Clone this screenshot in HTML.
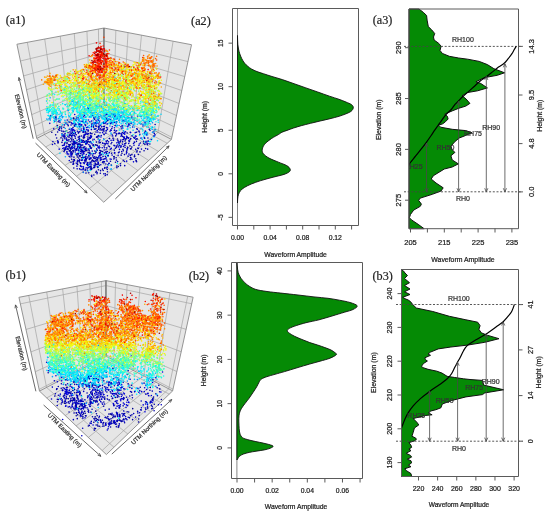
<!DOCTYPE html>
<html><head><meta charset="utf-8"><style>
html,body{margin:0;padding:0;background:#fff;}
svg{display:block;}
</style></head><body>
<svg width="550" height="515" viewBox="0 0 550 515">
<rect width="550" height="515" fill="#fff"/>
<path d="M237.5 8.5V225.5" stroke="#777" stroke-width="0.9"/>
<path d="M237.5 35.5C237.52 36.25 237.55 38.55 237.6 40C237.65 41.45 237.65 42.7 237.8 44.2C237.95 45.7 238.18 47.43 238.5 49C238.82 50.57 239.17 52.02 239.7 53.6C240.23 55.18 240.9 56.92 241.7 58.5C242.5 60.08 243.48 61.8 244.5 63.1C245.52 64.4 246.63 65.32 247.8 66.3C248.97 67.28 249.97 68.12 251.5 69C253.03 69.88 255.02 70.82 257 71.6C258.98 72.38 260.9 72.88 263.4 73.7C265.9 74.52 268.85 75.52 272 76.5C275.15 77.48 278.63 78.4 282.3 79.6C285.97 80.8 290.07 82.32 294 83.7C297.93 85.08 301.95 86.52 305.9 87.9C309.85 89.28 313.77 90.62 317.7 92C321.63 93.38 325.95 94.98 329.5 96.2C333.05 97.42 336.23 98.32 339 99.3C341.77 100.28 344.05 101.23 346.1 102.1C348.15 102.97 350.12 103.72 351.3 104.5C352.48 105.28 352.95 106 353.2 106.8C353.45 107.6 353.2 108.52 352.8 109.3C352.4 110.08 351.93 110.75 350.8 111.5C349.67 112.25 347.97 113 346 113.8C344.03 114.6 341.67 115.48 339 116.3C336.33 117.12 333.15 117.92 330 118.7C326.85 119.48 323.33 120.23 320.1 121C316.87 121.77 313.75 122.52 310.6 123.3C307.45 124.08 304.03 124.92 301.2 125.7C298.37 126.48 295.97 127.22 293.6 128C291.23 128.78 288.93 129.7 287 130.4C285.07 131.1 283.42 131.52 282 132.2C280.58 132.88 280.22 133.47 278.5 134.5C276.78 135.53 273.85 136.95 271.7 138.4C269.55 139.85 267.07 141.73 265.6 143.2C264.13 144.67 263.47 145.97 262.9 147.2C262.33 148.43 262.08 149.47 262.2 150.6C262.32 151.73 262.47 152.75 263.6 154C264.73 155.25 266.52 156.73 269 158.1C271.48 159.47 275.55 160.95 278.5 162.2C281.45 163.45 284.77 164.47 286.7 165.6C288.63 166.73 289.65 167.98 290.1 169C290.55 170.02 290.42 170.8 289.4 171.7C288.38 172.6 286.72 173.48 284 174.4C281.28 175.32 276.97 176.17 273.1 177.2C269.23 178.23 264.43 179.47 260.8 180.6C257.17 181.73 254.02 182.87 251.3 184C248.58 185.13 246.32 186.27 244.5 187.4C242.68 188.53 241.42 189.57 240.4 190.8C239.38 192.03 238.85 193.45 238.4 194.8C237.95 196.15 237.85 197.53 237.7 198.9C237.55 200.27 237.53 202.32 237.5 203Z" fill="#058a05" stroke="#111" stroke-width="0.9"/>
<path d="M232.5 8.5H358.5V225.5H232.5Z" fill="none" stroke="#5a5a5a" stroke-width="1"/>
<path d="M228.5 217.35H232.5M228.5 173.8H232.5M228.5 130.25H232.5M228.5 86.7H232.5M228.5 43.15H232.5" stroke="#5a5a5a" stroke-width="1" fill="none"/>
<path d="M237.5 225.5V229.5M253.8 225.5V229.5M270.1 225.5V229.5M286.4 225.5V229.5M302.7 225.5V229.5M319 225.5V229.5M335.3 225.5V229.5M351.6 225.5V229.5" stroke="#5a5a5a" stroke-width="1" fill="none"/>
<text x="222.6" y="217.35" font-size="6.8" text-anchor="middle" fill="#222" stroke="#222" stroke-width="0.22" style="font-family:'Liberation Sans',Arial,sans-serif" transform="rotate(-90 222.6 217.35)">-5</text>
<text x="222.6" y="173.8" font-size="6.8" text-anchor="middle" fill="#222" stroke="#222" stroke-width="0.22" style="font-family:'Liberation Sans',Arial,sans-serif" transform="rotate(-90 222.6 173.8)">0</text>
<text x="222.6" y="130.25" font-size="6.8" text-anchor="middle" fill="#222" stroke="#222" stroke-width="0.22" style="font-family:'Liberation Sans',Arial,sans-serif" transform="rotate(-90 222.6 130.25)">5</text>
<text x="222.6" y="86.7" font-size="6.8" text-anchor="middle" fill="#222" stroke="#222" stroke-width="0.22" style="font-family:'Liberation Sans',Arial,sans-serif" transform="rotate(-90 222.6 86.7)">10</text>
<text x="222.6" y="43.15" font-size="6.8" text-anchor="middle" fill="#222" stroke="#222" stroke-width="0.22" style="font-family:'Liberation Sans',Arial,sans-serif" transform="rotate(-90 222.6 43.15)">15</text>
<text x="237.5" y="240.3" font-size="6.8" text-anchor="middle" fill="#222" stroke="#222" stroke-width="0.22" style="font-family:'Liberation Sans',Arial,sans-serif">0.00</text>
<text x="270.1" y="240.3" font-size="6.8" text-anchor="middle" fill="#222" stroke="#222" stroke-width="0.22" style="font-family:'Liberation Sans',Arial,sans-serif">0.04</text>
<text x="302.7" y="240.3" font-size="6.8" text-anchor="middle" fill="#222" stroke="#222" stroke-width="0.22" style="font-family:'Liberation Sans',Arial,sans-serif">0.08</text>
<text x="335.3" y="240.3" font-size="6.8" text-anchor="middle" fill="#222" stroke="#222" stroke-width="0.22" style="font-family:'Liberation Sans',Arial,sans-serif">0.12</text>
<text x="295.6" y="257.2" font-size="6.8" text-anchor="middle" fill="#222" stroke="#222" stroke-width="0.22" style="font-family:'Liberation Sans',Arial,sans-serif">Waveform Amplitude</text>
<text x="206.8" y="116.8" font-size="6.8" text-anchor="middle" fill="#222" stroke="#222" stroke-width="0.22" style="font-family:'Liberation Sans',Arial,sans-serif" transform="rotate(-90 206.8 116.8)">Height (m)</text>
<text x="200.9" y="24.5" font-size="12.2" text-anchor="middle" fill="#222" stroke="#222" stroke-width="0.2" style="font-family:'Liberation Serif','Times New Roman',serif">(a2)</text>
<path d="M236.9 262.5V478.5" stroke="#777" stroke-width="0.9"/>
<path d="M236.9 263C236.97 263.67 237.08 265.42 237.3 267C237.52 268.58 237.72 270.83 238.2 272.5C238.68 274.17 239.45 275.68 240.2 277C240.95 278.32 241.48 279.07 242.7 280.4C243.92 281.73 245.38 283.52 247.5 285C249.62 286.48 252.15 288.22 255.4 289.3C258.65 290.38 262.75 290.87 267 291.5C271.25 292.13 275.73 292.52 280.9 293.1C286.07 293.68 292.48 294.37 298 295C303.52 295.63 309 296.35 314 296.9C319 297.45 323.77 297.75 328 298.3C332.23 298.85 335.73 299.5 339.4 300.2C343.07 300.9 347.03 301.57 350 302.5C352.97 303.43 356.7 304.63 357.2 305.8C357.7 306.97 355.12 308.43 353 309.5C350.88 310.57 348 311.12 344.5 312.2C341 313.28 336.25 314.73 332 316C327.75 317.27 323.33 318.68 319 319.8C314.67 320.92 309.8 321.73 306 322.7C302.2 323.67 298.95 324.67 296.2 325.6C293.45 326.53 290.98 327.45 289.5 328.3C288.02 329.15 287.3 329.87 287.3 330.7C287.3 331.53 288.28 332.37 289.5 333.3C290.72 334.23 292.52 335.27 294.6 336.3C296.68 337.33 299.47 338.45 302 339.5C304.53 340.55 307.22 341.68 309.8 342.6C312.38 343.52 314.98 344.17 317.5 345C320.02 345.83 322.65 346.77 324.9 347.6C327.15 348.43 329.32 349.15 331 350C332.68 350.85 334.12 351.92 335 352.7C335.88 353.48 337.13 353.78 336.3 354.7C335.47 355.62 332.72 357.12 330 358.2C327.28 359.28 323.37 360.23 320 361.2C316.63 362.17 313.63 362.9 309.8 364C305.97 365.1 301.22 366.53 297 367.8C292.78 369.07 288.17 370.52 284.5 371.6C280.83 372.68 277.95 373.45 275 374.3C272.05 375.15 269.05 375.92 266.8 376.7C264.55 377.48 262.75 378.17 261.5 379C260.25 379.83 260.1 380.4 259.3 381.7C258.5 383 257.75 385 256.7 386.8C255.65 388.6 254.25 390.62 253 392.5C251.75 394.38 250.53 396.27 249.2 398.1C247.87 399.93 246.27 401.82 245 403.5C243.73 405.18 242.47 406.78 241.6 408.2C240.73 409.62 240.23 410.73 239.8 412C239.37 413.27 239.17 414.3 239 415.8C238.83 417.3 238.8 419.32 238.8 421C238.8 422.68 238.9 424.23 239 425.9C239.1 427.57 239.18 429.53 239.4 431C239.62 432.47 239.9 433.72 240.3 434.7C240.7 435.68 241.17 436.27 241.8 436.9C242.43 437.53 242.57 437.9 244.1 438.5C245.63 439.1 248.47 439.87 251 440.5C253.53 441.13 256.63 441.72 259.3 442.3C261.97 442.88 264.7 443.37 267 444C269.3 444.63 272.6 445.38 273.1 446.1C273.6 446.82 271.47 447.67 270 448.3C268.53 448.93 266.63 449.42 264.3 449.9C261.97 450.38 258.52 450.78 256 451.2C253.48 451.62 251.28 451.93 249.2 452.4C247.12 452.87 244.98 453.45 243.5 454C242.02 454.55 241.12 455.17 240.3 455.7C239.48 456.23 239.02 456.7 238.6 457.2C238.18 457.7 238.08 458.23 237.8 458.7C237.52 459.17 237.05 459.78 236.9 460Z" fill="#058a05" stroke="#111" stroke-width="0.9"/>
<path d="M231.5 262.5H362.5V478.5H231.5Z" fill="none" stroke="#5a5a5a" stroke-width="1"/>
<path d="M227.5 447.9H231.5M227.5 403.65H231.5M227.5 359.4H231.5M227.5 315.15H231.5M227.5 270.9H231.5" stroke="#5a5a5a" stroke-width="1" fill="none"/>
<path d="M237 478.5V482.5M254.58 478.5V482.5M272.16 478.5V482.5M289.74 478.5V482.5M307.32 478.5V482.5M324.9 478.5V482.5M342.48 478.5V482.5M360.06 478.5V482.5" stroke="#5a5a5a" stroke-width="1" fill="none"/>
<text x="221.6" y="447.9" font-size="6.8" text-anchor="middle" fill="#222" stroke="#222" stroke-width="0.22" style="font-family:'Liberation Sans',Arial,sans-serif" transform="rotate(-90 221.6 447.9)">0</text>
<text x="221.6" y="403.65" font-size="6.8" text-anchor="middle" fill="#222" stroke="#222" stroke-width="0.22" style="font-family:'Liberation Sans',Arial,sans-serif" transform="rotate(-90 221.6 403.65)">10</text>
<text x="221.6" y="359.4" font-size="6.8" text-anchor="middle" fill="#222" stroke="#222" stroke-width="0.22" style="font-family:'Liberation Sans',Arial,sans-serif" transform="rotate(-90 221.6 359.4)">20</text>
<text x="221.6" y="315.15" font-size="6.8" text-anchor="middle" fill="#222" stroke="#222" stroke-width="0.22" style="font-family:'Liberation Sans',Arial,sans-serif" transform="rotate(-90 221.6 315.15)">30</text>
<text x="221.6" y="270.9" font-size="6.8" text-anchor="middle" fill="#222" stroke="#222" stroke-width="0.22" style="font-family:'Liberation Sans',Arial,sans-serif" transform="rotate(-90 221.6 270.9)">40</text>
<text x="237" y="493" font-size="6.8" text-anchor="middle" fill="#222" stroke="#222" stroke-width="0.22" style="font-family:'Liberation Sans',Arial,sans-serif">0.00</text>
<text x="272.16" y="493" font-size="6.8" text-anchor="middle" fill="#222" stroke="#222" stroke-width="0.22" style="font-family:'Liberation Sans',Arial,sans-serif">0.02</text>
<text x="307.32" y="493" font-size="6.8" text-anchor="middle" fill="#222" stroke="#222" stroke-width="0.22" style="font-family:'Liberation Sans',Arial,sans-serif">0.04</text>
<text x="342.48" y="493" font-size="6.8" text-anchor="middle" fill="#222" stroke="#222" stroke-width="0.22" style="font-family:'Liberation Sans',Arial,sans-serif">0.06</text>
<text x="296" y="509.3" font-size="6.8" text-anchor="middle" fill="#222" stroke="#222" stroke-width="0.22" style="font-family:'Liberation Sans',Arial,sans-serif">Waveform Amplitude</text>
<text x="206" y="370.4" font-size="6.8" text-anchor="middle" fill="#222" stroke="#222" stroke-width="0.22" style="font-family:'Liberation Sans',Arial,sans-serif" transform="rotate(-90 206 370.4)">Height (m)</text>
<text x="199" y="279.7" font-size="12.2" text-anchor="middle" fill="#222" stroke="#222" stroke-width="0.2" style="font-family:'Liberation Serif','Times New Roman',serif">(b2)</text>
<path d="M409 9L419 9L423.6 12.6L426.6 15.5L427.1 20.1L428.3 26.6L431.8 30L434.7 33.5L433.5 37L434.1 40L438.8 43.4L441.1 46.4L440 50.4L442.3 53.4L449.3 56.3L458.6 58L467.7 59.2L479.2 61.4L487.4 64.6L493.9 68.7L504.6 72.8L497.2 75.3L484.1 77.7L475.9 81.8L480.8 83.5L487.4 87.9L477.6 90.8L467.7 92.5L462 95.7L466.1 99L469.9 103.4L465.8 106.1L459 108.2L452.2 110.9L446.8 113.2L444.7 114.3L447.4 116.3L448.1 119L445.4 121.8L442.7 123.8L438.6 125.2L440.6 127.2L452.2 129.3L465.8 130.6L471.9 132.7L465.8 135.4L459 138.1L454.3 142.2L450.9 146.3L452.2 149.7L454.9 152.4L450.9 155.8L452.2 159.9L458.3 163.9L452.2 167L444.3 169L433.4 175.7L431.2 179L436 183L443.2 187.8L441 191L432.3 194.3L420.3 198.1L418.6 200.3L421.4 204.1L420.3 206.3L413.7 210.1L410.5 214.4L409.4 217.7L411.5 219.9L418.1 224.3L424.1 228.7L409 228.7Z" fill="#058a05" stroke="#111" stroke-width="1" stroke-linejoin="round"/>
<path d="M404 46.4H523M404 191.8H523" stroke="#444" stroke-width="0.9" stroke-dasharray="2 1.7" fill="none"/>
<clipPath id="ca3"><rect x="409" y="9" width="109.5" height="219.7"/></clipPath>
<path d="M404 170C404.73 169.2 407.33 166.45 408.4 165.2C409.47 163.95 409.15 164.08 410.4 162.5C411.65 160.92 414.08 157.97 415.9 155.7C417.72 153.43 419.62 151.05 421.3 148.9C422.98 146.75 424.42 144.95 426 142.8C427.58 140.65 429.32 138.15 430.8 136C432.28 133.85 433.65 131.72 434.9 129.9C436.15 128.08 437.4 126.35 438.3 125.1C439.2 123.85 439.07 124.1 440.3 122.4C441.53 120.7 443.88 117.05 445.7 114.9C447.52 112.75 449.65 111.25 451.2 109.5C452.75 107.75 453.73 105.88 455 104.4C456.27 102.92 457.53 101.87 458.8 100.6C460.07 99.33 461.13 98.17 462.6 96.8C464.07 95.43 465.72 94.08 467.6 92.4C469.48 90.72 471.8 88.6 473.9 86.7C476 84.8 478.08 82.68 480.2 81C482.32 79.32 484.48 78.17 486.6 76.6C488.72 75.03 490.92 73.18 492.9 71.6C494.88 70.02 496.62 68.48 498.5 67.1C500.38 65.72 502.62 64.67 504.2 63.3C505.78 61.93 506.73 60.47 508 58.9C509.27 57.33 510.75 55.47 511.8 53.9C512.85 52.33 513.57 50.75 514.3 49.5C515.03 48.25 515.88 46.92 516.2 46.4" stroke="#000" stroke-width="1.2" fill="none" clip-path="url(#ca3)"/>
<path d="M426.5 143.2V191.8M424.9 146.72L426.5 143.2L428.1 146.72M424.9 188.28L426.5 191.8L428.1 188.28M458.6 101.5V191.8M457 105.02L458.6 101.5L460.2 105.02M457 188.28L458.6 191.8L460.2 188.28M486.3 76.4V191.8M484.7 79.92L486.3 76.4L487.9 79.92M484.7 188.28L486.3 191.8L487.9 188.28M504.9 63.8V191.8M503.3 67.32L504.9 63.8L506.5 67.32M503.3 188.28L504.9 191.8L506.5 188.28" stroke="#484848" stroke-width="0.8" fill="none"/>
<path d="M409 9H518.5V228.7H409Z" fill="none" stroke="#5a5a5a" stroke-width="1"/>
<path d="M405 200.2H409M405 149.36H409M405 98.53H409M405 47.69H409" stroke="#5a5a5a" stroke-width="1" fill="none"/>
<path d="M518.5 46.4H522.5M518.5 95H522.5M518.5 143.6H522.5M518.5 191.9H522.5" stroke="#5a5a5a" stroke-width="1" fill="none"/>
<path d="M410.5 228.5V232.5M427.4 228.5V232.5M444.3 228.5V232.5M461.2 228.5V232.5M478.1 228.5V232.5M495 228.5V232.5M511.9 228.5V232.5" stroke="#5a5a5a" stroke-width="1" fill="none"/>
<text x="401.5" y="200.2" font-size="7.5" text-anchor="middle" fill="#222" stroke="#222" stroke-width="0.22" style="font-family:'Liberation Sans',Arial,sans-serif" transform="rotate(-90 401.5 200.2)">275</text>
<text x="401.5" y="149.36" font-size="7.5" text-anchor="middle" fill="#222" stroke="#222" stroke-width="0.22" style="font-family:'Liberation Sans',Arial,sans-serif" transform="rotate(-90 401.5 149.36)">280</text>
<text x="401.5" y="98.53" font-size="7.5" text-anchor="middle" fill="#222" stroke="#222" stroke-width="0.22" style="font-family:'Liberation Sans',Arial,sans-serif" transform="rotate(-90 401.5 98.53)">285</text>
<text x="401.5" y="47.69" font-size="7.5" text-anchor="middle" fill="#222" stroke="#222" stroke-width="0.22" style="font-family:'Liberation Sans',Arial,sans-serif" transform="rotate(-90 401.5 47.69)">290</text>
<text x="533.8" y="46.4" font-size="7.5" text-anchor="middle" fill="#222" stroke="#222" stroke-width="0.22" style="font-family:'Liberation Sans',Arial,sans-serif" transform="rotate(-90 533.8 46.4)">14.3</text>
<text x="533.8" y="95" font-size="7.5" text-anchor="middle" fill="#222" stroke="#222" stroke-width="0.22" style="font-family:'Liberation Sans',Arial,sans-serif" transform="rotate(-90 533.8 95)">9.5</text>
<text x="533.8" y="143.6" font-size="7.5" text-anchor="middle" fill="#222" stroke="#222" stroke-width="0.22" style="font-family:'Liberation Sans',Arial,sans-serif" transform="rotate(-90 533.8 143.6)">4.8</text>
<text x="533.8" y="191.9" font-size="7.5" text-anchor="middle" fill="#222" stroke="#222" stroke-width="0.22" style="font-family:'Liberation Sans',Arial,sans-serif" transform="rotate(-90 533.8 191.9)">0.0</text>
<text x="410.5" y="244.6" font-size="7.5" text-anchor="middle" fill="#222" stroke="#222" stroke-width="0.22" style="font-family:'Liberation Sans',Arial,sans-serif">205</text>
<text x="444.3" y="244.6" font-size="7.5" text-anchor="middle" fill="#222" stroke="#222" stroke-width="0.22" style="font-family:'Liberation Sans',Arial,sans-serif">215</text>
<text x="478.1" y="244.6" font-size="7.5" text-anchor="middle" fill="#222" stroke="#222" stroke-width="0.22" style="font-family:'Liberation Sans',Arial,sans-serif">225</text>
<text x="511.9" y="244.6" font-size="7.5" text-anchor="middle" fill="#222" stroke="#222" stroke-width="0.22" style="font-family:'Liberation Sans',Arial,sans-serif">235</text>
<text x="463" y="261.5" font-size="6.9" text-anchor="middle" fill="#222" stroke="#222" stroke-width="0.22" style="font-family:'Liberation Sans',Arial,sans-serif">Waveform Amplitude</text>
<text x="380.6" y="119.7" font-size="6.9" text-anchor="middle" fill="#222" stroke="#222" stroke-width="0.22" style="font-family:'Liberation Sans',Arial,sans-serif" transform="rotate(-90 380.6 119.7)">Elevation (m)</text>
<text x="542.5" y="115.7" font-size="6.9" text-anchor="middle" fill="#222" stroke="#222" stroke-width="0.22" style="font-family:'Liberation Sans',Arial,sans-serif" transform="rotate(-90 542.5 115.7)">Height (m)</text>
<g clip-path="url(#ca3)">
<text x="462.9" y="42" font-size="7" text-anchor="middle" fill="#333" stroke="#333" stroke-width="0.22" style="font-family:'Liberation Sans',Arial,sans-serif">RH100</text>
<text x="491.2" y="130" font-size="7" text-anchor="middle" fill="#333" stroke="#333" stroke-width="0.22" style="font-family:'Liberation Sans',Arial,sans-serif">RH90</text>
<text x="473" y="136.3" font-size="7" text-anchor="middle" fill="#333" stroke="#333" stroke-width="0.22" style="font-family:'Liberation Sans',Arial,sans-serif">RH75</text>
<text x="445.4" y="149.5" font-size="7" text-anchor="middle" fill="#333" stroke="#333" stroke-width="0.22" style="font-family:'Liberation Sans',Arial,sans-serif">RH50</text>
<text x="413.7" y="169" font-size="7" text-anchor="middle" fill="#333" stroke="#333" stroke-width="0.22" style="font-family:'Liberation Sans',Arial,sans-serif">RH25</text>
<text x="462.9" y="201.2" font-size="7" text-anchor="middle" fill="#333" stroke="#333" stroke-width="0.22" style="font-family:'Liberation Sans',Arial,sans-serif">RH0</text>
</g>
<text x="382.5" y="23.7" font-size="12.2" text-anchor="middle" fill="#222" stroke="#222" stroke-width="0.2" style="font-family:'Liberation Serif','Times New Roman',serif">(a3)</text>
<path d="M401.5 269.5L403.5 271L405 273L407.5 275.5L404.5 278.5L409.5 282.7L404.5 285.5L410 289L404.5 291.8L410 294.5L402.7 297.3L405 298.7L408.2 300L410.5 301.6L412.7 304.5L416.3 308L432.8 311.5L449.4 316.3L465.9 319.8L477.7 322.2L480.1 325.7L478.9 329.3L481.3 332.8L487.2 335.2L499 338.7L484.8 342.3L467.5 345.1L450.9 347L438.2 348.9L430.5 352.1L428 354L430.5 355.3L424.8 357.8L425.5 359.7L427.4 361L423.5 363.5L421.6 366.1L422.3 367.4L428 369.3L436.9 371.2L442 373.1L447.1 376.3L454.7 377.5L463.6 378.8L470 379.5L482.5 380.4L483.7 385.1L503.7 389.8L484.8 392.9L482.5 394.6L465.9 396.9L451.7 400.5L442.3 404L440.9 407.8L435.9 409.7L430.8 411L428.3 412.9L432.1 414.8L425.8 415.4L415.7 417.9L413.2 418.6L416.9 422.3L418.8 424.9L414.4 428L413.2 432.4L411.9 436.2L415.7 438.1L416.4 439.4L414.2 441L408.9 442.6L411 445.3L411.6 447.4L408.9 449L411 450.6L406.2 453.3L410.5 455.4L411.6 457.1L407.3 459.2L411 460.8L411.6 462.9L408.4 465.1L411 466.7L404.6 468.8L406.8 470.9L411 473.6L411.6 476.5L401.5 476.5Z" fill="#058a05" stroke="#111" stroke-width="1" stroke-linejoin="round"/>
<path d="M396 304.5H523M396 441.2H523" stroke="#444" stroke-width="0.9" stroke-dasharray="2 1.7" fill="none"/>
<clipPath id="cb3"><rect x="401.5" y="269.5" width="117" height="207"/></clipPath>
<path d="M398.5 440C398.95 438.22 400.55 431.72 401.2 429.3C401.85 426.88 401.78 427.18 402.4 425.5C403.02 423.82 403.95 421.3 404.9 419.2C405.85 417.1 406.72 415.12 408.1 412.9C409.48 410.68 411.1 408.32 413.2 405.9C415.3 403.48 417.97 400.82 420.7 398.4C423.43 395.98 426.43 393.72 429.6 391.4C432.77 389.08 436.77 386.6 439.7 384.5C442.63 382.4 445.2 380.63 447.2 378.8C449.2 376.97 450.43 375.42 451.7 373.5C452.97 371.58 453.88 369.1 454.8 367.3C455.72 365.5 456.28 364.38 457.2 362.7C458.12 361.02 459.27 359.15 460.3 357.2C461.33 355.25 462.25 352.93 463.4 351C464.55 349.07 465 347.53 467.2 345.6C469.4 343.67 473.52 341.28 476.6 339.4C479.68 337.52 483.38 335.7 485.7 334.3C488.02 332.9 488.57 332.37 490.5 331C492.43 329.63 495.18 327.65 497.3 326.1C499.42 324.55 501.42 323.32 503.2 321.7C504.98 320.08 506.63 318.02 508 316.4C509.37 314.78 510.52 313.47 511.4 312C512.28 310.53 512.82 308.85 513.3 307.6C513.78 306.35 514.13 305.02 514.3 304.5" stroke="#000" stroke-width="1.2" fill="none" clip-path="url(#cb3)"/>
<path d="M429.6 391.4V441.2M428 394.92L429.6 391.4L431.2 394.92M428 437.68L429.6 441.2L431.2 437.68M457.6 362.2V441.2M456 365.72L457.6 362.2L459.2 365.72M456 437.68L457.6 441.2L459.2 437.68M486.2 334.2V441.2M484.6 337.72L486.2 334.2L487.8 337.72M484.6 437.68L486.2 441.2L487.8 437.68M503.2 322V441.2M501.6 325.52L503.2 322L504.8 325.52M501.6 437.68L503.2 441.2L504.8 437.68" stroke="#484848" stroke-width="0.8" fill="none"/>
<path d="M401.5 269.5H518.5V476.5H401.5Z" fill="none" stroke="#5a5a5a" stroke-width="1"/>
<path d="M397.5 462.6H401.5M397.5 428.8H401.5M397.5 395H401.5M397.5 361.2H401.5M397.5 327.4H401.5M397.5 293.6H401.5" stroke="#5a5a5a" stroke-width="1" fill="none"/>
<path d="M518.5 304.6H522.5M518.5 349.9H522.5M518.5 395.6H522.5M518.5 441.2H522.5" stroke="#5a5a5a" stroke-width="1" fill="none"/>
<path d="M418.5 476.5V480.5M437.62 476.5V480.5M456.74 476.5V480.5M475.86 476.5V480.5M494.98 476.5V480.5M514.1 476.5V480.5" stroke="#5a5a5a" stroke-width="1" fill="none"/>
<text x="392.4" y="462.6" font-size="7.2" text-anchor="middle" fill="#222" stroke="#222" stroke-width="0.22" style="font-family:'Liberation Sans',Arial,sans-serif" transform="rotate(-90 392.4 462.6)">190</text>
<text x="392.4" y="428.8" font-size="7.2" text-anchor="middle" fill="#222" stroke="#222" stroke-width="0.22" style="font-family:'Liberation Sans',Arial,sans-serif" transform="rotate(-90 392.4 428.8)">200</text>
<text x="392.4" y="395" font-size="7.2" text-anchor="middle" fill="#222" stroke="#222" stroke-width="0.22" style="font-family:'Liberation Sans',Arial,sans-serif" transform="rotate(-90 392.4 395)">210</text>
<text x="392.4" y="361.2" font-size="7.2" text-anchor="middle" fill="#222" stroke="#222" stroke-width="0.22" style="font-family:'Liberation Sans',Arial,sans-serif" transform="rotate(-90 392.4 361.2)">220</text>
<text x="392.4" y="327.4" font-size="7.2" text-anchor="middle" fill="#222" stroke="#222" stroke-width="0.22" style="font-family:'Liberation Sans',Arial,sans-serif" transform="rotate(-90 392.4 327.4)">230</text>
<text x="392.4" y="293.6" font-size="7.2" text-anchor="middle" fill="#222" stroke="#222" stroke-width="0.22" style="font-family:'Liberation Sans',Arial,sans-serif" transform="rotate(-90 392.4 293.6)">240</text>
<text x="533.4" y="304.6" font-size="7.2" text-anchor="middle" fill="#222" stroke="#222" stroke-width="0.22" style="font-family:'Liberation Sans',Arial,sans-serif" transform="rotate(-90 533.4 304.6)">41</text>
<text x="533.4" y="349.9" font-size="7.2" text-anchor="middle" fill="#222" stroke="#222" stroke-width="0.22" style="font-family:'Liberation Sans',Arial,sans-serif" transform="rotate(-90 533.4 349.9)">27</text>
<text x="533.4" y="395.6" font-size="7.2" text-anchor="middle" fill="#222" stroke="#222" stroke-width="0.22" style="font-family:'Liberation Sans',Arial,sans-serif" transform="rotate(-90 533.4 395.6)">14</text>
<text x="533.4" y="441.2" font-size="7.2" text-anchor="middle" fill="#222" stroke="#222" stroke-width="0.22" style="font-family:'Liberation Sans',Arial,sans-serif" transform="rotate(-90 533.4 441.2)">0</text>
<text x="418.5" y="491" font-size="7" text-anchor="middle" fill="#222" stroke="#222" stroke-width="0.22" style="font-family:'Liberation Sans',Arial,sans-serif">220</text>
<text x="437.62" y="491" font-size="7" text-anchor="middle" fill="#222" stroke="#222" stroke-width="0.22" style="font-family:'Liberation Sans',Arial,sans-serif">240</text>
<text x="456.74" y="491" font-size="7" text-anchor="middle" fill="#222" stroke="#222" stroke-width="0.22" style="font-family:'Liberation Sans',Arial,sans-serif">260</text>
<text x="475.86" y="491" font-size="7" text-anchor="middle" fill="#222" stroke="#222" stroke-width="0.22" style="font-family:'Liberation Sans',Arial,sans-serif">280</text>
<text x="494.98" y="491" font-size="7" text-anchor="middle" fill="#222" stroke="#222" stroke-width="0.22" style="font-family:'Liberation Sans',Arial,sans-serif">300</text>
<text x="514.1" y="491" font-size="7" text-anchor="middle" fill="#222" stroke="#222" stroke-width="0.22" style="font-family:'Liberation Sans',Arial,sans-serif">320</text>
<text x="459" y="507" font-size="6.6" text-anchor="middle" fill="#222" stroke="#222" stroke-width="0.22" style="font-family:'Liberation Sans',Arial,sans-serif">Waveform Amplitude</text>
<text x="375.6" y="372.6" font-size="6.9" text-anchor="middle" fill="#222" stroke="#222" stroke-width="0.22" style="font-family:'Liberation Sans',Arial,sans-serif" transform="rotate(-90 375.6 372.6)">Elevation (m)</text>
<text x="541.5" y="372.3" font-size="6.9" text-anchor="middle" fill="#222" stroke="#222" stroke-width="0.22" style="font-family:'Liberation Sans',Arial,sans-serif" transform="rotate(-90 541.5 372.3)">Height (m)</text>
<g clip-path="url(#cb3)">
<text x="458.8" y="301" font-size="7" text-anchor="middle" fill="#333" stroke="#333" stroke-width="0.22" style="font-family:'Liberation Sans',Arial,sans-serif">RH100</text>
<text x="490.7" y="384" font-size="7" text-anchor="middle" fill="#333" stroke="#333" stroke-width="0.22" style="font-family:'Liberation Sans',Arial,sans-serif">RH90</text>
<text x="474.2" y="390.4" font-size="7" text-anchor="middle" fill="#333" stroke="#333" stroke-width="0.22" style="font-family:'Liberation Sans',Arial,sans-serif">RH75</text>
<text x="444.6" y="403.4" font-size="7" text-anchor="middle" fill="#333" stroke="#333" stroke-width="0.22" style="font-family:'Liberation Sans',Arial,sans-serif">RH50</text>
<text x="416.3" y="418.3" font-size="7" text-anchor="middle" fill="#333" stroke="#333" stroke-width="0.22" style="font-family:'Liberation Sans',Arial,sans-serif">RH25</text>
<text x="459" y="450.5" font-size="7" text-anchor="middle" fill="#333" stroke="#333" stroke-width="0.22" style="font-family:'Liberation Sans',Arial,sans-serif">RH0</text>
</g>
<text x="382.7" y="279.9" font-size="12.2" text-anchor="middle" fill="#222" stroke="#222" stroke-width="0.2" style="font-family:'Liberation Serif','Times New Roman',serif">(b3)</text>
<path d="M16.92 44.24L103.96 28.03L103.95 104.12L36.74 138.45Z" fill="#e6e6e6" stroke="none"/>
<path d="M103.96 28.03L191.52 44.71L171.42 139.4L103.95 104.12Z" fill="#e6e6e6" stroke="none"/>
<path d="M36.74 138.45L103.95 104.12L171.42 139.4L103.74 202.26Z" fill="#e6e6e6" stroke="none"/>
<path d="M27.32 42.3L44.33 134.58L112 194.59M44.73 39.06L57.29 127.96L125.72 181.84M60.29 36.16L69.16 121.89L137.88 170.56M74.29 33.56L80.06 116.32L148.72 160.49M86.94 31.2L90.12 111.19L158.44 151.45M98.44 29.06L99.42 106.43L167.22 143.3M115.85 30.3L113.64 109.19L45.67 146.95M128 32.61L123.36 114.28L54.84 155.69M141.44 35.17L133.91 119.79L65.05 165.41M156.39 38.02L145.4 125.8L76.49 176.31M173.11 41.21L157.95 132.36L89.4 188.6M20.45 60.99L103.96 40.87L187.94 61.58M23.59 75.92L103.96 52.55L184.75 76.6M26.5 89.77L103.95 63.59L181.79 90.52M29.21 102.65L103.95 74.05L179.05 103.46M31.74 114.65L103.95 83.97L176.49 115.51M34.1 125.87L103.95 93.39L174.1 126.78M36.31 136.38L103.95 102.34L171.86 137.32" fill="none" stroke="#a4a4a4" stroke-width="0.7"/>
<path d="M36.74 138.45L16.92 44.24L103.96 28.03L191.52 44.71L171.42 139.4L103.74 202.26L36.74 138.45L103.95 104.12L171.42 139.4M103.96 28.03L103.95 104.12" fill="none" stroke="#8a8a8a" stroke-width="0.9" stroke-linejoin="round"/>
<path d="M103.96 28.03L103.95 104.12" fill="none" stroke="#7a7a7a" stroke-width="1.4"/>
<path d="M123.62 139.49h0M103.89 163.07h0M71.08 151.68h0M80.17 144.98h0M78.7 158.02h0M125.13 140.99h0M89.11 150.67h0M79.68 147.41h0M70.99 162.25h0M83.11 156.94h0M78.48 132.64h0M100.85 159.8h0M86.89 133.06h0M83.3 157.2h0M83.19 151.37h0M96.95 161.05h0M110.93 113.79h0M95.84 172.25h0M129.96 145.88h0M87.39 142.82h0M66.97 143.62h0M126.73 137.04h0M70.36 150.3h0M114.29 158.06h0" stroke="#00008c" stroke-width="1.6" stroke-linecap="round" fill="none"/>
<path d="M73.01 127.55h0M130.18 132.28h0M71.82 153.67h0M93.69 153.75h0M77.41 144.62h0M90.13 138.17h0M139.94 151.91h0M73.28 151.85h0M99.84 147.43h0M79.43 139.4h0M80.6 163.8h0M149.28 129.38h0M66.68 130.69h0M96.4 171.19h0M112.21 134.97h0M78.88 146.05h0M145.67 148.54h0M125.07 147.45h0M63.94 134.77h0M72.51 144.43h0M100.83 154.16h0M96.77 159.28h0M105.2 144.68h0M155.18 129.43h0M78.17 153.19h0M85.65 141.94h0M107.25 169.4h0M85.03 160.1h0M85.88 142.43h0M127.25 122.26h0M113.7 118.54h0M77.5 147.61h0M88.2 152.67h0M109.54 146.67h0M106.48 127.58h0M123.35 150.71h0M67.63 140.26h0M85.33 169.26h0M153.67 136.21h0M81.76 141.93h0M96.04 123.73h0M85.52 131.53h0M113.05 138.4h0M89.33 159.47h0M98.65 129.14h0M64.59 150.59h0M57.28 125.47h0M131.96 159.24h0M93.12 144.73h0M72.55 129.94h0M62.47 145.57h0M90.85 148.13h0M64.92 136.92h0M138.28 154.55h0M71.43 139.83h0M78.88 144.13h0M91.68 176.53h0M87.61 168.11h0M69.41 145.03h0M66.58 146.37h0M87.84 134.32h0M88.37 130.22h0M134.54 142.48h0M69.97 156.87h0M73.52 118.12h0M84.71 141.65h0M104.19 128.61h0M138.4 148.55h0M98.96 136.67h0M105.64 152.1h0M154.26 133.4h0M115.1 115.39h0M99.72 139.87h0M90.25 137.22h0M77.05 140.21h0M140.83 116.46h0M122.36 132.59h0M77.99 147.95h0M64.49 143.87h0M120.52 165.59h0M131.9 154.63h0M89.13 137.88h0M125.4 139.73h0M68.8 144.43h0M116.77 165.94h0M119.38 145.25h0M100.79 125.12h0M70.15 134.73h0M92.46 160.11h0M99.94 157.93h0M80.87 147.2h0M143.55 141.26h0M134.51 138.24h0M96.38 142.08h0M96.03 164.32h0M80.38 144.34h0M119.07 120.39h0M82.68 158.01h0M96.03 132.1h0M71.84 154.92h0M100.9 157.44h0M122.17 125.62h0M91.82 160.92h0M86.92 143.81h0M82.37 157.31h0M130.6 148.89h0M117.93 140.38h0M116.22 133.5h0M80.82 163.16h0M100.6 150.87h0M90.32 166.95h0M70.52 148.61h0M74.48 135.38h0M135.84 158.73h0M144.07 150.76h0M94.77 156.71h0M58.18 121.75h0M64.88 138.66h0M95.43 160.89h0M83.71 129.37h0M88.99 156.78h0M82.74 145.07h0M56.63 138.06h0M94.57 119.16h0M57.63 132.06h0M69.44 147.77h0M100.17 152.52h0M89.63 142.08h0M89.86 146.52h0M111.83 128.56h0M72.04 137.98h0M69.87 122.31h0M73.91 147.45h0M86.13 160.97h0M80.57 165.69h0M90.99 158.59h0" stroke="#0000a6" stroke-width="1.6" stroke-linecap="round" fill="none"/>
<path d="M95.23 158.86h0M124.35 161.45h0M90.99 142.82h0M153.5 111.31h0M82.13 160.24h0M131.03 158.11h0M85.92 143.96h0M85.87 159.74h0M88.71 155.4h0M73.46 161.98h0M144.42 133.15h0M103.49 159.19h0M80.18 155.82h0M104.13 149.97h0M108.57 141.83h0M77.97 144.78h0M86.11 133.83h0M64.59 136.9h0M76.28 134.74h0M85.65 159.23h0M139.38 132.02h0M75.15 133.67h0M120.89 126.82h0M65.43 149.49h0M61.51 128.71h0M91.01 153.71h0M122.29 127.04h0M62.73 139.01h0M103.77 123.46h0M49.16 111.22h0M89.82 152.42h0M147.66 149.15h0M84.14 157.27h0M98.04 162.31h0M143.61 143.27h0M88.33 133.48h0M96.88 145.22h0M102.69 162.31h0M106.69 160h0M127.09 148.86h0M86.3 159.29h0M90.3 147.03h0M85.41 117.34h0M77.35 161.47h0M105.23 118.4h0M74.47 141.74h0M81.05 142.09h0M75.11 132.92h0M76.44 148.92h0M128.98 154.11h0M112.1 155.1h0M97.07 122.37h0M99.5 155.43h0M65.84 131.35h0M142.92 125.99h0M52.45 144.46h0M70.41 144.62h0M93.92 158.31h0M76.89 142.6h0M134.34 141.98h0M120.94 136.3h0M101.49 126.79h0M123.47 146.39h0M81.77 124.96h0M90.34 133.3h0M79.96 106.83h0M83.97 142.24h0M71.37 154.57h0M131.49 123.15h0M90.34 141.46h0M86.12 140.89h0M71.8 156.74h0M84.72 149.07h0M106.82 147.89h0M95.34 104.42h0M83.94 153.78h0M52.92 141.45h0M67.8 124.3h0M104.14 134.59h0M85.7 141.73h0M134.59 155.13h0M95.93 151.68h0M63.79 135.69h0M75.42 132.8h0M90.66 170.04h0M97.83 113.98h0M124.73 133.02h0M98.44 147.41h0M59.57 130.3h0M84.58 135.6h0M83.56 157.58h0M83.19 137.34h0M59.96 122.14h0M92.21 151.11h0M73.01 135.13h0M138.89 131.16h0M109.56 138.51h0M124.73 165.65h0M141.47 149.12h0M72.4 148.31h0M146.95 141.27h0M120.09 117.23h0M81.89 140.39h0M101.22 135.43h0M80.32 153.52h0M98.96 123.94h0" stroke="#0000bf" stroke-width="1.6" stroke-linecap="round" fill="none"/>
<path d="M124.04 137.61h0M126.37 153.8h0M108.91 119.62h0M96.34 123.62h0M84.42 137.34h0M74.21 130.36h0M82.33 159.31h0M54.8 121.17h0M150.01 130.35h0M121.96 128.59h0M73.27 123.35h0M73.57 161.36h0M114.49 127.8h0M68.76 154.11h0M101.83 159.41h0M94.96 122.69h0M78.73 139.31h0M79.47 136.24h0M91.02 166.1h0M83.5 131.77h0M135.26 132.46h0M74.66 146.97h0M88.49 119.96h0M62.76 148.5h0M124.88 145.58h0M111.28 148.24h0M116.54 134.71h0M112.31 126.7h0M100.2 155.71h0M128.19 125.72h0M73.84 150.6h0M99.52 139.96h0M91.59 120.99h0M75.93 142.31h0M150.31 118.76h0M100.94 136.95h0M74.57 160.27h0M99.04 141.3h0M80.91 149.75h0M148.68 123.5h0M99.09 148.15h0M127.76 126.68h0M124.97 138.5h0M87.79 130.07h0M86.36 154.43h0M94 167.13h0M85.43 149.08h0M66.99 152.83h0M137.36 129.36h0M99.48 153.42h0M134.45 118.46h0M106.07 140.95h0M54.04 111.31h0M106.41 130.57h0M119.51 149.39h0M113.7 140.11h0M126.09 123.57h0M83.51 116.79h0M100.39 160.22h0M80.63 166.18h0M81.79 166.53h0M116.88 142.85h0M97.53 136.93h0M114.58 145.77h0M107.52 127.93h0M98.54 163.77h0M138.9 145.5h0M70.85 129.98h0M88.69 167.51h0M83.51 122.46h0M83.49 127.02h0M121.02 116.12h0M136.9 151.89h0M79.53 160.4h0M81.15 145.51h0M83.42 168.16h0M84.02 128.85h0M75.27 152.02h0M104.39 147.76h0M100.61 157.9h0M71.62 128.81h0M86.55 127.58h0M79.77 148.6h0M83.38 166.77h0M74.54 120.54h0M113.99 121.18h0M104.27 152.9h0M103.45 116.23h0M73.77 141.26h0M116.12 122.26h0M67.24 120.03h0M72.14 148.56h0M107.21 123.92h0" stroke="#0000d9" stroke-width="1.6" stroke-linecap="round" fill="none"/>
<path d="M106.62 104.89h0M98.26 118.26h0M116.24 123.38h0M78.38 122.19h0M124.17 116.29h0M91.03 142.37h0M91.16 142.19h0M118.03 114.88h0M98.64 157.51h0" stroke="#008cff" stroke-width="1.6" stroke-linecap="round" fill="none"/>
<path d="M103.07 110.78h0M104.21 110.3h0M94.25 109.12h0M65.38 156.76h0M89.27 127.73h0M56.85 119.05h0M128.06 118.04h0M147.17 121.93h0M143.81 121h0M111.05 169.11h0M94.44 123.11h0M76.72 124.31h0M64.96 120.39h0M115.74 121.99h0M88.39 109.16h0M106.33 153.88h0M99.33 135.69h0M78.85 123.64h0M82.18 155.14h0M95.56 123.77h0M134.72 120.17h0M48.4 112.8h0M139.29 123.56h0M94.34 165.48h0M77.3 95.8h0M89.32 105.22h0M100.72 115.45h0M143.96 125.17h0M113.18 109.72h0M154.16 131.35h0M91.63 124.67h0M87.93 170.92h0M62.25 117.73h0M125.42 118.89h0M60.67 127.2h0M147.53 118.13h0" stroke="#00a6ff" stroke-width="1.6" stroke-linecap="round" fill="none"/>
<path d="M81.05 115.14h0M91.54 105.91h0M114.06 117.64h0M92.14 106.87h0M82.77 121.71h0M158.12 120.31h0M141.99 115.46h0M88.61 165.46h0M84.91 122.69h0M119.7 119.88h0M74.14 120.85h0M108.15 115.26h0M134.71 123.1h0M56.4 112.7h0M61.18 119.73h0M48.31 115.43h0M147.15 119.87h0M85.57 120.27h0M133.37 122.48h0M128.99 120.76h0M150.28 119.29h0M60.45 111.23h0M131.46 115.51h0M118.26 110.42h0M126.41 109.44h0M117.71 111.7h0M50.2 97.74h0M80.88 104.4h0M111.07 118.95h0M84.71 111.76h0M59.64 116.64h0M102.23 122.81h0M146.02 123.81h0M123.99 112.14h0M130.2 127.73h0M154.39 111.7h0M126.18 113.31h0M124.65 117.45h0M128.82 121.62h0M93.19 120.1h0M119.7 120.78h0M132.87 108.41h0M150.69 113.44h0M103.37 114.83h0M87.14 113.1h0M61.23 112.97h0M89.93 111.54h0M53.47 111.54h0M80.61 118.17h0M53.96 110.52h0M89.29 125.62h0M100.06 114.26h0M109.37 111.94h0M146.28 114.07h0M132.91 111.48h0M85.63 116.22h0M83.9 100.97h0M151.07 110.44h0M154.98 119.31h0M116.02 119.59h0M102.07 118.09h0M109.09 113.04h0M89.82 166.62h0M97.72 108.38h0M142.07 93.75h0M73.83 145.9h0M111.32 120.84h0M83.16 119.87h0M102.96 118.45h0M114 113.48h0M82.16 118.63h0M133.1 130.31h0M85.84 116.59h0" stroke="#00bfff" stroke-width="1.6" stroke-linecap="round" fill="none"/>
<path d="M114.47 112.03h0M82.03 115.69h0M115.86 114.69h0M57.34 126.97h0M48.22 115.62h0M127.55 114.52h0M112.89 116.87h0M59.04 114.35h0M103.68 108.04h0M142.18 120.17h0M112.76 122.6h0M47.95 120.02h0M126.6 119.29h0M111.14 120.44h0M84.29 123.36h0M110.82 123.73h0M76.76 97.95h0M56.59 114.73h0M146.21 116.66h0M121.07 112.1h0M73.24 107.26h0M62.4 124.82h0M116.52 121.88h0M71.91 133.75h0M104.83 115.52h0M94.25 112.31h0M89.42 110.63h0M91.09 116.68h0M129.63 118.27h0M125.96 121.59h0M142.64 129.37h0M67.46 106.23h0M142.74 106.4h0M91.88 116.24h0M116.76 116.62h0M91.82 107.59h0M73.73 100.77h0M155.31 101.56h0M111.13 114.29h0M93.84 117.38h0M81.99 113.68h0M101.71 107.17h0M147.36 114.74h0M92.94 96.69h0M108.28 116.24h0M100.05 112.37h0M130.3 113.74h0M145.45 132.08h0M98.05 118.89h0M94.25 128.87h0M80 115.03h0M55.21 111.77h0M119.16 120.14h0M59.35 109.04h0M114.81 107.99h0M105.96 154.75h0M153.96 118.74h0M149.13 117.86h0M96.76 103.71h0M134.5 112.29h0M59.92 153.2h0M46.93 106.79h0M77.39 112.7h0M78.35 117.26h0M91.23 117.12h0M75.11 119.47h0M110.2 105.84h0M78.77 150.33h0M109.48 118.84h0M99.38 126.56h0M54.4 116.7h0M139.57 135.38h0M76.21 125.89h0M131.31 117.66h0M126.77 123.85h0M82.95 112.54h0" stroke="#00d9ff" stroke-width="1.6" stroke-linecap="round" fill="none"/>
<path d="M91.23 99.89h0M63.55 108.92h0M128.41 106.01h0M80.53 123.16h0M112.28 115.1h0M76.41 111.11h0M103.26 118.48h0M100.37 112.4h0M157.89 116.03h0M81.86 116.17h0M105.16 117.16h0M132.49 79.89h0M151.97 139.09h0M69.38 146.96h0M94.6 114.29h0M112.95 124.14h0M66.13 92.39h0M78.1 106.32h0M98.87 106.78h0M99.07 112.23h0M89.91 163.46h0M153.22 120.01h0M111.57 165.39h0M53.15 102.83h0M78.85 107.73h0M143.94 118.71h0M66.12 116.92h0M119.67 107.45h0M73.5 100.82h0M97.2 107.27h0M155.03 114.79h0M130.41 112.55h0M129.21 107.77h0M69.87 102.71h0M118.25 113.61h0M90.26 112.7h0M82.92 99.5h0M127.09 114.01h0M96.41 122.53h0M106.94 110.84h0M56.04 106.11h0M158.61 107.09h0M83.12 100.52h0M70.44 100.71h0M85.08 113.76h0M77.58 95.72h0M116 118.99h0M124.86 110.65h0M82.24 117.46h0M78.57 112.32h0M87.88 126.49h0M156.58 107.8h0M94.61 103.27h0M99.32 112.04h0M137.32 110.42h0M111.11 112.07h0M50.1 110.44h0M86.44 104.41h0M123.86 125.41h0M131.8 122.18h0M85.49 122.09h0M152.13 112.99h0M154.77 126.96h0M57.12 113.71h0M102.39 108.97h0M83.2 108.06h0" stroke="#00f2ff" stroke-width="1.6" stroke-linecap="round" fill="none"/>
<path d="M124.58 112.4h0M131.16 123.55h0M94.27 110.39h0M114.72 113.76h0M143.72 98.05h0M149.91 120.09h0M124.02 111.43h0M58.95 94.37h0M144.82 114.09h0M76.35 104.7h0M109.07 114.72h0M79.2 113.02h0M146.44 132.73h0M80 98.48h0M86.18 82.86h0M104.78 117.62h0M127.97 117.88h0M69.4 112.79h0M76.47 121.09h0M84.11 109.88h0M102.26 119.02h0M90.16 108.26h0M93.76 115.46h0M82.42 99.91h0M109.2 115.49h0M72.8 111.11h0M155.86 130.01h0M142.94 112.25h0M126.72 123.02h0M51.69 108.88h0M54.18 109.02h0M79.96 105.71h0M120.21 118.74h0M53.03 105.17h0M93.16 113.7h0M151.78 116.89h0M145.11 122.07h0M145.17 121.22h0M88.99 110.9h0M52.1 109.78h0M143.87 112.56h0M97.7 106.67h0M144.63 105.92h0M107.46 119.06h0M147.2 125.03h0M87.46 112.7h0M99.11 120.88h0M96.62 106.86h0M97.74 115.85h0M48.79 110.61h0M104.67 110.91h0M50.43 105.02h0M144.95 138.2h0M88.74 103.33h0M85.97 114.54h0M123.2 109.4h0M156.16 112.33h0M54.05 122.54h0M90.5 115.19h0M85.56 113.11h0M151.45 127.31h0M47.06 112.37h0M115.04 105.08h0M83.03 122.68h0M96.08 150.85h0M133.43 117.64h0M106.76 113.68h0M130.35 119.35h0M119.25 83.18h0M46.16 109.28h0M117.99 104.28h0" stroke="#0dfff2" stroke-width="1.6" stroke-linecap="round" fill="none"/>
<path d="M51.94 113.63h0M53.47 110.62h0M126.78 114.89h0M89.72 100.67h0M70.3 115.6h0M79.19 104.7h0M125.57 113.36h0M78.03 101.1h0M93.51 103.87h0M53.98 111.4h0M149.9 118.53h0M144.68 117.07h0M118.26 99.88h0M80.46 112.34h0M103.7 100.61h0M136 113.52h0M137.02 118.21h0M81.51 112.88h0M157.29 99.9h0M86 98.88h0M75.5 105.15h0M148.31 115.38h0M143.41 120.1h0M47.88 108.35h0M121.04 113.16h0M77.89 115.61h0M145.45 109.75h0M114.88 107.55h0M146.17 112.3h0M140.69 101.7h0M121.14 106.97h0M119.84 99.01h0M151.37 118.37h0M54.06 83.74h0M49.77 107.45h0M76.77 109.4h0M92.98 107.35h0M135.68 113.44h0M103.83 110.8h0M100.98 115.56h0M127.21 98.73h0M83.99 103.84h0M119.78 111.61h0M142.38 115.53h0M80.21 92.92h0M144.91 113.94h0M49.7 109.13h0M152.83 114.79h0M129.5 88.15h0M125.62 95.36h0M96.49 93.56h0M109.92 113.75h0" stroke="#26ffd9" stroke-width="1.6" stroke-linecap="round" fill="none"/>
<path d="M93.44 114.96h0M76.69 99.14h0M75.29 101.68h0M66.04 88.84h0M78.32 103.51h0M128.46 110.06h0M126.11 86.48h0M124.79 110.28h0M109.87 106.15h0M87.73 99.85h0M154.68 112.52h0M72.8 93.72h0M111.58 97.45h0M78.83 100.88h0M76.68 99.24h0M77.49 101.44h0M88.26 94.08h0M82.04 105.32h0M109.45 109.15h0M116.8 92.64h0M80.57 100.45h0M74.67 100.25h0M111.47 106.32h0M131.48 107.32h0M53.18 107.45h0M60.46 84.87h0M78.21 110.02h0M55.39 100.04h0M129.73 120.04h0M70.04 90.53h0M103.65 97h0M84.13 87.67h0M95.35 109h0M70.33 93.12h0M139.62 121.72h0M125.38 103.89h0M84.76 110.24h0M55.58 111.78h0M106.33 110.55h0M89.03 111.03h0M79.29 96.16h0M139.82 112.33h0M105.63 101.58h0M84.75 90.24h0M49.61 106.62h0M90.46 103.92h0M156.42 116.67h0M100.1 87.82h0" stroke="#40ffbf" stroke-width="1.6" stroke-linecap="round" fill="none"/>
<path d="M49.62 100.73h0M127.1 111.3h0M91.89 93.8h0M100.27 86.8h0M142.56 109.59h0M79.79 95.88h0M139.81 88.82h0M123.01 92.33h0M82.75 90.59h0M87.82 110.67h0M69.41 104.85h0M108.84 100.3h0M60.72 104.81h0M93.56 109.42h0M124.78 93.09h0M144.57 112.27h0M150.29 109.17h0M102.54 87.5h0M103.46 103.72h0M118.18 106.33h0M80.24 95.96h0M73.17 73.33h0M94.95 109.21h0M157.01 111.54h0M84.41 109.15h0M148.37 110.84h0M125.57 114.64h0M136.27 108.3h0M64.36 92.24h0M124.72 100.28h0M117.21 105.63h0M143.37 112.35h0M80.16 85.27h0M86.13 95.82h0M103.58 95.64h0M106.59 94.16h0M139.15 66.12h0M115.91 88.49h0M76.89 92.83h0M124.85 106.22h0M90 98.56h0M156.69 112.49h0M112.39 115.43h0M156.27 110.31h0M63.04 100.42h0M76.05 95.24h0M95.63 116.75h0M123.8 97.08h0M103.91 109.12h0M123.65 106.59h0M108.99 110.05h0M70.14 94.19h0M113.62 115.14h0M104.25 105.38h0M69.22 99.22h0M111.56 100.49h0M55.86 92.02h0M100.7 99.29h0M153.46 108.18h0M124.44 101.76h0M74.63 84h0M59.11 87.86h0M143.45 104.97h0M79.08 106.09h0" stroke="#59ffa6" stroke-width="1.6" stroke-linecap="round" fill="none"/>
<path d="M117.48 96.56h0M80.31 94.51h0M85.97 104.59h0M148.94 110.64h0M71.89 97.29h0M149.84 111.2h0M67.88 79.82h0M100.16 99.45h0M95.79 93.87h0M149.68 119.82h0M65.41 79.86h0M96.98 111.33h0M143.06 83.09h0M158.83 115.47h0M139.24 115.81h0M146.55 93.1h0M127.49 97.8h0M133.7 111.09h0M91.35 98.2h0M131.3 88.54h0M101.11 107.49h0M55.66 105.41h0M155.44 117.39h0M109.74 104.72h0M131.14 82.25h0M134.83 118.78h0M101.45 107.09h0M81.41 110.26h0M90.75 97.93h0M75.47 83.06h0M101.55 95.44h0M125.24 95.39h0M113.68 101.07h0M57.73 82.71h0M98.76 107.51h0M113.76 110.49h0M80.3 95.55h0M141.67 112.08h0M154.85 105.99h0M67.29 96.11h0M98.7 107.16h0M117.25 103.09h0M138.02 108.07h0M150.76 110.36h0M84.86 107.09h0M123.5 99.2h0M125.25 109.27h0M152.91 101.75h0" stroke="#73ff8c" stroke-width="1.6" stroke-linecap="round" fill="none"/>
<path d="M150.1 79.4h0M91.23 85.92h0M115.94 85.07h0M90.49 108.78h0M105.94 107.44h0M108.64 81.44h0M114.58 99.9h0M96.28 102.71h0M116.99 105.78h0M81.19 96.57h0M150.58 94.37h0M128.32 107.74h0M118.32 112.54h0M88.24 105.5h0M82.17 78.68h0M104.91 109.39h0M141.59 109.07h0M95.25 105.61h0M121.03 94.51h0M97.65 107.77h0M118.16 109.18h0M112.11 91.02h0M82.94 91.26h0M119.47 93.37h0M115.17 86.21h0M73.61 90.83h0M141.56 106.01h0M143.06 96.36h0M88.75 91.74h0M92.63 93.23h0M127.95 97.12h0M103.47 106.38h0M91.2 94.33h0M106.89 107.43h0M96.78 103.38h0M63.28 88.71h0M108.4 98.65h0M108.48 89.09h0M82.11 80.69h0M65.03 84.08h0M146.92 107.18h0M89.98 85.55h0M140.58 94.93h0M122.39 94.67h0M95.55 96.18h0M66.54 93.57h0M88.08 91.06h0M74.08 104.29h0M62.85 89.35h0M144.69 111.52h0M145.27 98.32h0M97.55 101.65h0M79.75 106.09h0M83.7 97.66h0M79.22 89.65h0M64.95 93.56h0M80.8 96.13h0M49.5 88.53h0M60 83.58h0M91.76 105.03h0" stroke="#8cff73" stroke-width="1.6" stroke-linecap="round" fill="none"/>
<path d="M150.04 96.5h0M126.1 92.79h0M156.48 96.55h0M121.5 91.77h0M117.76 98.68h0M127.08 106.22h0M47.33 107.69h0M127.54 78.7h0M77.44 93.85h0M94.42 100.98h0M146.96 111.85h0M152.52 111.73h0M55.05 99.94h0M88.92 87.61h0M130.99 67.38h0M129.79 89.8h0M148.97 86.02h0M54.62 76.91h0M143.72 93.53h0M109.3 112.45h0M120.72 97.04h0M148.4 107.73h0M74.13 97.19h0M151.91 106.55h0M78.91 95.84h0M83.58 84.63h0M127.02 87.13h0M78.23 97.93h0M119.08 88.44h0M51.36 95.15h0M140.56 105.25h0M157.5 75.33h0M149.28 96.48h0M56.95 109.29h0M97.92 99.24h0M63.61 77.79h0M82.08 92.51h0M89.04 98.57h0M103.97 88.19h0M66.67 73.98h0M77.6 86.3h0M78.38 97.94h0M130.08 106.89h0M149.76 110.08h0M84.93 88.25h0M48.62 88.95h0M120.34 102.7h0M141.73 82.71h0M149.68 100.27h0M93.74 91.83h0M143.67 111.65h0M84.96 83.62h0M107.93 86.67h0M117.15 79.75h0M153.23 115.59h0M109.29 94.77h0M79.59 97.48h0M88.66 86.83h0M139.96 95.01h0M126.72 75.66h0M58.85 106.28h0M140.33 98.43h0M146.37 106.07h0M115.47 107.46h0M122.02 94.8h0M131.49 82.46h0M83.61 107.94h0M56.58 99.35h0M127.45 80.55h0M79.86 104.81h0M119.82 81.48h0M122.66 72.89h0M151.36 90.76h0M102.78 95.93h0M144.46 84.47h0M96.01 95.17h0M147.59 115.54h0M85.3 94.07h0M112.45 86.12h0M108.42 94.32h0M154.18 112.52h0M160.7 107.48h0M123.56 96.84h0M139.13 83.12h0" stroke="#a6ff59" stroke-width="1.6" stroke-linecap="round" fill="none"/>
<path d="M127.79 100.94h0M94.46 92.45h0M125.13 95.19h0M101.21 84.11h0M148.64 86.55h0M73.06 91.49h0M90.76 68.46h0M156.77 104.1h0M90.26 89.47h0M128.4 84.48h0M114.47 95.21h0M58.23 92.33h0M126.5 94.32h0M85.91 91.58h0M151.5 101.12h0M150.65 104.97h0M81.11 99.52h0M99.24 92.19h0M102.77 88.77h0M95.4 97.61h0M112.53 81.41h0M112.84 86.02h0M145.74 101.94h0M72.63 88.48h0M84.03 88.96h0M151.79 80.93h0M139.47 98.43h0M137.09 81.7h0M131.43 83.35h0M121.25 83.5h0M140.75 77.62h0M108.99 91.53h0M80.93 93.19h0M88.2 106.74h0M73.99 86.77h0M79.28 94.17h0M129.67 81.84h0M101.73 92.34h0M109.79 67.45h0M145.37 94.02h0M51.08 82.46h0M151.59 90.69h0M117.71 81.38h0M142.35 73.59h0M141.38 94.54h0M124.25 66.4h0M143.88 111.55h0M122.11 102.93h0M106.76 75.42h0M65.96 81h0M67.79 72.89h0M85.16 87h0M140.42 81.15h0M137.94 82.95h0M90.69 98.22h0M148.02 95.95h0M133.59 99.98h0M111.93 85.43h0M76.41 71.73h0M74.44 80h0M98.88 97.24h0M111.91 82.12h0M67.9 89.3h0M145.21 73.94h0M87.33 113.36h0M65.42 93.34h0M126.5 73.96h0M122.59 73.89h0M133.19 94.13h0M114.38 110.09h0M145.11 114.04h0M113.25 93.02h0M89.61 97.62h0M76.83 92.3h0M68.68 103.19h0M78.44 83.38h0M74.89 76.01h0M51.96 82.84h0M85.83 77.9h0M153.27 92.14h0M146.18 87.94h0M84.87 100.66h0M71.56 90.24h0M76.52 75.21h0M85.02 82.9h0M154.42 87.9h0M124.72 106.88h0M118.73 91.26h0M142.49 78.16h0M101.73 86.92h0M53.1 80.55h0M122.57 69.06h0M77.39 104.46h0M120.61 78.88h0M98.99 95.06h0M69.76 101.45h0M58.11 94.53h0M157.08 87.21h0" stroke="#bfff40" stroke-width="1.6" stroke-linecap="round" fill="none"/>
<path d="M137.94 94.58h0M149.46 104.05h0M84.9 66.45h0M151.14 96.62h0M72.31 79.57h0M124.16 71.15h0M100.49 83.35h0M146.12 75.56h0M126.29 84.46h0M66.73 85.68h0M97.04 91.93h0M50.93 90.48h0M96.83 100.91h0M142.51 78.66h0M91.3 92.32h0M90.56 87.52h0M143.52 99.56h0M68.03 87.88h0M144.62 98.2h0M67.99 98.4h0M126.84 75.55h0M150.81 107.02h0M82.67 113.82h0M85.8 81.3h0M158.07 76.86h0M129.62 82.32h0M148.1 74.73h0M155.52 102.9h0M97.59 95.05h0M158.49 96.54h0M110.79 88.01h0M120.48 84.05h0M123.56 95.09h0M81.8 80.56h0M129.87 101.44h0M73.25 98.65h0M92.61 98.51h0M152.05 85.63h0M83.71 89.07h0M149.86 96h0M132.07 74.7h0M145.71 75.55h0M146.91 77.66h0M72.8 86.12h0M122.72 102.46h0M116.94 81.1h0M138.21 86.31h0M123.54 106.63h0M56.96 80.16h0M93.43 97.01h0M89.25 85.89h0M112.58 78.67h0M96.81 105.29h0M110.01 95.21h0M153.11 96.28h0M102.17 74.9h0M151.75 89.62h0M137.91 77.18h0M82 98.2h0M115.98 80.27h0M129.61 86.63h0M154.02 94.56h0M81.55 97.79h0M152.37 83.3h0M141.34 76.44h0M96.63 92.81h0M88.07 86.86h0M133.64 87.23h0M69.98 91.9h0M79.59 76.35h0M145.43 104.42h0M104.01 83.98h0M142.76 85.08h0M115.22 65.63h0M81.74 75.83h0M118 106.26h0M149.2 89.28h0M148.4 94.34h0M64.55 95.53h0M87.74 80.68h0M138.31 101.83h0M69.6 78.08h0M125.31 75.78h0M115.28 99.17h0M152.85 89.09h0M151.74 92.09h0M89.09 100.42h0M135.4 108.48h0M115.52 71.26h0M134.83 87.73h0M139.08 103.64h0M70.93 85.71h0M125.05 105.08h0M122.2 98.83h0M69.29 80.59h0M146.27 91.88h0M132.18 79.24h0M134.38 104.12h0M97.79 92.18h0M125.23 83.81h0M95.14 99.05h0M126.73 78.95h0M77.5 97.03h0M88.44 86.63h0M118.33 74.76h0M150.26 88.12h0" stroke="#d9ff26" stroke-width="1.6" stroke-linecap="round" fill="none"/>
<path d="M146.26 98.78h0M150.85 90.32h0M112.89 78.47h0M114.26 86.19h0M123.78 88.02h0M65.46 84.24h0M147.4 84.17h0M67.16 86.87h0M155.52 84.75h0M132.98 65.04h0M129.34 91.2h0M85.56 80.11h0M113 78.38h0M127.61 84.85h0M92.62 87.73h0M79.54 91.47h0M148.71 104.93h0M139.89 79.32h0M72.84 75.53h0M88.84 68.46h0M85.54 88.58h0M126.53 78.02h0M68.48 82.38h0M130.93 83.64h0M112.67 83.82h0M64.78 77.02h0M141.75 75.66h0M75.63 92.21h0M126.17 77.39h0M127.49 99.42h0M127.73 75.61h0M123.17 89.01h0M154.46 106.1h0M135.5 77.02h0M146.57 102.4h0M133.69 84.98h0M147.12 95.15h0M128.85 103.17h0M124.13 89.04h0M80.57 76.91h0M154.23 102.04h0M81.64 77.54h0M62.93 95.3h0M160.87 98.17h0M144.35 88.14h0M161.35 80.3h0M92.47 89.5h0M125.67 63.32h0M94.12 79.65h0M72.83 91.76h0M97.37 85.44h0M117.46 83.37h0M154 100.95h0M144.62 71.25h0M93.91 80.9h0M145.63 108.49h0M94.84 87.64h0M143.56 84.49h0M117.75 81.99h0M71.09 90.23h0M134.87 86.58h0M121.58 88.78h0M103.56 76.83h0M70.45 82.1h0M132.12 93.02h0M115.69 81.5h0M87.27 85.41h0M134.11 70.1h0M117.53 69.75h0M95.07 92.93h0M110.53 78.71h0M151.9 73.6h0M82.76 92.26h0M89.75 91.63h0M130.9 69.11h0M124.52 79.11h0M101.65 86.95h0M149.54 104.23h0M130.89 93.16h0M91.79 76.79h0M89.71 90.4h0M119.84 97.81h0M131.48 99.91h0M114.46 88.54h0M130.03 79.95h0M72.46 93.93h0M89.84 85.05h0M146.81 100.95h0M88.04 82.84h0M119.23 82.02h0M149.7 94.86h0M144.85 93.46h0M100.36 87.09h0M112.7 71.24h0M103.51 95.99h0M112 78.6h0M154.72 99h0M151.83 94.49h0M61.54 96.16h0M66.69 98.87h0M89.45 64.99h0M127.33 92.92h0M99.37 87.53h0M127.08 67.29h0" stroke="#f2ff0d" stroke-width="1.6" stroke-linecap="round" fill="none"/>
<path d="M58.03 91.2h0M118.4 89.1h0M79.62 82.41h0M46.54 82.94h0M95.53 82.29h0M107.98 79.22h0M96.8 84.25h0M56.39 87.7h0M151.59 89.47h0M144.26 77.43h0M153.82 108.87h0M116.52 74.07h0M131.47 71.14h0M150.17 95.49h0M75.53 74.43h0M116.93 69.61h0M99.21 84.38h0M84.64 91.08h0M139.86 98.53h0M146.93 81.59h0M115.65 67.98h0M137.82 103.11h0M109.19 81.53h0M138.62 88.88h0M121.3 85.37h0M128.93 66.78h0M72.66 75.57h0M135.06 68.78h0M110.76 70.6h0M127.27 89.51h0M104.42 107.46h0M76.65 79.99h0M138.59 88.13h0M95.54 88.99h0M120.4 87.49h0M125.65 95.71h0M81.36 86.43h0M118.55 94.26h0M155.63 95.25h0M143.21 92.88h0M97.04 87.74h0M151.92 70.06h0M110.37 72.37h0M147.09 82.29h0M141.51 79.05h0M127.56 94.69h0M114.96 91.49h0M122.08 64.55h0M152.37 98.37h0M150.01 107.01h0M142.2 96.92h0M48.26 78.9h0M156.72 88.78h0M118.74 90.24h0M116.41 98.31h0M139.41 70.16h0M75.68 76.2h0M129.95 67.57h0M139.21 74.39h0M110.64 66.34h0M105.06 71.12h0M123.65 81.68h0M144.62 82.23h0M133.96 84.38h0M99 107.63h0M154.41 86.75h0M65.01 75.93h0M113.72 91.01h0M131.74 83.16h0M159.55 91.23h0M61.47 86.34h0M117.75 95.58h0M46.67 79.7h0M120.66 96.29h0M70.29 97.34h0M135.92 72.96h0M110.46 64.21h0M128.42 80.71h0M124.37 82.74h0M145.18 64.64h0M88.78 87.21h0M98.53 84.67h0M75.77 78.69h0M142.38 70.56h0" stroke="#fff200" stroke-width="1.6" stroke-linecap="round" fill="none"/>
<path d="M147.34 97.62h0M138.89 66.68h0M93.41 95.72h0M155.67 92.75h0M131.3 73.83h0M153.25 90.71h0M107.66 81.67h0M65.3 88.12h0M161.4 103.64h0M107.1 85.07h0M114.73 81.74h0M142.03 68.58h0M141.22 77.75h0M49.26 88.73h0M107.22 79.98h0M101.42 91.6h0M117.27 77.19h0M158.35 98.02h0M103.45 87.69h0M124.92 72.12h0M111.99 87.29h0M83.72 73.53h0M75.69 78.32h0M144.64 104.19h0M127.03 72.05h0M134.6 73.45h0M149.04 89.24h0M120.36 67.27h0M154.81 96.06h0M110.9 67.86h0M61.6 82.3h0M142.72 73.37h0M158.85 93.42h0M144.74 72.29h0M106.77 94.35h0M53.28 78h0M90.72 90.3h0M157.59 97.38h0M116.06 91.28h0M141.28 72.13h0M149.25 71.64h0M99.99 81.53h0M137.74 81.66h0M127.83 83.73h0M121.53 68.14h0M125.06 96.23h0M139.95 76.21h0M145.28 102.55h0M86.49 66.64h0M72.54 77.05h0M145.54 96.6h0M159.96 78.32h0M145.76 90.28h0M139.71 81.24h0M95.45 82.94h0M144.11 58.04h0M73.5 84.1h0M120.15 70.87h0M152.02 107.8h0M84.96 74.22h0M77.06 71.95h0M88.53 74.8h0M112.9 78.98h0M123.72 85.11h0M141.08 82.95h0M110.29 99.21h0M147.39 92.41h0M55.16 77.06h0M88.85 104.3h0M95.49 90.41h0M122.44 85.01h0M104.03 71.72h0M115.97 70.09h0M153.26 86.27h0M125.81 76.1h0M127.8 64.35h0M140.2 83.72h0M52.12 82.53h0" stroke="#ffd900" stroke-width="1.6" stroke-linecap="round" fill="none"/>
<path d="M150.77 81.34h0M82.85 76.35h0M147.06 62.41h0M152.74 76.41h0M149.84 65.97h0M111.1 64.15h0M156.94 100.16h0M139.43 85.04h0M77.28 104.21h0M110.5 70.22h0M142.5 80.29h0M62.04 78h0M95.62 88.2h0M91.23 85.72h0M148.78 98.82h0M73.68 82.46h0M125.81 81.87h0M150.85 96.91h0M146.09 100.37h0M110.36 87.52h0M107.15 75.57h0M145.12 75.52h0M130.02 100.98h0M106.5 90.13h0M118.55 93.14h0M123.07 80.84h0M141.47 71.47h0M136.68 70.49h0M120.22 66.73h0M112.39 65.35h0M149.15 104.78h0M147.3 82.53h0M91.37 95.44h0M103.05 69.11h0M85.45 76.82h0M152.95 104.39h0M88.16 71.01h0M65.72 77.3h0M50.89 81.78h0M139.44 80.79h0M134.42 100.42h0M86.08 79.21h0M154.5 77.2h0M90.75 62.65h0M124.53 95.86h0M112.72 92.48h0M53.16 84.81h0M84.53 71.37h0M114.84 87.4h0M73.65 78.23h0M144.64 80.67h0M94.78 85.79h0M52.3 78.97h0M145.38 105.64h0M149.95 65.88h0M109.17 75.9h0M131.04 71.3h0M50.36 76.4h0M124.03 89.18h0M103.32 83.83h0M120.41 95.2h0M130.25 95.28h0M91.7 78.3h0M128.14 64.55h0M136.07 62.64h0M146.71 86.75h0M106.42 79.87h0M94.01 72.26h0M151.02 90.18h0M151.36 74.08h0M92.33 80.72h0M114.03 90.77h0M128.91 77h0M95.69 72.76h0M92.75 87.82h0M95.21 76.61h0M107.04 95.53h0M144.94 97.08h0M107.57 61.42h0M105.59 84.82h0M150.28 76.41h0M114.4 85.63h0M113.56 82.21h0M129.82 75.5h0M90.3 88.16h0M135.9 90.98h0M87.52 77.07h0" stroke="#ffbf00" stroke-width="1.6" stroke-linecap="round" fill="none"/>
<path d="M81.06 72.05h0M101.2 53.55h0M118.82 78.05h0M151.54 87.17h0M104 69.49h0M155.42 78.01h0M106.46 67.76h0M147.46 74.45h0M107.91 59.4h0M159.8 77.83h0M144.76 78.71h0M88.26 90.86h0M146.81 84.46h0M112.01 69.09h0M67.75 74.13h0M95.33 70.85h0M90.37 62.59h0M99.39 78.39h0M54.95 85.46h0M115.76 69.26h0M124.22 65.4h0M154.42 86.23h0M146.69 75.14h0M138.66 76.5h0M124.19 86.9h0M115.64 90.17h0M151.76 80.01h0M103.05 89.04h0M110.15 57.84h0M113.16 64.12h0M110.72 86.69h0M111.33 86.62h0M109.95 78.84h0M151.11 97.78h0M94.43 65.82h0M88.05 74.53h0M156.68 69.01h0M83.64 77.25h0M103.22 56.2h0M148.58 79.2h0M112.61 77.39h0M69.73 78.35h0M140.59 64.91h0M80.88 74.99h0M47.32 81.12h0M96.98 81.62h0M104.72 81.98h0M120.09 86.52h0M150.88 76.07h0M155.36 105.38h0M97.36 83.42h0M82.63 69.53h0M99.66 74.24h0M151.43 73.46h0M119.65 81.9h0M138.5 65.76h0M148.46 81.62h0M102.38 88.09h0M95.2 91.5h0M144.19 87.78h0M111.35 72.71h0M115.47 79.94h0M67.55 82.34h0M116.45 64.26h0M90.5 71.76h0M132.82 78.47h0M150.04 89.23h0" stroke="#ffa600" stroke-width="1.6" stroke-linecap="round" fill="none"/>
<path d="M83.52 82.83h0M158.08 75.31h0M139.67 70.75h0M129.6 69.66h0M100.26 58.31h0M121.29 85.82h0M143.55 67.57h0M94.01 85.27h0M95.19 65.84h0M118.17 98.28h0M99.17 79.8h0M97.42 54.97h0M102.75 71.52h0M52.04 79.94h0M120.03 66.62h0M141.62 86.06h0M90.38 69.7h0M142.58 59.78h0M95.83 78.22h0M102.96 83.18h0M127.13 66.17h0M87.87 80.3h0M142.6 85.93h0M130.84 71.9h0M134.43 72.5h0M132.84 82.82h0M128.54 93.88h0M149.57 86.65h0M110.42 67.56h0M100.58 65.75h0M131.39 85.12h0M135.28 78.65h0M103.64 81.72h0M74.89 76.6h0M130.05 81.04h0M133.44 70.27h0M88.62 75.39h0M89.16 67.34h0M102.77 83.09h0M106.47 66.69h0M57.8 81.12h0M119.79 66.69h0M64.03 88.85h0M134.71 105.78h0M134.05 77.19h0M132.94 79.29h0M109.21 77.17h0M153.1 67.89h0M118.55 65.66h0M95.05 81.2h0M139.08 65.21h0M65.68 80.71h0M91.38 84.05h0M77.65 102.34h0" stroke="#ff8c00" stroke-width="1.6" stroke-linecap="round" fill="none"/>
<path d="M106.04 62.1h0M94.02 81.43h0M92.78 70.83h0M154.6 73.1h0M86.39 79.33h0M94.01 84.39h0M118.44 81.32h0M111.81 83.96h0M137.31 65.97h0M116.59 69.7h0M55.6 77.1h0M156.17 72.84h0M112.82 62.68h0M130 91.73h0M148.93 75.89h0M107.07 70.26h0M92.68 72.77h0M89.93 81.46h0M107.27 82.7h0M104.1 82.67h0M143.39 86.8h0M102.06 83.8h0M147.51 56.84h0M98 71.56h0M109.97 64.3h0M159.23 94.74h0M95.24 68.62h0M83.51 75.76h0M60.46 86.62h0M137.21 75.29h0M142.56 96.94h0M90.56 76.56h0M123.26 71.17h0M152.86 79.63h0M111.56 84.36h0M98.58 68.28h0M105.18 71.44h0M117.24 67.18h0M98.42 74.24h0M126.27 65.68h0M152.67 66.42h0M118.32 65.4h0M108.22 73.3h0M95.97 93h0M83.4 79.59h0M105.64 68.77h0M94.52 67.51h0" stroke="#ff7300" stroke-width="1.6" stroke-linecap="round" fill="none"/>
<path d="M100.82 67.9h0M92.65 83.73h0M111.24 90.68h0M95.01 71.37h0M90.32 71.17h0M138 73.89h0M97.05 70.28h0M111.58 68.31h0M117.25 87.28h0M150.43 66.73h0M141.85 68.14h0M109.66 58.48h0M160.08 98.76h0M151.13 86.7h0M92.04 67.67h0M52.99 76.29h0M132.14 93.05h0M94.37 64.94h0M88.89 67.36h0M145.49 79.39h0M94.34 67.68h0M86.19 65.78h0M137.2 62.78h0M151.51 91.55h0M87.26 72.08h0M114.56 59.8h0M143.59 55.51h0M143.04 60.09h0" stroke="#ff5900" stroke-width="1.6" stroke-linecap="round" fill="none"/>
<path d="M86.22 72.61h0M135.18 69.81h0M123.32 74.47h0M147.05 78.91h0M108.8 53.6h0M154.55 101.76h0M95.64 68.84h0M132.97 78.43h0M112.98 79.49h0M109.61 73.31h0M106.52 69.47h0M93.53 68.12h0M105.9 82.02h0M97.6 60.29h0M95.1 64.82h0M131.59 75.45h0M147.03 101.5h0M54.54 76.72h0M137.31 67.24h0M111.32 65.22h0M155.73 77.43h0M127.97 65.2h0M98.89 75.12h0M93.56 68.34h0" stroke="#ff4000" stroke-width="1.6" stroke-linecap="round" fill="none"/>
<path d="M74.76 71.68h0M91.64 79.09h0M144.05 75.35h0M119.56 62.82h0M107.63 57.83h0M131.79 76.13h0M90.8 75.27h0M95.51 58.81h0M114.08 59.16h0M109.22 86.83h0M112.37 79.45h0M148.47 83.83h0M136.47 87.24h0M134.87 83.64h0M92.31 62.47h0M91.18 67.49h0M159.25 82.92h0M98.09 51.3h0M111.5 64.23h0M98.71 57.86h0M96.9 60.88h0M106.72 58.93h0" stroke="#ff2600" stroke-width="1.6" stroke-linecap="round" fill="none"/>
<path d="M119.52 67.13h0M97.89 55.58h0M91.4 62.99h0M103.04 75.49h0M94.9 61.1h0M101.37 63.34h0M95.91 58.67h0M104.58 51.43h0M91.23 75.93h0M122.92 68.48h0M102.61 50.7h0M104.82 66.94h0M109.58 64.72h0M109.61 64.76h0M96.48 78.18h0M104.39 69.44h0M97.8 71.7h0M100.7 67.1h0M105.49 63.87h0M148.16 69.58h0" stroke="#ff0d00" stroke-width="1.6" stroke-linecap="round" fill="none"/>
<path d="M97.97 51.4h0M112.66 70.72h0M101.11 46.85h0M101.12 55.05h0M98.13 64h0M98.91 59.77h0M100.53 66.85h0M98.06 56.61h0M50.16 79.04h0M98.04 61.23h0M89.12 55.85h0M91.14 56.51h0M100 57.12h0M101.83 53.34h0M105.82 55.71h0M93.93 70.91h0M105.58 62.44h0M95.14 55.84h0" stroke="#f20000" stroke-width="1.6" stroke-linecap="round" fill="none"/>
<path d="M96.9 65.58h0M95.41 68.57h0M100.23 75.64h0M86.41 67.09h0M121.94 70.28h0M104.33 76.01h0M127.99 65.23h0M54.03 79.93h0M93.63 61.67h0M111 58.17h0M102.94 77.07h0" stroke="#d90000" stroke-width="1.6" stroke-linecap="round" fill="none"/>
<path d="M118.73 63.8h0M98.81 67.93h0M105.59 61.05h0M100.63 62.31h0M99.81 51.86h0M106.2 61.59h0M94.75 62.25h0M94.53 53.49h0M93.33 64.62h0M94.43 58.93h0M97.14 68.52h0" stroke="#bf0000" stroke-width="1.6" stroke-linecap="round" fill="none"/>
<path d="M91.95 60.67h0M107.96 58.74h0M106.64 69.04h0M106.58 50.64h0M102.32 54.68h0M92.35 66.61h0" stroke="#a60000" stroke-width="1.6" stroke-linecap="round" fill="none"/>
<path d="M101.92 51.97h0M100.46 56.39h0M90.98 66.18h0M101.21 55.07h0M100.41 48.79h0M100.33 54.78h0M105.46 59.08h0M104.27 56.36h0M97.59 54.52h0M97.18 57.85h0M101.98 54.95h0M107.6 86.06h0M98.57 50.68h0" stroke="#8c0000" stroke-width="1.6" stroke-linecap="round" fill="none"/>
<path d="M103.74 129.45h0M76.27 148.9h0M102.61 151.59h0M129.01 124.14h0M92.88 160.49h0M137.08 150.85h0M85.15 157.04h0M70.86 138.27h0M98.18 138.96h0M90.79 166.49h0M79.43 138.18h0M115.7 135.91h0M66.55 146.56h0M83.34 152.01h0M72.89 150.6h0M131.81 147.08h0M97.19 136.82h0M95.64 144.88h0M69.19 146.14h0M83.95 151.43h0M113.72 156.68h0M121.99 153.19h0M91.13 147.98h0M125.36 143.54h0M93.12 145.6h0M102.83 143.31h0" stroke="#00008c" stroke-width="1.6" stroke-linecap="round" fill="none"/>
<path d="M96.97 164.55h0M107.26 174.7h0M103.91 133.94h0M98.27 135.5h0M107.37 140.62h0M76.19 154.43h0M127.08 137.73h0M149.87 144.01h0M103.99 130.97h0M107.43 151.56h0M83.28 172.37h0M106 149.82h0M61.95 142.42h0M100.34 142.56h0M73.06 161.87h0M71.56 147.58h0M112.78 114.67h0M130.53 157.46h0M84.86 162.36h0M81.49 149.66h0M86.78 150.45h0M69.44 135.67h0M104.48 161.79h0M116.41 160.1h0M118.26 166.5h0M62.33 135h0M75.98 120.16h0M65.42 148.04h0M94.69 150.97h0M69.21 129.22h0M76.29 95.98h0M79.07 131.78h0M73.87 159.51h0M84.93 160.97h0M85.22 132.2h0M63.95 131.61h0M89.98 155.02h0M144.88 144.41h0M55.93 119.01h0M116.74 121.76h0M122.98 149.42h0M95.45 163.36h0M81.6 149.8h0M91.74 161.97h0M78.19 144.84h0M74.8 130.97h0M127.69 147.4h0M80.45 146.18h0M95.78 125.92h0M136.79 128.76h0M79.16 124.63h0M106.81 119.8h0M97.02 173.78h0M103.56 161.45h0M99.65 152.66h0M103.24 129h0M75.59 149.98h0M66.96 151.64h0M63.62 136.74h0M68.61 146.55h0M81.81 144.99h0M69 137.26h0M90.46 168.3h0M81.35 130.44h0M122.53 136.54h0M68.93 139.5h0M136.46 141.37h0M85.4 150.38h0M105.28 173.82h0M95.99 152.24h0M90.15 158.44h0M119.12 143.58h0M137.11 138.93h0M83.3 147.37h0M81.64 140.29h0M99.4 165.23h0M50.84 115.58h0M119.29 152.04h0M49.79 116.87h0M145.4 141.44h0M114.79 153.11h0M58.14 142h0M100.36 173.32h0M69.3 151.12h0M120.5 163.69h0M98.81 116.69h0M58.46 129.77h0M88.72 164.45h0M71.12 152.31h0M81.99 150.19h0M68.85 141.07h0M120.44 141.74h0M74.76 146.04h0M93.87 174.94h0M73.81 168.03h0M110.12 159.07h0M99.73 150.18h0M93.61 161.16h0M130.26 159.5h0M107.92 164.78h0M146.97 133.22h0M147.94 143.58h0M72.47 153.82h0M98.9 118.57h0M153.04 132.06h0M67.42 148.72h0M79.88 156.24h0M69.37 150.5h0M124.49 154.6h0M106.82 114.25h0M116.13 157.78h0M120.84 147.31h0M67.02 142.33h0M85.51 142.68h0M119.03 133.37h0M103.34 126.52h0M94.68 167.54h0M78.24 137.15h0M85.9 149.21h0M68.03 132.67h0M109.34 138.52h0M75.13 123.96h0M126.44 152.04h0M81 125.7h0M155.13 124.46h0M130.37 155.39h0M74.49 143.62h0M83.44 135.94h0M91.4 167.7h0M93.4 127.04h0M126.73 150.99h0M93.34 157.45h0M115.5 148.32h0M82.9 150.97h0M132.12 135.92h0M74.18 142.35h0M77.51 160.19h0M88.81 172.79h0M144.59 138.25h0M109.13 163.27h0M65.01 142.67h0" stroke="#0000a6" stroke-width="1.6" stroke-linecap="round" fill="none"/>
<path d="M136.64 161.74h0M90.91 136.92h0M87.94 139.53h0M89.95 145.49h0M81.71 150.2h0M116.81 146.73h0M130.08 139.6h0M83.12 151.99h0M53.72 128.86h0M59.48 128.51h0M73.02 143.94h0M134.38 156.67h0M69.42 134.93h0M65.05 133.51h0M85.55 134.44h0M121.03 146.41h0M114.25 132.78h0M93.93 161.53h0M61.59 131.02h0M75.87 149.96h0M107.39 129.5h0M91.22 148.41h0M118.49 152.66h0M111.2 130.18h0M86.06 147.98h0M71.54 135.75h0M111.06 140.33h0M95.35 116.8h0M67.03 149.32h0M124.14 132.26h0M79.88 131.63h0M104.34 126.52h0M88.53 108.9h0M127.51 148.68h0M102.22 147.7h0M110.04 116.68h0M106.42 141.84h0M83.24 132.3h0M114.29 122.38h0M104.23 143.64h0M78.85 150.85h0M71.95 140.95h0M82 151.59h0M83.92 128.69h0M113.38 114.6h0M99.93 125.29h0M118.74 142.06h0M134.98 137.32h0M103.77 139.17h0M85.12 131.51h0M93.69 117.99h0M86.19 143.21h0M77.4 131.27h0M75.75 124.3h0M97.47 157.68h0M92.79 140.05h0M94.09 165.26h0M139.9 134.28h0M82.46 155.03h0M74.26 144.16h0M87.93 141.15h0M123.72 137.1h0M71.62 159.28h0M128.73 143.44h0M89.29 166.72h0M81.74 151.15h0M63.97 147.88h0M74.38 124.95h0M126.76 152.47h0M95.14 153.46h0M86.49 129.73h0M113.37 120.32h0M104.55 158.87h0M83.54 153.68h0M98.06 163.91h0M98.88 126.87h0M81.1 169.64h0M134 145.24h0M87.65 164.34h0M97.03 160.14h0M105.93 115.03h0M130.32 114.39h0M97.38 166.63h0M82.01 150.8h0M90.86 112.16h0M117.63 161.58h0M78.17 149.92h0M107.94 143.84h0M87.88 137.01h0M97.97 157.99h0M79.51 136.83h0M105.34 117.46h0M73.81 142.78h0M137.55 116.07h0M107.71 155.58h0M97.17 172.49h0M102.99 156.44h0M79.6 168.89h0M145.6 131.2h0M70.5 151.95h0M104.31 126.67h0M136.89 138.79h0M147.93 138.03h0M78.03 143.89h0M63.69 145.18h0M100.79 164.81h0M94.26 161.66h0M70 131.85h0M147.33 144.64h0M84.19 112.44h0M85.7 156.3h0M131.91 117.06h0M95.18 164.05h0M128.31 137.79h0M61.98 133.71h0M135.67 149.33h0M76.53 150.17h0M121.72 151.44h0M62.12 136.11h0M72.91 144.96h0M76.65 117.94h0M102.17 129.19h0M92.17 115.44h0M78.22 148.58h0M140.93 124.05h0M122.55 141.67h0M123.85 120.61h0M78.19 153.63h0M145.63 142.42h0M94.02 124.12h0" stroke="#0000bf" stroke-width="1.6" stroke-linecap="round" fill="none"/>
<path d="M71.04 124.94h0M64.7 135.29h0M154.11 136.37h0M118.76 146.91h0M106.91 143.38h0M90.3 169.82h0M79.12 148.45h0M82.88 169.71h0M73.3 141.72h0M102.55 142.99h0M117.73 106.73h0M126.56 136.21h0M89.84 121.71h0M91.98 143.69h0M155.01 134.9h0M84.25 163.59h0M83.25 121.55h0M86.04 109.65h0M97.88 132.08h0M102.6 132.58h0M111.62 122.73h0M87.9 107.59h0M53.21 114.11h0M104.29 115.75h0M88.83 144.6h0M74.71 114.43h0M91.48 126.56h0M124.74 134.24h0M91.93 168.48h0M139.3 143.93h0M98.86 127.66h0M99.19 146.14h0M105.64 122.58h0M149.61 121.57h0M95.36 122.85h0M89.82 158.26h0M90.17 162.13h0M88.68 149.3h0M84.48 160.34h0M70.95 155.33h0M81.35 141h0M73.42 163.91h0M106.59 114.43h0M59.19 149.17h0M123.66 133.47h0M55.52 117.42h0M125.55 131.68h0M109.39 152.66h0M71.75 136.42h0M84.19 134.54h0M80.15 162.71h0M64.41 144.88h0M91.1 137.19h0M110.01 131.23h0M66.51 139.41h0M76.9 166.15h0M126.46 109.82h0M136.14 136.29h0M78.91 120.08h0M148.39 141.14h0M126.67 161.17h0M70.7 153.77h0M85.23 157.74h0M87.86 127.34h0" stroke="#0000d9" stroke-width="1.6" stroke-linecap="round" fill="none"/>
<path d="M145.39 124.12h0M86.47 119.65h0M78.84 124.91h0M76.82 119.43h0M83.41 172.27h0M68.45 121.81h0M108.52 116.21h0M68.23 110.57h0M91.27 114.54h0M152.49 122.72h0M104.93 113.66h0M80.23 126.25h0M70.81 119.46h0M117.54 125.42h0M109.97 125.94h0M110.61 122.19h0M123.87 107.49h0" stroke="#008cff" stroke-width="1.6" stroke-linecap="round" fill="none"/>
<path d="M90.05 117.15h0M47.54 108.85h0M75.62 153.93h0M116.24 117.56h0M92.54 125.41h0M99.78 120.55h0M83.86 102.67h0M101.76 117.33h0M111.18 169.07h0M134.09 113h0M112.92 122.97h0M46.83 119.02h0M119.16 118.47h0M65.23 128.49h0M60.15 120.78h0M96.78 122.1h0M93.64 116.05h0M104.68 122.75h0M83.1 119.73h0M104.92 117.73h0M134.03 124.29h0M126.27 111.98h0M112.07 114.22h0M152.48 132.53h0M98.73 116.28h0M95.92 117.81h0" stroke="#00a6ff" stroke-width="1.6" stroke-linecap="round" fill="none"/>
<path d="M116.89 116.94h0M112.73 113.83h0M55.48 113.42h0M88.72 110.96h0M96.08 105.66h0M88.42 165.15h0M84.41 113.3h0M124.21 116.73h0M84.99 113.31h0M117.64 118.88h0M117.21 101.21h0M73.34 111.22h0M146.68 133.2h0M83.21 106.94h0M52.09 111.57h0M81.23 125.97h0M123.36 116.61h0M145.14 118.01h0M79.51 120.96h0M61.9 134.63h0M79.12 119.41h0M147.85 117.53h0M116.49 126.61h0M105.13 105.62h0M153.98 136.83h0M108.63 165.04h0M98.45 166.5h0M56.2 117.01h0M139.17 116.27h0M121.61 116.75h0M116.27 110.4h0M158 116.08h0M148.62 123.8h0M74.36 123.87h0M69.97 128.23h0M150.85 118.38h0M84.84 108.92h0M123.09 123.05h0M107.01 120.82h0M100.15 105.8h0M118.65 112.55h0M56.2 111.27h0M72.01 118.45h0M153.41 119.05h0M126.08 126.3h0M105.77 109.83h0M117.56 118.29h0M70.89 119.03h0M144.17 118.1h0M142.24 139.53h0M115.03 113.39h0M119.47 114.52h0M154.96 115.98h0M127.15 121.2h0M72.91 110.58h0M79.03 141.82h0M153.43 112.68h0M84.47 113.71h0M144.5 133.8h0M79.24 129.21h0M113.79 111.05h0M95.46 112.24h0M152.27 118.21h0M77.83 127.11h0M81.78 117.91h0" stroke="#00bfff" stroke-width="1.6" stroke-linecap="round" fill="none"/>
<path d="M116.1 109.05h0M100.29 124.45h0M65.48 114.38h0M118.08 107.86h0M70.14 104.9h0M111.92 117.48h0M86.93 91.74h0M85.89 113.3h0M88.94 117h0M151.03 118.68h0M108.21 120.11h0M103.34 108.78h0M82.46 115.05h0M127.97 129.04h0M92.8 113.27h0M70.85 117.79h0M143.73 114.04h0M112.4 113.53h0M52 115.4h0M73.47 101.31h0M60.1 120.39h0M103.48 113.22h0M73.93 102.5h0M144.94 134.38h0M146.57 132.24h0M139.73 116.02h0M88.9 111.19h0M103.38 111.34h0M79.23 152.1h0M141.51 118.26h0M61.29 86.8h0M121.39 109.76h0M150.5 124h0M155.43 105.47h0M78.09 126.26h0M143.27 120.3h0M110.26 114.79h0M110.5 120.35h0M121.16 123.66h0M54.73 112.5h0M56.18 120.65h0M46.61 110.53h0M146.69 121.54h0M110.85 115.77h0M132.95 115.08h0M140.53 123.62h0M54.34 118.84h0M140.33 123.22h0M124.4 119.99h0M94.34 146.53h0M145.36 134.73h0M161.02 114.28h0M81.12 104.68h0M114.69 114.31h0M73.71 122.07h0M98.86 118.71h0M152.28 118.49h0M70.73 104.09h0M81.11 105.23h0M81.41 126.27h0M143.98 114.8h0M150.49 106.17h0" stroke="#00d9ff" stroke-width="1.6" stroke-linecap="round" fill="none"/>
<path d="M122.97 115.49h0M143.69 106.05h0M104.53 119.53h0M112.67 116.65h0M133.75 109.29h0M118.35 111.19h0M88.21 107.27h0M77.69 93.13h0M78.37 101.76h0M72.33 107.76h0M130.51 114h0M74.66 108.81h0M158.26 122.22h0M115.55 87.67h0M82.91 114.92h0M97.23 107.45h0M89.81 109.47h0M89.21 112.99h0M153.46 110.63h0M107.17 118.01h0M103.22 116.55h0M97.97 106.43h0M148.85 110.21h0M107.47 117.02h0M55.43 113.14h0M95.71 109.1h0M137.75 120.53h0M73.37 108.37h0M128.6 115.19h0M110.17 112.1h0M117.5 114.27h0M105.34 118.51h0M101.9 123.41h0M114.92 118.92h0M137.02 120.26h0M131.66 122.5h0M86.94 114.53h0M75.27 141.42h0M116.17 116.44h0M56.51 110.34h0M125.46 119.94h0M118.33 115.98h0M143.22 112.21h0M88.87 109.79h0M117.59 91.49h0M140.29 114.93h0M148.03 117.98h0M122.5 119.08h0M82.71 158.55h0M84.25 101.82h0M85.55 105.09h0M151.6 107.13h0M144.16 113.92h0M156.08 110.47h0M122.76 120.94h0M145.09 116.67h0M83.62 106.79h0M103.83 139.83h0M97.71 117.6h0M55.29 112.33h0M110.03 122.12h0M70.54 95.35h0M138.08 109.9h0M147.04 112.59h0M130.25 113.43h0M62.64 103.67h0M47.77 109.33h0M72.35 110.13h0M108.77 107.52h0M61.04 114.94h0M94.96 113.94h0M119.6 117.6h0M145.97 113.63h0M59.38 117.38h0M128.5 114.71h0M69.49 91.19h0" stroke="#00f2ff" stroke-width="1.6" stroke-linecap="round" fill="none"/>
<path d="M92.68 109.02h0M87.44 102.95h0M66.27 131.8h0M144.87 125h0M58.02 108.38h0M90.28 170.34h0M49.98 105.47h0M119.69 80.73h0M144.84 113.51h0M71.96 108.61h0M142.72 130.96h0M53.25 113.89h0M81.77 104.25h0M57.74 107.97h0M94.33 108.86h0M141.17 115.4h0M89.95 107.6h0M70.73 114.15h0M73.9 132.5h0M48.55 111.86h0M133.06 134.83h0M115.9 110.4h0M70.21 98.8h0M97.88 104.65h0M71.65 108.34h0M107.98 156.27h0M147.02 124.66h0M129.05 118.98h0M65 87.39h0M77.52 110.95h0M82.17 121.6h0M86.67 116.89h0M76.67 86.24h0M54.66 94.6h0M85.7 108.72h0M90.01 122.57h0M95.24 110.19h0M150.98 107.96h0M91.97 114.43h0M154.61 118.23h0M152.24 119.08h0M72.85 112.48h0M115.57 112.16h0M58.97 110.42h0M77.62 111.97h0M117.34 97.38h0M84.58 119.34h0M100.41 101.08h0M80.96 141.33h0M139.32 113.87h0M78.41 122.24h0M73.37 93.95h0M108.19 112.55h0M135.03 124.02h0M108.58 106.77h0M129.15 114.28h0M112.55 111.88h0M85.28 102.3h0M73.69 122.39h0M74.65 120.99h0M106.34 120.35h0M65.37 141.55h0M93.11 110.72h0M86.05 100.77h0M116.4 110.08h0M117.43 163.34h0M95.97 97.75h0M80.35 101.31h0M70.56 114.73h0M130.73 121.44h0M88.25 112.47h0M51.73 116.4h0M122.23 119.54h0M83.18 96.53h0M104.28 101.15h0M89.11 154.4h0M83.7 121.45h0M67.29 134.92h0M126.34 113.93h0M49.51 110.87h0M119.59 130.13h0M85.24 106.15h0M124.02 121.84h0M55.05 111.71h0M82.1 111.45h0M119.27 116.47h0M112.7 104.27h0M53.49 107.63h0M79.02 102.93h0M107.54 86.37h0M84 112.82h0M79.07 91.31h0M147.11 124.73h0M105.07 113.25h0" stroke="#0dfff2" stroke-width="1.6" stroke-linecap="round" fill="none"/>
<path d="M150.79 121.16h0M66.94 106.73h0M76.57 95.56h0M140.85 111.37h0M129.73 84.26h0M116.66 104.73h0M137.48 114.83h0M97.63 110.24h0M113.81 121.07h0M53.01 104.9h0M98.76 107.56h0M65.1 112.93h0M73.96 105.88h0M105.05 112.8h0M72.86 104.59h0M87.7 112.08h0M144.2 116.98h0M104.41 114.27h0M149.95 115.2h0M123.62 96.21h0M92.36 104.23h0M58.74 106.59h0M126.75 117.86h0M98.18 108.01h0M115.19 77.38h0M75.19 99.01h0M71.56 101.07h0M62.87 107.96h0M147.93 108.03h0M86.19 104.92h0M51.76 91.5h0M123.65 109.37h0M116.62 112.9h0M151.11 121.16h0M93.7 83.55h0M117.04 116.13h0M67.06 78.57h0M130.27 113.83h0M94.01 106.06h0M90.19 95.09h0M66.51 104h0M110.38 108.42h0M151.74 111.76h0M52.77 94.06h0M101.16 105.15h0M123.4 109.74h0M99.61 109.29h0M91.86 113.71h0M80.58 97.68h0M135.19 104.64h0M66.55 91.22h0M111.2 108.14h0M131.12 89.58h0M64.78 104.49h0M52.28 111.1h0M77.41 107.29h0M81.61 109.74h0M153.36 101h0" stroke="#26ffd9" stroke-width="1.6" stroke-linecap="round" fill="none"/>
<path d="M83.18 98.81h0M89.88 111.58h0M113.15 112.75h0M148.55 122.5h0M123.72 100.79h0M113.05 100.88h0M75.85 108.27h0M103.95 112.14h0M66.52 88.45h0M79.57 126.76h0M75.92 107h0M88.2 106.41h0M144.32 115.7h0M154.41 112.2h0M101.19 116.68h0M73.71 103.71h0M119.79 105.88h0M90.19 101.45h0M139.83 115.84h0M95.74 107.44h0M54.17 110.41h0M68.68 97.28h0M49.17 93.65h0M94.5 106.08h0M74.83 106.13h0M109.97 108.95h0M111.56 109.6h0M65.27 111.85h0M118.4 99.07h0M82.59 108.81h0M98.52 95.11h0M144.71 121.42h0M104.01 109.54h0M125.16 113.5h0M134.58 108.82h0M74.92 104.56h0M62.77 108.84h0M127.77 122.07h0M122.39 104.97h0M71.81 104.63h0M79.52 96.45h0M76.01 95.85h0M107.18 115.69h0M113.94 105.7h0M102.96 98.67h0M85.17 100.96h0M71.24 94.1h0M106.6 112.4h0M106.53 115.96h0M147.94 108.83h0M140.66 112.79h0M154.96 112.65h0M82.22 103.59h0M115.8 96.04h0M76.51 102.3h0M87.97 84.18h0M96.63 109.03h0M113.73 117.41h0" stroke="#40ffbf" stroke-width="1.6" stroke-linecap="round" fill="none"/>
<path d="M136.82 103.53h0M153.6 112.71h0M118.92 117.84h0M70.23 95.74h0M97.93 107.8h0M152.41 111.55h0M78.72 90.96h0M118.88 101.31h0M106.12 104.69h0M72.43 100.12h0M75.17 93.32h0M119.19 94.49h0M74.21 99.16h0M117.69 97.08h0M147.18 119.94h0M91.45 87.68h0M113.39 102.84h0M147.62 123.71h0M47.46 103.13h0M151.46 108.47h0M50.61 107.3h0M149.12 115.91h0M86.89 90.17h0M151.42 110.96h0M110.56 113.98h0M156.51 99.96h0M79.28 108.04h0M82.47 103.73h0M146.31 112.48h0M77.65 106.11h0M57.57 104.13h0M81.18 85.82h0M79.28 104.21h0M117.07 92.48h0M86.28 89.3h0M136.34 110.57h0M121.12 107.63h0M95.27 101.85h0M145.63 108.31h0M87.49 96.67h0M155.81 109.82h0M86.31 86.77h0M90.51 105.07h0M121.42 96.73h0M75.83 98.48h0M158.22 96.47h0M127.85 76.97h0M132.7 110.97h0M95.62 109.31h0M116.67 100.4h0M80.48 103.41h0M133.11 106.28h0M103.04 112.79h0M85.63 99.19h0M90.75 103.78h0" stroke="#59ffa6" stroke-width="1.6" stroke-linecap="round" fill="none"/>
<path d="M149.83 85.48h0M74.92 101.43h0M86.76 103.8h0M119.68 105.59h0M77.4 73.14h0M111.88 92.06h0M122.22 69.71h0M149.95 90.46h0M124.84 107.02h0M117.61 96.02h0M138.65 91.13h0M108.99 104.41h0M111.86 82.11h0M75.92 107.02h0M92.83 101.41h0M121.54 92.75h0M93.32 98.42h0M123.3 103.82h0M89.36 87.13h0M140.15 77.32h0M136.32 97.24h0M78.1 98.08h0M91.81 91.32h0M126 106.47h0M134.24 103.07h0M110.58 86.45h0M153.53 102.78h0M86.91 88.39h0M155.32 91.18h0M66.56 131.16h0M111.84 103.69h0M78.92 107.94h0M64.76 90.35h0M87.83 115.92h0M88.59 100.17h0M143.74 102.71h0M131.1 106.59h0M61.01 85.89h0M74.48 89.19h0M147.98 109.34h0M134.44 79.06h0M88.52 88.08h0M108.56 89.67h0M95.92 100.88h0M146.44 106.24h0M73.73 92.39h0M137.06 107.51h0M134.37 90.63h0M143.41 112.55h0M141.95 110.36h0M75.73 97.37h0M136.7 106.12h0M50.65 90.16h0M147.35 104h0M100.55 101.47h0M80.7 89.44h0M81.63 111.41h0M83.55 95.16h0M122.95 108.9h0M62.52 112.41h0M96.16 100.77h0M121.82 75.88h0M155.92 103.08h0M86.73 85.6h0M93.15 94.77h0M137.33 76.63h0M151.9 106.33h0M156.27 105.96h0M79.84 92.83h0M91.23 94.63h0M73.76 98.83h0M133.28 113.7h0M83.67 93.8h0M80.12 92.48h0M83.27 99.6h0" stroke="#73ff8c" stroke-width="1.6" stroke-linecap="round" fill="none"/>
<path d="M69.04 106.2h0M117.41 83.21h0M74.48 109.81h0M151.15 103.46h0M137.51 98.11h0M86.42 100.75h0M106.43 80.53h0M103.21 79.5h0M83.07 82.2h0M153.93 111.81h0M146.11 91.83h0M114.58 81.13h0M120.02 92.19h0M86.84 89.57h0M99.61 84.43h0M110.13 100.11h0M160.23 75.1h0M123.29 92.85h0M100.99 105.05h0M145.36 116.11h0M75.06 94.96h0M114.73 86.3h0M93.41 96.71h0M138.3 114.75h0M74.23 82.99h0M66.09 94.85h0M131.5 85.64h0M83.85 92.63h0M113.97 101.52h0M159.62 82.72h0M97.85 92.24h0M121.68 109.12h0M141.49 79.57h0M72.43 93.39h0M98.47 102.45h0M75.82 91.83h0M90.69 104.4h0M54.03 97.08h0M124.01 100.19h0M135.68 105.27h0M108.75 97.53h0M89.36 98.3h0M155.81 96.44h0M80.68 99.84h0M121.7 95.98h0M148.27 108.7h0M116.31 91.98h0M83.02 98.98h0M68.76 103.99h0M83.17 95.67h0M134.41 69.76h0M54.97 85.38h0M82.16 89.63h0M102.37 98.95h0M94.65 93.56h0M61.46 92.52h0M91.04 102.66h0M82.55 97.65h0M103.7 114.72h0M96.34 100.02h0M89.57 94.47h0M119.07 86.2h0M59.11 79.33h0M153.45 100.69h0M129.98 86.88h0M122.91 105.69h0M88.8 92.98h0M85.4 99.47h0" stroke="#8cff73" stroke-width="1.6" stroke-linecap="round" fill="none"/>
<path d="M91.02 92.17h0M67.72 100.38h0M55.68 106.59h0M132.96 66.25h0M96.88 90.48h0M123.53 92.5h0M58.31 81.86h0M130.53 100.44h0M123.72 99.89h0M113.54 82.01h0M88.03 84.91h0M101.83 97.19h0M92.32 102.03h0M150.42 103.92h0M114.94 88.35h0M87.49 97.05h0M97.76 92.38h0M148.93 107.59h0M135.36 79.06h0M108.7 84.4h0M113.88 96.81h0M146.67 82.32h0M129.39 98.58h0M58.32 83.83h0M137.5 117.8h0M94.08 95.1h0M146.51 109.04h0M112.74 107.48h0M83.99 90.2h0M142.87 71.07h0M154.54 93.19h0M107.14 73.86h0M115.99 97.65h0M139.8 76.25h0M152.79 99.02h0M70.61 71.34h0M83.6 85.13h0M51.28 93.83h0M123.98 68.95h0M87.65 97.3h0M77.92 98.75h0M57.18 95.07h0M59.81 84.16h0M82.76 88.89h0M93.27 101.36h0M86.72 95.61h0M122.19 97.88h0M116.07 112.16h0M69.18 101.31h0M143.22 114.43h0M146.95 87.97h0M150.26 76.14h0M142.8 101.16h0M63.81 82.47h0M146.23 106.26h0M89.15 103.37h0M49.1 88.57h0M123.94 69.29h0M77.22 86.56h0M108.09 111.59h0M123.79 87.87h0M67.76 94.18h0M129.28 109.77h0M108.79 83.59h0M84.42 95.3h0M113.58 108.42h0M53.85 88.94h0M95.83 89.06h0M155.08 104.79h0M113.98 87.99h0M82.94 88.17h0M54.8 112.89h0M105.56 106.66h0M98.97 95.8h0M76.88 86.54h0M142.45 87.66h0M76.8 87.45h0M150.79 82.26h0" stroke="#a6ff59" stroke-width="1.6" stroke-linecap="round" fill="none"/>
<path d="M123.34 81.11h0M131.33 99.98h0M154.04 106.15h0M116.28 90.92h0M59.2 98.8h0M137.82 77.98h0M148.83 83.04h0M151.58 86.08h0M146.15 108.74h0M148.45 87.91h0M153.68 98.59h0M151.38 117.27h0M74.23 92.35h0M141.5 73.54h0M86.71 89.7h0M127.7 81.34h0M92.74 87.3h0M160.37 93.88h0M151.4 92.25h0M131.14 80.21h0M158.46 90.99h0M155.61 76.74h0M125.78 109.47h0M46.34 96.26h0M134.3 87.17h0M96.81 95.65h0M131.66 101.2h0M144.73 79.6h0M100.7 84.07h0M127.65 83.39h0M82.51 92.48h0M72.63 89.47h0M114.89 87.02h0M154.16 100.93h0M119.59 70.64h0M153.56 90.98h0M125.94 92.72h0M139.46 107.01h0M94.15 108.67h0M130.18 72.88h0M75.38 106.68h0M83.17 88.52h0M125.85 98.36h0M91.94 97.35h0M74.84 79.6h0M138.31 97.88h0M108.96 89.64h0M126.12 92.14h0M59.73 81.71h0M75.57 91.82h0M74.73 94.89h0M72.49 94.54h0M73.85 86.99h0M54.92 76.42h0M138.19 67.21h0M121.16 108.18h0M65.33 98.49h0M138.02 65.88h0M95.56 88.33h0M112.41 89.31h0M70.59 87.47h0M91.3 106.63h0M112.6 99.61h0M144.16 113.83h0M145.24 77.13h0M112.83 107.92h0M84.29 100.44h0M125.57 97.6h0M91.38 89.27h0M128.62 69.61h0M101.54 98.47h0M126.17 89.29h0M97.68 96.57h0M147.66 107.42h0M122.72 78.02h0M126.55 104.22h0M122.18 76.36h0" stroke="#bfff40" stroke-width="1.6" stroke-linecap="round" fill="none"/>
<path d="M73.65 84.59h0M95.14 95.28h0M89.06 64.15h0M95.98 92.21h0M129.78 75.63h0M107.53 90.05h0M151.93 110.31h0M55.56 106.98h0M121.22 72.44h0M148.45 83.63h0M120.06 96.48h0M100.67 98.5h0M99.31 93.81h0M118.89 91.88h0M109.36 71.27h0M126.3 99.36h0M116.16 103.16h0M117.18 69.25h0M114.07 86.45h0M96.9 96.66h0M113.24 81.96h0M78.09 94.51h0M68.31 80.77h0M135.47 85.54h0M66.25 80h0M74.31 91.46h0M80.99 81.62h0M105.37 86.93h0M127.72 80.59h0M86.11 101.39h0M148.04 107.23h0M137.76 96.82h0M66.39 90.13h0M88.89 105.99h0M151.17 97.6h0M119.92 68.3h0M100.81 104.31h0M153.88 96.4h0M126.31 104.82h0M85.45 105.87h0M134.47 101h0M71.14 74.63h0M110.42 92.66h0M98.73 86.34h0M75.5 79.21h0M101.88 81.63h0M101.36 98.31h0M110.2 99.12h0M116.41 96.43h0M86.37 90.05h0M144.85 85.81h0M124.6 93.06h0M140.07 78.62h0M103.83 96.72h0M97.97 87.45h0M80.47 82.38h0M134.55 97.92h0M134.38 69.54h0M153.37 76.01h0M92.53 95.89h0M68 80.69h0M115.09 96.08h0M113.63 93.3h0M75.85 98.42h0M116.75 98.37h0M143.77 76.16h0M147.01 108.71h0M128.2 93.95h0M96.74 98.81h0M111.06 94.49h0M78.34 80.92h0M122.62 84.14h0M63.69 82.41h0M128.43 66.34h0M95.18 94.71h0M68.72 81.53h0M57.87 80.75h0M119.77 91.51h0" stroke="#d9ff26" stroke-width="1.6" stroke-linecap="round" fill="none"/>
<path d="M142.29 96.91h0M87.21 94.23h0M113.5 89.79h0M156.06 77.52h0M128.37 74.76h0M141.86 80.85h0M48.83 81.62h0M135.39 80.29h0M118.04 64.01h0M139.06 83.32h0M84.58 83.39h0M77 105.79h0M144.64 97.27h0M95.54 85.38h0M74.5 85.81h0M151.67 85.32h0M93.92 79.99h0M134.33 83.38h0M123.65 66.44h0M143.81 104.32h0M136.4 80.55h0M118.57 81.03h0M69.99 75.2h0M128.11 92.48h0M156.04 85.56h0M121.57 85.07h0M111.27 87.64h0M127.28 96.21h0M99.82 84.74h0M128.52 79.12h0M139.68 95.26h0M64.11 89.3h0M135.29 84.54h0M117.47 94.26h0M147.74 92.91h0M94.24 81h0M153.99 98.41h0M113.44 60.26h0M122.93 82.78h0M93.57 90.58h0M65.73 77.59h0M148.73 77.87h0M154.94 108.69h0M90.15 75.42h0M98.28 94.93h0M109.77 79.51h0M117.53 90.29h0M127.3 69.44h0M130.86 82.11h0M86.22 64.42h0M143.3 91.33h0M123.31 86.8h0M92.39 96.09h0M95.86 96.69h0M79.08 71.14h0M67.72 76.31h0M59.71 79.52h0M142.91 81.17h0M122.63 68.57h0M87.12 101.27h0M107.5 85.19h0M91.23 69.61h0M94.07 88.99h0M96.7 87.82h0M137.97 85.63h0M137.01 105.95h0M119.01 69.63h0M156.71 97.87h0M51.95 89.3h0M149.13 89.66h0M132.67 92.52h0" stroke="#f2ff0d" stroke-width="1.6" stroke-linecap="round" fill="none"/>
<path d="M111.28 81.94h0M156.02 88.68h0M61.43 89.73h0M96.5 75.57h0M126.23 72.93h0M131.47 105.72h0M146.31 85.27h0M105.15 82.9h0M126.26 73.46h0M142.62 61.09h0M76.34 76.99h0M136.13 77.11h0M154.71 97.95h0M120.38 79.19h0M115.77 81.78h0M84.02 76.63h0M88.83 104.03h0M119.11 86.73h0M138.29 106.38h0M106.31 100.99h0M136.2 69.11h0M138.34 100.81h0M76.35 78.57h0M68.48 78.01h0M130.96 92.75h0M155.74 98.97h0M118.33 77.12h0M59.06 82.2h0M105.13 88.35h0M118.65 83.47h0M133.2 77.55h0M141.01 74.54h0M149.76 88.94h0M110.35 75.37h0M122.48 81.64h0M148.38 89.01h0M113.14 83.04h0M105.19 72.47h0M97.99 89.7h0M98.76 83.18h0M146.3 92.87h0M75.41 80.84h0M122.21 82.22h0M142.31 93.16h0M126.84 69.94h0M113.43 72.08h0M92.72 86.04h0M159.91 102.3h0M112.52 66.5h0M114.31 96.21h0M146.12 101.41h0M75.81 79.95h0M127.11 77.28h0M113.59 95.93h0M153.92 85.65h0M137.82 99.75h0M154.71 103.29h0M123.89 96.24h0M143.45 86.47h0M141.1 91.69h0M146.65 80.17h0M108.22 88.03h0M149.98 83.74h0M119.71 81.86h0M48.53 82.33h0M138.09 80.98h0M92.09 82.86h0M89.15 74.11h0M134.18 62.4h0M147.14 96.53h0M93.42 91.13h0M95.34 81.97h0M52.07 102.46h0M115.53 87.71h0M127.78 66.92h0M136.01 88.17h0M126.2 70.57h0M126.47 67.56h0M127.57 75.44h0M113.61 80.37h0M95.45 96.1h0M134.62 83.31h0M158.49 109.62h0M142.05 91.68h0M127.53 91.84h0M91.48 56.15h0M106.94 78.77h0M77.98 73.49h0M124.71 86.79h0M109.92 71.95h0M130.87 87.43h0M90.76 87.66h0M131.82 97.12h0M115.06 75.53h0M143.88 88.79h0M133.43 81.61h0M103.5 83.04h0" stroke="#fff200" stroke-width="1.6" stroke-linecap="round" fill="none"/>
<path d="M78.86 93.07h0M119.51 70.64h0M107.31 70.73h0M144.26 93.58h0M106.15 50.55h0M89.53 84.74h0M157.13 76.5h0M97.66 78.74h0M80.85 85.51h0M81.61 69.69h0M151.92 115.82h0M124.36 67.43h0M144.99 109.91h0M158.07 100.39h0M96.44 86.72h0M109.05 82.03h0M141.38 83.37h0M121.71 67.01h0M96.7 88.82h0M125.81 71.74h0M117.3 71.93h0M139.62 71.17h0M130.71 91.26h0M110.26 73.97h0M114.63 92.39h0M87.94 88.83h0M142.82 85.67h0M111.97 75h0M120.08 66.66h0M95.42 72.7h0M115.83 84.93h0M118.98 89.02h0M101.2 84.31h0M119.59 83.97h0M119.45 68.62h0M158.36 77.99h0M124.17 95.86h0M132.23 74.47h0M151.64 98.41h0M133.67 66.79h0M151.48 91.46h0M135.14 79.04h0M139.96 70.77h0M131.91 73.44h0M86.08 85.68h0M93.81 96.78h0M135.51 80.78h0M116.07 87.02h0M150.67 104.61h0M128.94 80.57h0M93.68 76.64h0M101.34 85.92h0M81.13 70.64h0M144.56 76.25h0M128.36 74.54h0M57.38 88.48h0M115.49 84.29h0M91.57 86.5h0M119.67 78.15h0M57.77 80.21h0M123.86 93.8h0M95.45 90.77h0M113.12 77.04h0M96.69 79.17h0M126.37 97.74h0M117.34 66.19h0M111.56 62.32h0M147.55 80.4h0M106.31 99.31h0M143 77.92h0M100.11 83.97h0M154.27 104.08h0M154.13 102.61h0M120.85 88.21h0M149.4 88.17h0M137.82 85.28h0M123.56 67.57h0M116.6 84.39h0M100.32 88.94h0M90.07 78.57h0M76.04 77.32h0M98.06 86.71h0M51.26 78.91h0M62.5 81.63h0M57.5 77.18h0" stroke="#ffd900" stroke-width="1.6" stroke-linecap="round" fill="none"/>
<path d="M137.66 84.64h0M148.85 81.04h0M128.9 73.62h0M149.82 82.18h0M128.35 87.98h0M114.07 87.2h0M88.1 73.12h0M160.14 105.53h0M108.24 64.19h0M142.94 77.7h0M127.19 86.97h0M107.87 89.2h0M151.91 117.75h0M131.87 69.5h0M69.87 73.64h0M155.51 102.05h0M52.72 82.75h0M121.01 71.05h0M156.29 103.99h0M96.83 74.93h0M106.64 84.35h0M75.45 74.49h0M89.51 86.28h0M135.97 82.75h0M80.27 82.01h0M91.44 78.7h0M110.53 71.89h0M160.66 83h0M61.98 84.24h0M70.82 87.71h0M104.6 95.5h0M101.4 71.11h0M109.13 87.15h0M118.82 66.64h0M126.31 85.22h0M140.53 91.11h0M109.64 69.04h0M132.6 82.17h0M137.85 68.85h0M133.88 77.66h0M159.52 102.7h0M142.89 82.03h0M102.11 90.86h0M89.97 67.91h0M120.86 63.87h0M116.9 92.8h0M134.41 74h0M111.9 83.91h0M122.87 92.07h0M138.44 76.9h0M101.89 98.81h0M151.77 69.22h0M88.97 91.29h0M93.97 82.22h0M134.14 70.46h0M127.02 67.97h0M125.88 77.76h0M60.01 87.55h0M102.96 89.81h0M145.99 86.61h0M109.67 68.15h0M76.19 78.41h0M87.99 73.28h0M89.78 59.94h0M83.21 83.33h0M120.74 87.53h0M151.95 94.65h0M83.57 95.9h0M77.92 71.8h0M105.75 64.52h0M139.26 108.43h0M113.58 62.2h0M111.33 88.22h0M142.11 82.13h0M92.58 77.28h0" stroke="#ffbf00" stroke-width="1.6" stroke-linecap="round" fill="none"/>
<path d="M80.54 70.45h0M87.5 67.7h0M134.61 77.83h0M130.5 91.05h0M82.28 88.92h0M120.31 74.38h0M106.39 80.34h0M101.38 87.31h0M79.38 87.92h0M109.38 84.65h0M123.24 66.04h0M111.81 68.8h0M156.11 87.82h0M55.82 88.31h0M79.39 83.53h0M125.58 97.74h0M86.82 66.08h0M148.38 92.53h0M132.96 95.37h0M131.47 69.68h0M89.28 82.12h0M88.76 65.71h0M145.11 77.29h0M115.92 65.37h0M145.82 79.01h0M67.14 76.5h0M101.89 84.96h0M90.39 73h0M154.84 82.76h0M82.26 79.95h0M106.94 75.11h0M143.94 61.26h0M94.26 86.92h0M93.37 91.97h0M153.03 78.6h0M109.49 66.1h0M147.83 60.66h0M123.32 86.77h0M142.67 85.86h0M142.99 57.86h0M117.93 83.43h0M84.42 82.46h0M94.54 69.83h0M94.05 59.92h0M116.93 61.7h0M139.13 73.54h0M108.12 84.02h0M125.2 70.2h0M146.73 79.9h0M88.71 67.17h0M60.38 81.25h0M149.16 54.88h0M95.93 85.94h0M119.59 86.2h0M129.87 92.96h0M55.21 79.9h0M145.19 69.62h0M121.21 88.92h0M137.76 70.17h0M54.9 78.96h0M131.3 66.92h0M139.75 87.82h0M79.47 82.83h0M98.57 87.61h0M73.19 69.86h0M121.71 71.92h0M139.67 81.91h0M113.73 75.34h0M128.68 85.43h0M106.53 86.24h0" stroke="#ffa600" stroke-width="1.6" stroke-linecap="round" fill="none"/>
<path d="M109.2 82.78h0M143.74 68.58h0M132.5 75.21h0M135.5 79.54h0M147.93 102.22h0M113.04 75.69h0M153.82 77.47h0M155.95 83.69h0M136.97 78.55h0M151.3 73.8h0M108.52 64.94h0M142.72 76.11h0M95.66 80.33h0M82.91 76.13h0M108.83 61.53h0M97.98 84.67h0M131.21 82.28h0M153.24 100.57h0M100.38 81.87h0M111.19 62.59h0M141.42 62.9h0M91.75 85.51h0M129.33 72.33h0M136.35 73.62h0M99.91 77.98h0M121.73 89.53h0M109.82 62.67h0M110.89 67.97h0M96.2 89.72h0M113.87 66.26h0M111.96 77.3h0M132.85 74.01h0M151.28 76.69h0M100.03 74.48h0M95.06 65.32h0M76.56 80.92h0M106.26 78.15h0M145.1 68.92h0M113.89 85.06h0M119.29 93.4h0M121.46 72.18h0M126.38 92.98h0M93.04 80.42h0M129.44 70.36h0M55.99 84.01h0M128.09 75.27h0M47.69 80.14h0M101.74 61.17h0M131.23 70.34h0M151.22 79.06h0M84.33 64.74h0M121.04 86.92h0M136.38 83.78h0M89.57 81.1h0M76.74 73.09h0M94.63 69.68h0M138.59 79.4h0M82.69 74.34h0M125.75 71.92h0M99.04 82.72h0M56.25 74.89h0M123.97 71.4h0M107.41 54.78h0M94.54 83.7h0" stroke="#ff8c00" stroke-width="1.6" stroke-linecap="round" fill="none"/>
<path d="M119.48 59.31h0M142.61 71.19h0M113.97 65.1h0M98.84 71.81h0M157.77 78.34h0M155.48 96.68h0M115.29 61.54h0M105.5 60.32h0M60.98 77.2h0M91.25 74.14h0M148.11 56.07h0M142.94 74.55h0M125.64 100.03h0M70.87 92.9h0M101.8 82.68h0M124.47 98.07h0M90.85 76.66h0M88.67 74.72h0M95.82 69.37h0M99.49 77.34h0M112.94 72.53h0M50.54 78.66h0M127.27 88.17h0M49.85 81.02h0M142.2 75.54h0M117.8 69.74h0M102.12 71.3h0M91.29 73.98h0M134.24 78.15h0M94.59 70.73h0M78.77 77.46h0M144.24 82.29h0M146.57 75.68h0M135.1 78.4h0M113.15 59h0M105.17 76.08h0M103.09 65.24h0M90.39 77.02h0M103.68 55h0M102.05 69.03h0M138.45 65.57h0M89.77 75.05h0M158.67 84.75h0M103.42 79.2h0M109.41 67h0M113.82 84.92h0M141.59 67.68h0M54.49 78.04h0M55.93 85.4h0M130.57 74.95h0" stroke="#ff7300" stroke-width="1.6" stroke-linecap="round" fill="none"/>
<path d="M118.76 62.41h0M123.9 79.34h0M126.67 77.2h0M94.23 72.15h0M75.38 73.44h0M99.79 78.56h0M90.29 66.29h0M106.29 81.69h0M97.09 79.46h0M81.02 73.84h0M105.66 76.69h0M107.26 61.63h0M154.8 88.65h0M93.15 66.2h0M81.89 81.07h0M113.24 79.53h0M111.05 60.77h0M108.36 78.48h0M61.28 90.63h0M138.56 63.4h0M101.49 70.54h0M96.39 87.69h0M52.72 76.21h0M142.99 70.84h0M126.89 65.97h0M124.32 65h0M91.4 66.91h0M88.47 67.77h0M102.98 79.26h0M148.83 89.7h0M99.26 77.25h0M141.29 74.07h0M118.45 94.38h0M78.77 77.56h0M106.13 75.84h0M112.84 69.27h0M130.46 94.31h0M146.46 60.76h0M107.5 78.03h0M143.61 78.56h0M144.75 70.09h0M131.84 79.61h0M154.48 82.71h0M127.64 91.27h0M125.3 73.84h0M104.06 72.47h0M112.57 68.81h0" stroke="#ff5900" stroke-width="1.6" stroke-linecap="round" fill="none"/>
<path d="M79.05 74.82h0M159.06 72.96h0M156.3 82.07h0M103.68 76.47h0M144 63.17h0M104.66 65.31h0M144.89 64.02h0M98.52 85.5h0M90.45 76.24h0M53.79 77.42h0M118.58 69.94h0M152.63 61h0M153.69 93.11h0M158.84 76.67h0M86.94 70.52h0M152.17 81.7h0M102.28 60.81h0M116.13 80.99h0M126.36 82.78h0M103.53 73.67h0M91.4 77.89h0M103.61 61.99h0" stroke="#ff4000" stroke-width="1.6" stroke-linecap="round" fill="none"/>
<path d="M92.09 55.62h0M109.43 49.97h0M90.12 71.72h0M94.96 80.24h0M100.32 77.21h0M104.7 69.18h0M153.35 64.95h0M106.43 62.49h0M92.63 64.1h0M107.31 65.23h0M83.1 78.19h0M131.73 70.22h0M104.69 80.94h0M145.26 76.56h0M97.22 67.17h0M99.39 52.47h0M96.66 48.55h0M97.3 62.46h0M154.74 65.93h0M105.98 61.45h0M101.75 71.88h0M94.05 67.86h0M98.17 71.29h0M112.67 61.76h0M128.45 66.9h0M105.01 60.66h0M148.18 86.09h0M116.68 94.76h0M106.22 63.78h0M143.3 71.8h0M95.26 80.83h0" stroke="#ff2600" stroke-width="1.6" stroke-linecap="round" fill="none"/>
<path d="M157.74 75.89h0M106.67 64.01h0M149.71 72.92h0M100.51 51.51h0M98.02 65.43h0M99.93 67.49h0M99.88 70.31h0M90.13 68.51h0M116.8 83.72h0M89.52 65.67h0M100.54 67.86h0M105.29 58.77h0M95.58 61.09h0M106.36 61.66h0M94.1 58.42h0M106.94 69.68h0M98.07 71.25h0M56.08 75.87h0M83.98 77.94h0M92.66 54.7h0M150.79 72.09h0M146.85 77.1h0M118.53 69.76h0" stroke="#ff0d00" stroke-width="1.6" stroke-linecap="round" fill="none"/>
<path d="M142.96 57.56h0M98.73 58.61h0M101.31 48.45h0M107.14 53.74h0M96.31 58.63h0M107.22 53.71h0M95.58 67.21h0M105.74 62.63h0M101.15 54.19h0" stroke="#f20000" stroke-width="1.6" stroke-linecap="round" fill="none"/>
<path d="M94.32 60.78h0M102.43 53.43h0M104.75 50.72h0M106.41 66.79h0M95.84 64.87h0M98.16 63.12h0M95.02 64.73h0M150.07 73.71h0M107.36 56.48h0M99.03 72.2h0" stroke="#d90000" stroke-width="1.6" stroke-linecap="round" fill="none"/>
<path d="M102.42 55.37h0M102.13 56.84h0M96.07 54.94h0M96.72 50.42h0M96.53 68.79h0M99.69 71.02h0M106.42 56.41h0" stroke="#bf0000" stroke-width="1.6" stroke-linecap="round" fill="none"/>
<path d="M100.56 52.29h0M100.54 51.73h0M98.54 47.14h0M96.54 69.91h0M148.87 77.63h0M99.57 51.41h0M104.16 54.88h0" stroke="#a60000" stroke-width="1.6" stroke-linecap="round" fill="none"/>
<path d="M99.86 51.64h0M95.98 62.61h0M105.09 54.97h0M98.94 64.38h0M99.96 52.19h0M129.54 66.51h0M124.82 66.63h0M102.13 49.3h0" stroke="#8c0000" stroke-width="1.6" stroke-linecap="round" fill="none"/>
<path d="M81.37 157.68h0M58 142.89h0M85.64 158.48h0M87.12 157.09h0M73.58 163.81h0M51.81 132.2h0M77.5 164.4h0M63.93 127.19h0M134.67 156.43h0M95.26 129.04h0M64.23 149.34h0M83.51 140.67h0M83.81 138.11h0M97.96 164.23h0M91.46 168.97h0M90.51 147.06h0M76.99 155.8h0M78.03 154.37h0M79.22 161.7h0M114.55 130.19h0M136.17 160.99h0" stroke="#00008c" stroke-width="1.6" stroke-linecap="round" fill="none"/>
<path d="M130.79 138.67h0M90.28 162.69h0M120.27 141.41h0M79.44 144.11h0M80.78 151.4h0M117.47 145.07h0M101.72 154.77h0M70.95 149.35h0M92.04 123.27h0M68.18 125.63h0M86.35 159.25h0M114.3 150.15h0M85.74 148.84h0M135.79 139.24h0M88.77 139.2h0M114.15 156.51h0M110.5 161.19h0M117.49 139.02h0M121.6 134.56h0M111.54 153.24h0M61.74 126.93h0M120.87 140.12h0M111.16 165.02h0M88.12 131.31h0M73.25 139.65h0M136.13 160.6h0M99.23 142.77h0M78.78 160.78h0M101.8 129.98h0M97.31 145.45h0M85.99 173.1h0M97.9 167.4h0M68.34 149.17h0M127.18 133h0M129.2 141.68h0M91.87 133.66h0M106.35 121.51h0M123.27 160.31h0M131.11 148.51h0M70.2 105.48h0M59.73 126.93h0M90.38 132.96h0M74.82 142.21h0M96.45 157.31h0M74.4 126.28h0M93.74 167.76h0M84.11 142.28h0M103.16 170.44h0M77.4 162.93h0M106.48 153.19h0M91.49 169.22h0M106.03 131.04h0M83.21 147.92h0M121.73 134.07h0M95.03 157.96h0M72.22 135.11h0M66.65 138h0M58.99 120.84h0M72.13 146.56h0M98.64 126.4h0M104.17 146h0M116.2 146.01h0M118.96 142.76h0M74.37 135.78h0M79.59 126.9h0M87.68 163.22h0M115.5 162.31h0M97.52 159.37h0M73.79 118.61h0M102.57 169.13h0M129.78 125.33h0M105.83 143.43h0M72 152.18h0M81.09 147.96h0M69.67 144.72h0M74.3 159.87h0M72.08 143.28h0M136.52 132.3h0M72.28 132.6h0M61.01 137.82h0M73.97 157.16h0M74.73 125.5h0M81.34 160.3h0M78.39 146.29h0M98.42 169.75h0M96.55 137.13h0M55.69 134.83h0M95.99 164.82h0M79.05 144.3h0M77.16 168.84h0M83.43 128.24h0M113.87 159.05h0M100.08 130.03h0M137.92 148.16h0M86.8 141.08h0M108.4 145.95h0M110.21 149.18h0M100 132.74h0M94.73 134.21h0M119.43 133.41h0M101.19 151.28h0M100.55 170.66h0M88.36 141.61h0M87.66 165.43h0M140.42 142.94h0M125.96 142.95h0M116.9 167.66h0M81.35 135.99h0M85.61 160.75h0M84.37 115.46h0M115.14 125.5h0M121.16 155.13h0M111.09 143.79h0M104.64 168.25h0M74.65 141.25h0M93.61 127.07h0M79.37 155.63h0M127.39 137.29h0" stroke="#0000a6" stroke-width="1.6" stroke-linecap="round" fill="none"/>
<path d="M83.35 168.89h0M87.38 134.09h0M96.79 126.19h0M108.78 163.46h0M89.6 153.39h0M91.59 136.31h0M120.96 145.81h0M85.11 124.49h0M121.68 135.42h0M110.75 130.08h0M96.63 148.88h0M82.5 141.12h0M83.36 162.86h0M87.43 142.17h0M63.11 131.25h0M97.88 157.93h0M115.38 132h0M57.69 140.88h0M105.88 133.16h0M124.03 138.31h0M105.37 175.39h0M128.08 156.13h0M126.25 138.65h0M114.03 145.38h0M145.31 131.37h0M91.75 175.27h0M85.31 134.18h0M107.72 120.49h0M82.99 131.93h0M58.33 142.07h0M91.28 136.35h0M145.04 132.72h0M122.79 139.73h0M87.72 139.13h0M105.7 158.77h0M118.28 133.61h0M91.38 129.59h0M105.5 156.54h0M113.15 140.28h0M129.53 141.15h0M104.78 167.51h0M107.46 171.74h0M79.17 141.75h0M63.98 151.54h0M103.82 173.87h0M79.62 140.1h0M72.99 164.22h0M83.91 136.59h0M93.71 145.03h0M70.5 141.77h0M79.59 159.53h0M110.42 119.72h0M114.87 116.76h0M105.83 164.07h0M92.79 155.88h0M87.08 163.09h0M73.5 133.52h0M66.71 140.32h0M66.44 146.79h0M95.15 165.92h0M133.51 143.44h0M108.27 155.66h0M75.41 138.32h0M106.38 167.98h0M72.09 130.14h0M84.11 147.2h0M94.66 166.1h0M102.76 161.93h0M111.82 142.53h0M106.45 152.08h0M71.36 133.49h0M78.38 132.93h0M69.98 147.6h0M69.27 160.59h0M62.64 140.54h0M75.22 143.38h0M69.53 145.31h0M87.88 162.53h0M65.3 148.64h0M124.75 143.89h0M49.79 123.33h0M104.94 123.57h0M132.64 127.06h0M70.75 135.55h0M88 157.99h0M118.14 155.2h0M87.2 170h0M77.62 156.93h0M114.49 130.34h0M107.41 167.08h0M55.96 117.14h0M89.94 164.05h0M86.5 158.58h0M94.34 129.29h0M85.28 170.26h0M84.77 146.82h0M97.91 123.11h0M110.57 123.61h0M94.56 117.74h0M74.32 148.78h0M89.67 159.26h0M85.57 125.62h0M88.03 149.08h0M151.21 139.6h0M54.8 143.59h0M146.88 143.09h0M99.6 121.98h0M65.88 122.88h0M96.02 120.86h0M69.16 156.24h0M76.01 143.6h0M116.35 147.18h0M86.83 164.52h0M99.79 154.94h0M77.56 146.31h0M97.24 150.32h0" stroke="#0000bf" stroke-width="1.6" stroke-linecap="round" fill="none"/>
<path d="M98.31 162.38h0M128.79 124.27h0M76.33 163.29h0M116.41 130.72h0M81.17 128.93h0M126.98 150.04h0M83.98 130.24h0M97.97 146.97h0M95.98 128.75h0M65.69 147.2h0M90.9 157.53h0M135.48 136.01h0M90.64 135.46h0M111.23 148.64h0M122.5 144.26h0M98.22 120.14h0M82.67 121.31h0M146.75 134.88h0M93.23 125.75h0M116.84 118.39h0M94.18 139.28h0M141.02 138.16h0M111.2 159.27h0M144.37 137.64h0M75.15 136.79h0M118.02 141.99h0M98.84 156.41h0M133.5 161.83h0M72.08 131.19h0M122.69 121.05h0M97.26 130.45h0M72.21 123.8h0M106.5 118.3h0M64.38 124.95h0M103.49 122.16h0M73.27 129.46h0M128.57 138.13h0M67.4 153.92h0M133.7 137.57h0M74.16 130.61h0M81.49 124.92h0M128.9 140.57h0M76.12 149.23h0M77.07 153.79h0M81.07 121.35h0M114.58 152.67h0M71.97 147.14h0M83.25 152.92h0M70.16 132.94h0M103.22 130.75h0M80.02 124.27h0M81.48 149.76h0M115.99 125.34h0M86.15 167.71h0M91.62 124.97h0M66.99 146.63h0M145.02 122.18h0M81.46 152.95h0M82.2 142.3h0M67.91 136.35h0M72.59 128.98h0M85.9 121.81h0M121.03 133.66h0M78.32 117.9h0M106.11 157.85h0M91.11 164.16h0M124.31 137.19h0M85.77 144.07h0M50.04 118.87h0M107.07 161.25h0M90.36 138.31h0M112.74 136.07h0M71.4 122.68h0M131.09 123.31h0M100.43 128.79h0M130.66 132.59h0M79.23 124.04h0M92.52 153.83h0M84.63 151.49h0" stroke="#0000d9" stroke-width="1.6" stroke-linecap="round" fill="none"/>
<path d="M151.33 114.84h0M101.31 111.31h0M124.81 121.28h0M142.83 124.18h0M111.12 133.94h0M50.23 120.08h0M97.29 119.51h0M87.48 123.81h0M133.15 125.3h0M76.47 117.01h0M62.4 116.83h0M90.1 104.94h0M119.22 125.52h0M92.15 113.72h0M119.15 144.2h0M61.64 115.6h0M110.52 116.43h0M58.57 118.82h0" stroke="#008cff" stroke-width="1.6" stroke-linecap="round" fill="none"/>
<path d="M152.56 127.14h0M89.85 98.19h0M111 133h0M127.09 118.13h0M128.65 117.64h0M49 118.69h0M86.99 122.77h0M93.69 122.33h0M85.21 117.22h0M89.25 148.82h0M83.05 149.16h0M85.5 142.23h0M122.23 112.32h0M123.57 130.91h0M134.2 127.09h0M89.71 116.65h0M78.5 148.53h0M76.88 119.41h0M72.2 101.48h0M147.6 134.7h0M69.48 116.7h0M93.87 124.02h0M114.5 114.72h0M87.46 108.62h0M53.55 117.74h0M100.97 115.98h0M54.98 118.86h0M96.98 122.69h0" stroke="#00a6ff" stroke-width="1.6" stroke-linecap="round" fill="none"/>
<path d="M82.33 130.67h0M141.89 138.01h0M121.91 120.06h0M109.95 115.81h0M92.96 112.74h0M116.37 118.45h0M104.15 117.8h0M141.04 128.27h0M75.99 102.9h0M147.82 116.79h0M119.3 115.07h0M108.07 153.83h0M60.02 118.72h0M101.66 106.9h0M62.16 114.02h0M114.24 114.36h0M148.4 117h0M78.79 115.24h0M79.88 121.57h0M66.29 124.22h0M110.06 98.07h0M128.53 120.46h0M119.6 122.36h0M114.44 109.07h0M146.96 112.34h0M87.98 115.04h0M74.89 122.5h0M104.11 115.25h0M124.82 103.44h0M152.34 129.24h0M119.86 116.67h0M148.33 126.96h0M56.1 111.61h0M151.59 121.3h0M108.72 118.48h0M49.96 116.22h0M114.53 119.19h0M96.3 112.56h0M104.98 119.75h0M144.25 123.71h0M54.32 116.78h0M100.8 124.23h0M103.48 154.68h0M125.75 118.32h0M65.35 104.84h0M55.33 111.22h0M91.24 127.86h0M84.54 127.92h0M105.34 118.65h0M75.45 126.24h0M96.34 114.95h0M104.37 115.6h0M83.09 120.53h0M132.41 118.98h0M79.9 113.66h0M114.1 118.16h0M50.1 117.53h0M125.75 119.3h0M91.59 110.27h0M46.61 101.02h0M129.84 125.52h0" stroke="#00bfff" stroke-width="1.6" stroke-linecap="round" fill="none"/>
<path d="M84.16 106.83h0M82.68 118.51h0M148.24 120.64h0M123.28 113.55h0M150.82 120h0M123.34 128.09h0M146.32 113.18h0M77.77 122.44h0M117.56 113.95h0M145.87 103.42h0M63.67 116.72h0M126.62 120.08h0M57.35 112.8h0M137.34 124.35h0M71.51 103.23h0M108.4 109.93h0M86.33 119.76h0M105.98 120.9h0M76.99 103.93h0M127.39 110.04h0M121.26 117.28h0M84.71 130.74h0M76.82 103.16h0M89.49 105.41h0M97.74 117.43h0M149.22 119.23h0M94.11 112.64h0M52.1 112.73h0M94.74 116.96h0M75.22 105.04h0M144.22 114.84h0M103.38 118.97h0M97.76 122.2h0M88.83 110.45h0M117.71 116.81h0M60.31 116.47h0M80.35 139.23h0M121.82 112.21h0M134.01 121.31h0M109.04 123.63h0M81.19 117.32h0M130.26 108.74h0M143.42 112.59h0M64.97 122.6h0M142.71 133.96h0M143.7 136.12h0M68.75 115.67h0M127.23 129.15h0M157.51 140.68h0M129.97 113.82h0M105.16 120.39h0M76.05 108.41h0M151.94 108.65h0" stroke="#00d9ff" stroke-width="1.6" stroke-linecap="round" fill="none"/>
<path d="M113.33 104.95h0M153.36 117.58h0M80.23 107.73h0M50.59 118.01h0M116.3 117.5h0M96.66 116.19h0M116.47 92.86h0M108.59 114.97h0M124.42 110.96h0M86.8 110.34h0M112.39 109.31h0M139.4 122.69h0M50.06 109.84h0M89.33 106.98h0M77.14 108.73h0M113.91 121.24h0M57.1 99h0M107.47 113.02h0M150.57 141.51h0M128.57 112.1h0M153.09 107.53h0M148.8 122.02h0M55.13 109.22h0M89.92 108.15h0M131.79 111.44h0M74.26 98.36h0M149.52 141.64h0M105.02 118.78h0M114.83 109.48h0M67.95 109.44h0M117.44 114.33h0M134.95 74.34h0M152.97 110.11h0M102.26 111.53h0M151.67 110.87h0M96.02 110.34h0M78.99 145.67h0M97.04 114.39h0M104.38 113.37h0M113.01 121.51h0M126.69 110.5h0M56.16 110.72h0M119.73 112.96h0M79.97 127.35h0M125.73 117.48h0M116.64 125.87h0M60.49 112.35h0M144.28 111.28h0M53.37 112.56h0M84.42 110.44h0M127.28 109.59h0M104.31 121.83h0M64.64 89.75h0M92.57 125.59h0M82.35 119.01h0M71.23 91.95h0M83.27 89.2h0M141.87 109.18h0M117.16 121.99h0M122.25 114.09h0M72.16 99.85h0M80.41 110.96h0M56.57 112.29h0M121.84 121.67h0M109.46 111.8h0M50.32 110.69h0M102.22 153.29h0M151.33 112.26h0M105.68 120.49h0M95.49 103.86h0M145.39 113.99h0M145.77 132.56h0M118.13 105.46h0M99.09 139.57h0M114.28 118.36h0M93.27 142.02h0M53.79 120.65h0" stroke="#00f2ff" stroke-width="1.6" stroke-linecap="round" fill="none"/>
<path d="M54.36 113.54h0M146.98 127.51h0M124.77 111.98h0M73.27 105.42h0M144.95 142.04h0M92.98 107.83h0M105.93 112.14h0M69.72 93.18h0M81.73 109.74h0M80.14 100.07h0M89.05 111.4h0M109.15 104.08h0M122.26 116.44h0M150.91 107.88h0M85.32 113.29h0M74.31 101.4h0M90.76 89.15h0M140.67 115.85h0M78.22 116.71h0M49.35 116.12h0M142.4 112.33h0M87.59 101.98h0M99.58 114.78h0M52.87 107.58h0M82.88 97.24h0M143.28 116.79h0M102.1 112.63h0M73.63 103.39h0M79.73 112.42h0M92.2 114.32h0M79.37 118.22h0M78.91 112.44h0M95.16 113.86h0M110.25 108.66h0M90.69 111.44h0M84.22 104.41h0M117.53 112.06h0M87.05 105.42h0M139.16 119.22h0M129.67 121.67h0M74.58 121.06h0M89.33 109.96h0M96.88 103.62h0M85.28 104.32h0M102.83 111.93h0M155.97 121.68h0M122.45 117.48h0M91.41 117.2h0M106.74 102.88h0M114.02 106.31h0M118.34 118.42h0M86 120.21h0M129.66 119.04h0M109.63 111.18h0M150.84 120.78h0M92.16 153.18h0M79.2 91.59h0M77.4 107.46h0M113.61 120.08h0M90.1 112.93h0M80.35 104.49h0M112.69 104.07h0M159.04 108.08h0M120.46 109.18h0M128.6 114.91h0M86.09 116.83h0M91.55 115h0M151.24 128.4h0M115 110.91h0M82.72 106.07h0M81.63 115.42h0M124.43 115.88h0M104.01 109.28h0M70.47 90.38h0M87 110.15h0M83.63 156.51h0M110.87 120.48h0M74.74 98.56h0M47.95 110.47h0" stroke="#0dfff2" stroke-width="1.6" stroke-linecap="round" fill="none"/>
<path d="M113.77 104.22h0M115.25 83.23h0M109.17 99.67h0M148.03 113.28h0M140.92 121.63h0M142.09 102.11h0M97.1 98.34h0M96.87 107.76h0M136.51 120.35h0M80.3 100.31h0M93.18 108.5h0M147.65 111.93h0M62.21 113.4h0M56.03 111.34h0M133.53 114.36h0M99.5 110.83h0M116.84 105.05h0M112.57 115.19h0M153.14 109.6h0M135.37 117.9h0M58.98 99.14h0M151.02 98.69h0M97.51 113.22h0M108.91 108.74h0M107.98 82.61h0M113.65 108.73h0M82.44 100.77h0M73.7 109.19h0M54.14 116.94h0M79.09 88.85h0M51.01 104.96h0M97.62 107.61h0M93.12 107.12h0M114.78 105.91h0M121.89 108.26h0M123.19 108.29h0M152.62 111.11h0M63.03 96.82h0M125.96 118.24h0M68.78 106.28h0M87.49 110.59h0M89.15 95.64h0M76.28 90.19h0" stroke="#26ffd9" stroke-width="1.6" stroke-linecap="round" fill="none"/>
<path d="M82.22 99.5h0M92.76 99.96h0M81.03 90.32h0M121.67 109.14h0M46.95 98.43h0M79.04 100.55h0M123.88 65.87h0M158.47 100.68h0M99.79 111.85h0M90.15 107.19h0M79.74 95.8h0M83.68 111.33h0M126.11 115.93h0M104.76 117.83h0M127.73 109.17h0M47.21 95.81h0M71.85 108.36h0M115.32 94.62h0M148.33 124.2h0M126.05 87.32h0M79.19 97.27h0M69.52 94.13h0M149.65 108.21h0M71.01 103.13h0M95.52 111.12h0M97.01 96.8h0M80.25 104.66h0M78.02 105.9h0M79.71 91.19h0M82.99 102.46h0M149.85 114.18h0M78.84 90.41h0M92.35 109.94h0M150.4 111.98h0M108.42 107.01h0M99.05 88.42h0M102.47 104.47h0M144.1 115.01h0M82.79 109.78h0M114.61 100.93h0M84.98 103.57h0M89.59 109.02h0M78.44 104.82h0M94.21 94.13h0M131.06 109.01h0M100.33 108.07h0M120.89 85.6h0M143.36 114.52h0M66.76 90.47h0M117.57 106.55h0M85.25 96.27h0M99.8 102.69h0M137.09 108.04h0M69.84 96.8h0" stroke="#40ffbf" stroke-width="1.6" stroke-linecap="round" fill="none"/>
<path d="M74.24 106.52h0M63.16 92.6h0M95.13 104.15h0M114.66 99.4h0M120.93 109.17h0M104.11 91.04h0M77.26 78.31h0M104.53 108.78h0M119.1 110.42h0M68.69 108.09h0M98.98 108.32h0M105.49 88.15h0M133.19 81.3h0M151.18 108.52h0M153.61 108.1h0M91.67 103.37h0M97.84 104.43h0M119.21 90.05h0M92.3 110.04h0M121.9 102.43h0M110.04 88.32h0M146.07 111.65h0M89.4 100.82h0M149.09 105.29h0M91.67 105.47h0M109.32 88.7h0M99.55 89.98h0M109.34 108.76h0M96.28 98.35h0M116.57 100.01h0M95.47 81.17h0M128.73 111.98h0M69.71 109.84h0M144.88 108.65h0M90.46 113.73h0M149.22 95.92h0M139.18 63.35h0M116.23 101.84h0M94.08 109.16h0M141.67 107.47h0M63.22 90.24h0M119.06 110.14h0M125.72 79.03h0M140.51 103.2h0M72.03 112.88h0M53.59 108.66h0M90.87 90.12h0M143.95 102.36h0M82.79 92.87h0M116.26 106.47h0M108.5 106.06h0M69.25 86.86h0M77.65 98.2h0M79.9 93.31h0M77.95 98.84h0M109.74 100.94h0M81.02 94.91h0M91.68 111.7h0M92.37 109.18h0M97.35 99.21h0M122.45 74.16h0" stroke="#59ffa6" stroke-width="1.6" stroke-linecap="round" fill="none"/>
<path d="M145.94 108.02h0M92.28 96.88h0M80.48 78.37h0M82.27 100.6h0M110.51 91.04h0M113.6 88.75h0M68.04 98.83h0M157.17 104.94h0M103.7 103.42h0M88.37 104.37h0M98.05 98.67h0M76.4 105.62h0M127.57 84.62h0M107.98 93.99h0M127.79 111.97h0M152.98 105.31h0M126.84 112.23h0M119.84 97.3h0M113.73 101.82h0M64.46 100.11h0M127.49 103.27h0M81.79 99.22h0M82.7 86.16h0M70.39 97.54h0M60.4 93.28h0M52.06 92.11h0M141.4 111.66h0M101.83 113.97h0M73.04 96.19h0M127.11 91.15h0M152.04 102.6h0M72.96 82.86h0M147.28 93.5h0M47.32 94.75h0M141.17 110.42h0M152.59 102.48h0M84.72 102.66h0M78.83 95.32h0M49.07 106.89h0M118.22 75.11h0M150.34 111.43h0M108.64 104.65h0M76.56 88.32h0M86.39 95.63h0M157.31 103.84h0M152.06 111.05h0M94.89 104.17h0M70.94 94.1h0M88.34 88.83h0M74.42 89.21h0M55.16 87.98h0M91.24 93.46h0M82.24 104.46h0M86.05 109.59h0M112.56 111.22h0M68.29 93.27h0" stroke="#73ff8c" stroke-width="1.6" stroke-linecap="round" fill="none"/>
<path d="M154.33 117.35h0M148.88 74.35h0M159 109.34h0M82.99 87.99h0M102.64 91.21h0M147.34 75.81h0M113.01 98.99h0M68.74 88.32h0M127.94 97.44h0M127.45 79.7h0M110.33 101.68h0M79.27 106.89h0M113.48 106.99h0M149.47 110.91h0M84.15 111.11h0M133.27 100.62h0M152.63 103.84h0M109.31 100.88h0M131.45 114.76h0M82.31 90.83h0M145.61 110.9h0M71.34 84.63h0M133.33 107.86h0M89.56 89.74h0M137.78 107.84h0M85.07 94.51h0M148.38 112.7h0M114.42 111.65h0M124.52 83.07h0M94.97 115.98h0M88.38 71.09h0M93.33 106.88h0M146.55 110.15h0M51.49 84.94h0M55.21 103.99h0M150.3 113.75h0M129.82 109.45h0M147.05 111.76h0M143.05 105.44h0M82.82 97.71h0M126.23 100.61h0M133.8 88.51h0M60.91 82.47h0M61.24 88.08h0M52.1 81.71h0M109.96 65.72h0M76.74 77.59h0M62.98 92.62h0M65.64 78.15h0M150.27 111.4h0M62.43 93.31h0M98.6 103.56h0M136.46 74.82h0M120.8 93.31h0M68.58 94.83h0M119.1 103.97h0M146.71 87.71h0M83.48 84.83h0M153.17 100.92h0M66.81 83.68h0M137.21 76.5h0M79.88 100.3h0M80.14 90.8h0M70.87 90.43h0M149.28 95.07h0M113.04 83.54h0M159.24 82.38h0M71.13 83.98h0" stroke="#8cff73" stroke-width="1.6" stroke-linecap="round" fill="none"/>
<path d="M118.26 77.53h0M88.32 90.79h0M154.59 78.42h0M125.52 96.45h0M104.55 94.43h0M98.16 88.03h0M66.43 91.87h0M117.58 102.27h0M107.02 107.75h0M82.4 71.65h0M126.3 96.14h0M119.48 97.01h0M151 89.89h0M67.24 91.43h0M155.22 109.49h0M107.88 88.29h0M96.72 84.58h0M93.19 100.61h0M145.36 87.85h0M70.4 100.52h0M68.8 73.67h0M91.02 95.48h0M133.77 68.18h0M98.57 99.58h0M107.16 97.74h0M124.3 83.47h0M110.39 78.58h0M125.33 95.69h0M112.8 102.24h0M71.37 88.7h0M155.12 97.8h0M113.13 98.32h0M65.55 91.98h0M96.18 87.54h0M145.15 113.64h0M98.43 93.18h0M123.84 104.18h0M126.49 97.35h0M92.22 90.45h0M157.37 90.81h0M152.91 85.6h0M66.25 79.73h0M61.85 87.3h0M69.56 90.9h0M156.83 108.33h0M115.83 95.25h0M147.36 97.67h0M134.25 84.85h0M79.51 89.42h0M128.19 110.96h0M123.73 95.35h0M67.59 86.97h0M91.95 84.03h0M113.9 75.59h0M161.65 93.77h0M150.02 102.89h0M107.33 89.72h0M95.03 84.75h0M107.92 97.09h0M145.1 107.31h0M150.46 92.83h0M74.64 100.9h0M157.05 106.13h0M109.39 105.39h0M115.75 74.28h0M110.71 106.81h0M150.76 98.87h0M127.26 104.26h0M47.35 99.64h0M74.83 86.41h0M155.97 88.7h0M115.92 103.25h0M68.99 90.54h0" stroke="#a6ff59" stroke-width="1.6" stroke-linecap="round" fill="none"/>
<path d="M113.79 107.48h0M121.15 89.68h0M147.99 91.06h0M77.28 96.55h0M143.4 98.93h0M102.17 110.8h0M100.8 86.76h0M117.38 85.03h0M97.78 97.02h0M119.75 75.86h0M151.71 107.63h0M152.74 90.15h0M158.42 83.88h0M92.82 104.93h0M79.17 83.29h0M159.35 97.74h0M142.67 85.6h0M97.65 110.9h0M119.17 81.25h0M122.54 106.14h0M80.21 93.51h0M95.34 94.31h0M153.02 75.8h0M137.04 100.85h0M146.32 76.64h0M123.72 94.46h0M128.03 92.28h0M64.01 77.26h0M86.73 89.43h0M146.09 100.66h0M86.44 91.87h0M79.33 75.99h0M123.44 88.98h0M138.36 86.44h0M78.33 95.79h0M132.62 99.78h0M140.05 79.25h0M158.58 90.26h0M66.25 81.19h0M120.51 94.74h0M66.4 90.89h0M68.84 91.08h0M117.92 105.67h0M86.07 92.34h0M128.84 97.35h0M110.86 94.14h0M110.19 85.06h0M125.54 89.63h0M150.79 110.81h0M109.84 86.56h0M108.15 80.45h0M140.24 107.66h0M133.29 95.89h0M145.65 87.09h0" stroke="#bfff40" stroke-width="1.6" stroke-linecap="round" fill="none"/>
<path d="M119.51 94.41h0M146.3 96.29h0M94.79 86.5h0M125.19 108.54h0M49.52 95.99h0M102.97 94.24h0M86.87 85.09h0M81.42 86.67h0M60.23 77.01h0M77.03 96.96h0M117.69 100.54h0M122.45 85.06h0M153.92 91.9h0M150.34 107.13h0M112.59 95.1h0M152.59 98.15h0M58.12 83.01h0M141.48 83.78h0M137.14 80.58h0M127.48 78.13h0M70.45 105.55h0M139.59 67.48h0M138.75 62.72h0M105.98 76.5h0M98.71 91.52h0M128.13 69.2h0M83.34 83.02h0M108.35 91.41h0M102.76 98.21h0M81.86 87.57h0M63.37 82.64h0M63.63 88.28h0M146.65 77.22h0M116.1 94.89h0M113.54 97.42h0M93.13 75.21h0M135.23 106.5h0M127.11 76.86h0M155.79 68.24h0M134.79 71.17h0M66.66 89.86h0M112.34 84.61h0M153.88 106.31h0M142.03 85.62h0M56.71 83.48h0M96.33 103.58h0M85.48 68.74h0M93.29 85.21h0M87.82 66.77h0M113.39 69.8h0M114.16 74.26h0M81.96 74.9h0M80.1 86.22h0M96.01 81.05h0M110.86 108.31h0M152.44 99.38h0M112.59 89.04h0M63.96 79.85h0M115.41 94.71h0M103.87 95.27h0M127.11 69.59h0M80.71 78.66h0M106.08 78.66h0M116.96 81.8h0M144.65 98.68h0M116.02 88.81h0M118.11 77.38h0M93.47 95.01h0M111.28 79.69h0M129.89 77.38h0M78.52 79.82h0M97.33 82.63h0M103.71 74.31h0M142.47 100.6h0M106.36 95.72h0M118.54 108.07h0M75.48 86.22h0M132.87 81.17h0M87.9 96.79h0M61.35 84.66h0M114.42 87.84h0M140.13 79.47h0M118.44 84.68h0M148.6 94.25h0" stroke="#d9ff26" stroke-width="1.6" stroke-linecap="round" fill="none"/>
<path d="M104.65 68.7h0M107.37 95.21h0M94.47 89.74h0M117.79 93.5h0M146.91 100.8h0M138.88 73.1h0M144.12 72.57h0M110.5 83.96h0M78.71 90.27h0M120.65 76.07h0M152.78 102.37h0M76.02 69.95h0M160.7 92.93h0M122.3 84.38h0M141.99 93.28h0M133.83 81.82h0M130.63 71.56h0M120.08 101.34h0M143.13 64.76h0M120.17 92.75h0M128.39 81.43h0M82.72 86.52h0M90.15 79.74h0M137.19 87.72h0M82.99 82.42h0M88.32 97.98h0M113.42 84.6h0M109.62 83.66h0M107.86 78.89h0M122.98 92.93h0M116 90.66h0M151.4 80.91h0M120.19 87.35h0M131.52 88.59h0M145.58 97.44h0M107.23 73.25h0M133.73 64.72h0M154.51 77.88h0M142.82 96.69h0M102.73 87.42h0M106.03 79.24h0M124.56 95.84h0M109.72 79.36h0M50.23 89.04h0M118.84 79.46h0M148.01 90.07h0M80.8 81.34h0M85.39 86.44h0M138.33 79.18h0M111.39 79.89h0M92.11 96.04h0M123.9 83.34h0M76.99 78.24h0M138.96 82.81h0M150.87 86.05h0M112.92 97.71h0M86.87 89.99h0M94.68 90.64h0M153.36 71.49h0M132.06 87.07h0M91.78 69.05h0M156.3 74.94h0M147.66 81.63h0M64.3 91.64h0M98.25 95.23h0M159.37 96.95h0M85.76 76.99h0M121.81 89.37h0M129.72 84.77h0M91 94.88h0M95.35 113.37h0M145.59 94.55h0M147.38 101.87h0M116.65 95.08h0M63.28 80.94h0M141.13 81.92h0M76.34 83.12h0M151.96 107.71h0M158.58 81.79h0M92.48 93.77h0M88.44 86.96h0M158.53 85.42h0M127.02 93.19h0M109.34 80.91h0M122.57 73.51h0M84.71 66.26h0M129.27 81.92h0M65.66 88.7h0M128.07 89.6h0" stroke="#f2ff0d" stroke-width="1.6" stroke-linecap="round" fill="none"/>
<path d="M133.03 82.57h0M143.71 100.62h0M139.29 76.07h0M96.11 82.77h0M96.02 77.57h0M48.64 87.59h0M91.46 95.8h0M107.75 84.05h0M121.37 65.43h0M138.71 98.52h0M106.88 79.8h0M105.74 74.95h0M70.85 82.42h0M105.98 75.96h0M87.02 104.01h0M57.47 85.77h0M75.28 85.77h0M90.46 89.94h0M119.11 87.16h0M110.02 88.95h0M110.57 97.26h0M87.32 90.31h0M74.41 80.66h0M112.09 95.42h0M76.9 90.83h0M108.25 104.88h0M149.2 104.77h0M104.96 75.93h0M94.49 88.73h0M129.21 90.15h0M64.88 81.52h0M121.53 95.14h0M98.05 101.17h0M157.89 75.95h0M60.58 84.66h0M71.85 91.2h0M138.64 85.44h0M56.97 77.83h0M103.03 86.92h0M103.78 72.45h0M65.33 84.2h0M83.88 90.71h0M82.04 78.57h0M98.4 89.41h0M115.83 79.59h0M151.7 75.69h0M148.68 92.01h0M83.27 95.24h0M134.68 70.02h0M87.91 89.85h0M92.66 97.85h0M95.18 96.77h0M82.02 83.21h0M65 85.29h0M85.55 73.42h0M115.46 73.61h0M115.54 79.42h0M114 82.07h0M112.71 80.49h0M138.37 77.31h0M140.01 73.13h0M73.49 74.27h0M120.66 89.01h0M71.07 80.6h0M83.77 81.69h0M60.3 75.56h0M159.23 80.74h0M109.53 85.15h0M106.97 81.06h0M110.9 79.19h0M154.35 112.6h0" stroke="#fff200" stroke-width="1.6" stroke-linecap="round" fill="none"/>
<path d="M149.81 84.35h0M113.69 78.89h0M137.79 73.6h0M85.53 94.42h0M69.69 83.44h0M139.95 80.19h0M147.85 72.88h0M112.67 84.62h0M123.83 66.05h0M115.96 80.9h0M90.6 86.99h0M69.65 101.18h0M61.64 82.37h0M100.44 97.27h0M66.84 86.41h0M93.15 97.67h0M101.28 108.64h0M156.52 97.42h0M158.73 73.71h0M139.44 74.39h0M93.9 72.12h0M118.17 73.44h0M109.05 73.91h0M107.52 69.77h0M152.87 86.95h0M81.94 84.18h0M122.56 70.68h0M101.56 75.43h0M135.58 76.03h0M135.52 84.18h0M103.24 86.31h0M100.41 55.02h0M149.86 79.97h0M113.71 75.91h0M121.2 82.89h0M146.18 82.65h0M146.43 89.44h0M87.22 64.95h0M135.48 75.13h0M146.81 98.32h0M154.07 85.35h0M139.14 93.13h0M63.7 77.97h0M131.71 92.16h0M87.93 80.49h0M133.34 69.95h0M126.52 108.97h0M157.08 84.36h0M123.44 76.62h0M135.02 63.94h0M107 86.55h0M95.99 69.56h0M103.01 94.02h0M75.78 84.77h0M105.65 86.79h0M110.69 59.23h0M123.59 86.23h0M51.98 80.34h0M117.58 90.51h0M89.49 73.38h0M124.01 77.92h0M72.57 82.7h0M143.5 71.85h0M83.17 82.21h0M76.92 72.01h0M113.81 85.38h0M111.45 73.98h0M103.75 72.83h0M153.74 79.11h0M134.55 84.7h0M136.07 74.6h0M114.69 93.74h0M93.89 81.37h0M137.97 108.64h0M132.76 81.08h0M157.83 74.33h0M47.09 84.03h0M50.27 76.52h0" stroke="#ffd900" stroke-width="1.6" stroke-linecap="round" fill="none"/>
<path d="M117.68 80.05h0M149.55 97.14h0M112.89 70.14h0M103.91 77.6h0M139.1 64.03h0M91.79 84.69h0M140.19 96.23h0M104.96 78.33h0M90.27 74.08h0M157.3 97.77h0M131.08 74.05h0M118.56 87.51h0M136.76 79.29h0M53.83 77.46h0M123.17 78.53h0M100.38 82.93h0M75.38 70.08h0M145.66 95.1h0M88.96 68.39h0M75.78 91.07h0M108.82 82.64h0M139.85 71.18h0M120.02 83.97h0M154.25 70.51h0M98.9 87.55h0M138.67 69.98h0M118.95 85.93h0M144.27 84.91h0M158.64 94.2h0M117.38 65.6h0M89.86 73.37h0M94.05 65.9h0M114.11 92.49h0M119.07 84.96h0M133.21 83.26h0M61.99 79.78h0M92.78 79.88h0M105.47 71.4h0M94.65 72.22h0M147.45 71.58h0M137.67 80.81h0M109.36 65.46h0M133.35 73.56h0M125.3 87.22h0M107.72 64.65h0M126.91 76.17h0M115.74 65.26h0M119.25 89.6h0M145.18 102.38h0M114.77 85.35h0M57.67 74.9h0M149 80h0M155.74 73.29h0M154.01 91.84h0M110.56 76.92h0M121.26 67.94h0M139.02 75.66h0M133.66 89.15h0M95.71 88.1h0M116.1 69.85h0M95.42 83.1h0M112.96 79.83h0M98.6 100.85h0M137.61 79.1h0M136.84 71.62h0M121.45 69.88h0M87.84 86.95h0M135.24 68.53h0M52.42 81.62h0M51.53 77.99h0" stroke="#ffbf00" stroke-width="1.6" stroke-linecap="round" fill="none"/>
<path d="M60.4 89.1h0M130.1 83.27h0M143.05 65.73h0M133.05 109.76h0M126.29 82.79h0M101.71 81.01h0M149.29 57.54h0M152.86 73.69h0M69 73.47h0M135.42 100.36h0M78.97 82.89h0M161.33 87.05h0M106.36 84.1h0M92.63 79.66h0M121.64 95.33h0M125.87 80.64h0M146.15 79.63h0M153.56 96.96h0M94.32 71.16h0M99.79 86.81h0M151.13 65.72h0M50.86 77.02h0M141.85 82.72h0M141.41 85.18h0M148.08 76.64h0M141.27 62.34h0M135.23 85.18h0M105.83 68.33h0M101.11 79.18h0M86.64 64.88h0M122.27 72.02h0M148.85 81.45h0M106.33 83.19h0M93.94 83.22h0M77.78 83.04h0M136.03 70.21h0M118.44 80.5h0M107.59 51.63h0M110.97 74.31h0M124.24 62.9h0M155.43 80.83h0M109.42 73.63h0M96.78 89.35h0M94.64 89.13h0M142.01 69.49h0M145.18 99.02h0M97.62 80.3h0M109.04 93.75h0M143.46 80.2h0M153.22 59.66h0M151.9 61.42h0M152.53 64.41h0M49.77 82.91h0M49.58 76.46h0M51 82.61h0M49.27 84.51h0M46.21 81.7h0M50.94 80.56h0M49.98 73.4h0M44.63 77.11h0M48.51 80.28h0M46.09 77.22h0M50.37 82.19h0M45.18 81.33h0M50.94 83.98h0M49.43 80.83h0M52.21 82.75h0M43.34 84.21h0M51.84 82.19h0M47.39 76.08h0" stroke="#ffa600" stroke-width="1.6" stroke-linecap="round" fill="none"/>
<path d="M106.54 65.48h0M160 82.92h0M117.21 91.27h0M133.61 81.23h0M132.77 73.45h0M145.91 73.67h0M161.18 98.69h0M154.02 95.96h0M110.16 92.77h0M92.57 55.37h0M151.21 78.81h0M92.46 73.29h0M150.22 72.58h0M86.74 83.67h0M139.66 97.72h0M69.68 80.37h0M91.51 79.12h0M96.72 74.96h0M101.03 82.03h0M115.03 86.74h0M87.34 74.34h0M150.82 67.92h0M85.4 66.59h0M156.13 76.3h0M136.36 65.2h0M135.57 78.5h0M114.98 67.52h0M116.09 78.65h0M93.74 64.85h0M101.35 80.36h0M128.35 74.32h0M93.74 66.99h0M129.94 80.09h0M107.57 86.73h0M110.94 79.63h0M81.72 72.95h0M148.51 98.77h0M102.08 77.29h0M93.15 68.18h0M135.67 73.15h0M158.44 96.19h0M104.09 75.13h0M150.23 86.16h0M139.18 94.23h0M151.67 70.75h0M143.08 59.97h0M142.64 68.78h0M146.31 62.65h0M154.45 65.18h0M148.24 65.25h0M143.58 60.58h0M155.65 63.54h0M152.88 60.98h0M143.73 58.1h0M149.14 65h0M145.06 59.65h0M144.98 63.18h0M148.24 60.87h0M143.21 59.21h0M157.04 66.02h0M153.65 66.76h0M152.04 62.49h0M151.6 56.98h0M45.83 82.29h0M49.05 76.33h0M47.8 83.83h0M44.55 82.13h0M47.53 79.1h0M48.82 84.82h0M50.37 81.81h0M50.6 86.24h0M49.37 85.78h0M48.3 80.69h0M48.92 78.92h0M50.57 78.68h0M48.24 83.19h0M50.97 80.07h0M51.13 82.09h0M48.96 82.74h0" stroke="#ff8c00" stroke-width="1.6" stroke-linecap="round" fill="none"/>
<path d="M110.12 64.39h0M79.07 85.9h0M107.02 61.17h0M148.76 81.99h0M137.76 76.67h0M105.53 81.45h0M96.43 69.28h0M127.9 83.86h0M107.85 67.6h0M146.58 77.83h0M123.07 91.02h0M117.07 80.88h0M141.26 95.15h0M106.33 81.72h0M151.49 93.74h0M114.39 64.47h0M90.89 68.88h0M158.48 73.96h0M122.34 95.54h0M135.93 87.32h0M146.37 76.95h0M68.29 77.69h0M136.82 82.75h0M46.58 82.35h0M101.73 77.78h0M132.23 81.55h0M144.31 67.71h0M92.44 80.2h0M154.47 98.98h0M89.83 92.3h0M51.33 78.89h0M110.01 87.89h0M150.68 100.12h0M133 74.82h0M97.28 65.48h0M59.36 85.77h0M144.66 65.44h0M109.06 65.38h0M101.98 76.22h0M120.02 77.71h0M122.92 85.74h0M130.67 75.83h0M100.56 74.41h0M103.94 65.59h0M97.97 67.99h0M105.64 64.03h0M105.85 67.19h0M149.91 60.88h0M154.26 63.91h0M150.3 61.83h0M148.25 61.47h0M150.68 58.54h0M152.14 62.35h0M149.52 58.55h0M147.98 61.6h0M150.59 57.67h0M146.07 62.65h0M148.78 62.53h0M147.74 58.36h0M148.2 63.39h0M156.6 56.3h0M144.75 66.05h0M153.41 63.79h0M148.3 60.85h0M142.47 61.12h0M151.72 61.47h0M146.1 60.06h0M41.7 79.89h0M47.79 82.28h0" stroke="#ff7300" stroke-width="1.6" stroke-linecap="round" fill="none"/>
<path d="M157.16 75.18h0M108.01 63.14h0M99.77 68.96h0M139.9 87.94h0M107.55 56.94h0M104.71 69.72h0M93.91 57.92h0M101.69 55.63h0M149.38 103.91h0M148.63 65.61h0M56.06 75.88h0M118.44 68.03h0M115.52 69h0M109.18 80.45h0M113.65 76.95h0M88.49 84.15h0M117.1 71.33h0M123.23 61.94h0M104.62 71.98h0M126.35 79.69h0M118.51 74.96h0M108.58 80.78h0M83.68 69.62h0M104.67 71.86h0M92.14 70.68h0M93.3 68.44h0M98.79 66.99h0M99.08 65.68h0M92.79 65.46h0M97.31 63.56h0M97.96 67.73h0M91.38 71.49h0M105.3 67.09h0M99.89 61.63h0M84.93 67.06h0M97.69 71.54h0M88.92 66.97h0M150.51 58.49h0M153.14 65.33h0M151.25 60.83h0M140.51 64.39h0M151.77 56.8h0M153.43 65.08h0M148.51 62.63h0M155.62 58.61h0M153.45 69.61h0" stroke="#ff5900" stroke-width="1.6" stroke-linecap="round" fill="none"/>
<path d="M125.76 64.29h0M101.43 64.12h0M98.64 64.34h0M105.97 79.23h0M102.57 55.05h0M109.84 60.91h0M99.52 77.26h0M49.66 76h0M88.39 73.83h0M97.81 67.21h0M156.6 60.05h0M63.79 80.75h0M98.73 53.9h0M102.19 71.08h0M147.8 78.84h0M91.98 70.72h0M92.53 67.59h0M96.66 68.83h0M98.83 69.84h0M98.3 69.91h0M137.04 88.35h0M92.14 70.24h0M114.09 63.5h0M110.66 72.44h0M103.85 37.35h0M98.24 71.67h0M98.24 67.19h0M98.19 74.05h0M102.03 70.22h0M94.58 70.03h0M91.64 66.62h0M106.61 66.43h0M95.68 67.12h0M101.86 68.44h0M99.25 64.58h0M98.42 64.92h0M96.65 74.1h0M97.11 66.75h0M99.67 68.77h0M95.22 69.84h0M96.05 76.06h0" stroke="#ff4000" stroke-width="1.6" stroke-linecap="round" fill="none"/>
<path d="M115.74 68.32h0M103.96 74.39h0M98.58 63.93h0M102.09 69.8h0M96.41 67.31h0M102.04 71.02h0M138.45 69.85h0M99.01 59.7h0M94.91 58.39h0M97.59 63h0M106.19 53.97h0M99.65 63.42h0M97.54 75.46h0M94.56 52.1h0M102.57 54.39h0M97.58 68.12h0M97.05 73.77h0M122.62 71.52h0M104.99 55.82h0M93.38 63.42h0M114.23 70.11h0M125.92 81.06h0M98.49 91.05h0M114.52 80.16h0M54.88 80.04h0M160.67 76.99h0M122.15 73.37h0M104.1 75.92h0M142.33 68.39h0M135.82 69.42h0M105.98 62.68h0M100.29 51.98h0M96.23 55.91h0M97.92 51.08h0M101.29 64.41h0M98.94 60.95h0M100.02 47.9h0M101.33 55.88h0M98.03 48.4h0M100.06 43.42h0M96.85 62.44h0M98.25 58.32h0M100.9 46.23h0M99.5 51.19h0M102.5 69.55h0M101.87 52.73h0M98.53 67.96h0M98.44 60.58h0M99.44 78h0M99.74 66.86h0M102.54 61.83h0M100.2 68.09h0M100.83 70.31h0M102.92 52.85h0M103.65 68.86h0M97.73 68.22h0M100.76 67.77h0M103.47 68.27h0M92.62 70.31h0" stroke="#ff2600" stroke-width="1.6" stroke-linecap="round" fill="none"/>
<path d="M143.96 70.51h0M133.89 67.37h0M82.56 78.63h0M112.02 68.04h0M107.51 66.46h0M137.77 68.1h0M104.96 57.15h0M106.38 72.03h0M95.7 72.05h0M107.1 55.62h0M105.03 58.62h0M141.11 95.24h0M101.39 57.53h0M101.12 72.06h0M95.42 54.42h0M100.91 63.21h0M100.36 51.63h0M100.59 59.74h0M103.35 66.26h0M97.99 57.89h0M100.02 61.41h0M98.96 55.15h0M105.06 59.56h0M106.11 61.01h0M102.7 55.7h0M93.26 52.73h0M100.53 54.75h0M100.62 58.99h0M97.89 61h0M103.09 48.97h0M100.24 60.69h0M99.9 72.23h0M103.15 46.07h0M102.57 61.07h0M97.08 54.23h0M106 65.19h0M103.39 58.3h0M105.25 72.94h0M99.61 61.15h0" stroke="#ff0d00" stroke-width="1.6" stroke-linecap="round" fill="none"/>
<path d="M97.67 60.32h0M98.04 66.34h0M94.22 68.6h0M96.92 57.36h0M102.99 58.44h0M95.67 69.8h0M98.06 60.01h0M100.98 60.54h0M100.75 55.57h0M96.49 42.89h0M101.01 48.59h0M99.38 59.71h0M99.23 67.74h0M101.76 49.2h0M100.36 60.67h0M98.92 66.15h0M106.39 59.4h0M97.46 66.01h0M97.72 53.92h0M97.66 55.83h0M104.6 49.31h0M96.25 54.79h0M95.67 58.24h0M100.47 48.09h0M96.34 51.73h0" stroke="#f20000" stroke-width="1.6" stroke-linecap="round" fill="none"/>
<path d="M146.82 80.81h0M108.39 58.45h0M104 48.55h0M100.02 57.27h0M92.95 62.24h0M102.07 72.46h0M121.22 66.12h0M104.26 66.86h0M101.32 62.43h0M101.36 52.27h0M96.91 50.75h0M98.97 47.76h0" stroke="#d90000" stroke-width="1.6" stroke-linecap="round" fill="none"/>
<path d="M96.92 49.27h0M99.89 58.25h0M97.52 60.05h0M102.24 68.31h0M99.07 56.8h0M100.01 50.88h0M97.44 48.14h0M101.09 49.24h0M99.41 51.23h0M98.15 51.17h0M98.48 54.77h0M101.02 51.13h0" stroke="#bf0000" stroke-width="1.6" stroke-linecap="round" fill="none"/>
<path d="M92.88 62.29h0M100.31 69.51h0M98.35 59.78h0M98.43 69.27h0M96.36 48.5h0M100.61 49.33h0M100.54 49.53h0" stroke="#a60000" stroke-width="1.6" stroke-linecap="round" fill="none"/>
<path d="M114.77 73.53h0M92.64 73.61h0M96.79 55.41h0M96.13 49.16h0M106.37 55.13h0M103.58 53.92h0M103.92 64.11h0M97.8 54.68h0M95.96 52.38h0M100.21 66.81h0M99.86 84.41h0M97.67 68.93h0M100.85 69.08h0M100.64 49.23h0" stroke="#8c0000" stroke-width="1.6" stroke-linecap="round" fill="none"/>
<path d="M33.2 138.7L18.9 77.5M20.89 80.32L18.9 77.5L18.36 80.91" stroke="#444" stroke-width="0.8" fill="none"/>
<text x="20.8" y="111.4" font-size="6" text-anchor="middle" fill="#333" stroke="#333" stroke-width="0.22" style="font-family:'Liberation Sans',Arial,sans-serif" transform="rotate(76.8 20.8 111.4)" dominant-baseline="central">Elevation (m)</text>
<path d="M35.5 143.1L87.1 193M83.9 191.71L87.1 193L85.7 189.84" stroke="#444" stroke-width="0.8" fill="none"/>
<text x="53.5" y="169.7" font-size="6" text-anchor="middle" fill="#333" stroke="#333" stroke-width="0.22" style="font-family:'Liberation Sans',Arial,sans-serif" transform="rotate(45.5 53.5 169.7)" dominant-baseline="central">UTM Easting (m)</text>
<path d="M115.3 199L169.1 145.9M167.74 149.07L169.1 145.9L165.91 147.22" stroke="#444" stroke-width="0.8" fill="none"/>
<text x="148.7" y="173.5" font-size="6" text-anchor="middle" fill="#333" stroke="#333" stroke-width="0.22" style="font-family:'Liberation Sans',Arial,sans-serif" transform="rotate(-44.2 148.7 173.5)" dominant-baseline="central">UTM Northing (m)</text>
<path d="M18.93 297.32L105.94 280.6L105.97 356.18L39.5 391.11Z" fill="#e6e6e6" stroke="none"/>
<path d="M105.94 280.6L193.14 297.21L172.63 390.9L105.97 356.18Z" fill="#e6e6e6" stroke="none"/>
<path d="M39.5 391.11L105.97 356.18L172.63 390.9L106.36 454.56Z" fill="#e6e6e6" stroke="none"/>
<path d="M28.72 295.44L46.54 387.41L113.97 447.26M46.69 291.99L59.74 380.47L127.82 433.95M62.65 288.92L71.78 374.15L140.02 422.23M76.93 286.17L82.8 368.36L150.85 411.82M89.77 283.7L92.93 363.04L160.53 402.52M101.39 281.47L102.26 358.13L169.23 394.16M115.51 282.42L113.74 360.23L46.7 397.94M127.14 284.64L123.02 365.06L55.48 406.28M139.96 287.08L133.05 370.28L65.23 415.53M154.16 289.78L143.94 375.95L76.11 425.85M169.98 292.8L155.79 382.12L88.32 437.44M187.72 296.18L168.75 388.87L102.12 450.54M20.37 303.9L105.94 285.58L191.7 303.78M25.98 329.48L105.95 305.37L186.11 329.32M30.9 351.91L105.96 323.34L181.2 351.73M35.25 371.75L105.97 339.72L176.87 371.55M39.13 389.42L105.97 354.72L173 389.2" fill="none" stroke="#a4a4a4" stroke-width="0.7"/>
<path d="M39.5 391.11L18.93 297.32L105.94 280.6L193.14 297.21L172.63 390.9L106.36 454.56L39.5 391.11L105.97 356.18L172.63 390.9M105.94 280.6L105.97 356.18" fill="none" stroke="#8a8a8a" stroke-width="0.9" stroke-linejoin="round"/>
<path d="M105.94 280.6L105.97 356.18" fill="none" stroke="#7a7a7a" stroke-width="1.4"/>
<path d="M99.7 426.19h0M91.47 397.29h0M92.61 399.04h0M81.96 404.64h0M111.57 414.39h0" stroke="#00008c" stroke-width="1.6" stroke-linecap="round" fill="none"/>
<path d="M94.12 388.07h0M95.71 391.91h0M73.67 399.24h0M103.65 406.22h0M110.67 414.05h0M58.28 386.52h0M102.33 420.21h0M103.15 422.93h0M96.25 418.65h0M119.75 415.6h0M89.3 425.42h0M97.33 374.77h0M123.69 388.7h0M100.75 394.5h0M115.58 424.21h0M81.35 400.76h0M103.85 380.79h0M90.76 392.03h0M114.21 422.42h0M103.85 401.99h0M91.2 402.85h0M104.67 399.23h0M95.43 374.54h0M104.72 397.01h0M74.01 399.7h0M80.01 400.91h0M100.86 392.76h0M98.06 390.41h0M108.33 389.79h0M70.11 386.3h0M86.06 415.89h0M90.68 393.06h0M79.12 387.22h0M92.21 393.62h0M79.78 393.23h0M140.26 387.28h0M82.44 405.67h0M116.64 402.9h0M109.17 399.88h0M58.36 399.6h0M90.11 400.21h0M132.08 395.12h0M155.87 393.87h0M96.03 369.55h0M79.8 413.5h0M123.13 405.87h0M95.61 384.3h0M73.63 408h0M97.36 401.83h0M108.59 384.9h0M90.63 403.2h0M74.59 389.6h0M159.8 388.92h0M61.35 383.78h0M152 400.02h0M113.97 405.3h0M99.62 399.33h0M94.2 384.97h0M79.47 391.22h0M81.98 411.17h0M57.33 399.37h0M113.44 416.22h0M84.76 406.67h0" stroke="#0000a6" stroke-width="1.6" stroke-linecap="round" fill="none"/>
<path d="M76.21 377.66h0M107.42 399.1h0M84.92 399.69h0M66.66 387.62h0M93.99 418.51h0M46.63 362.3h0M95.01 390.1h0M90.69 398.42h0M98.84 392.81h0M111.06 384.09h0M77.59 397.68h0M99.81 391.52h0M66.4 394.79h0M67.58 383.74h0M122.03 387.1h0M97.28 390.15h0M116.21 393.18h0M113.53 404.21h0M139.72 390.76h0M159.64 391.68h0M91.19 423.38h0M82.46 408.3h0M78.55 392.05h0M83.48 407.6h0M90.9 401.48h0M123.2 382.31h0M51.51 399.04h0M123.16 419.68h0M93.54 378.74h0M81.31 395.52h0M77.34 408.45h0M95.14 395.08h0M138.86 392.23h0M62.65 419.55h0M148.08 393.37h0M102.45 388.01h0M82.46 385.06h0M108.67 390.06h0M88.67 384.49h0M97.13 371.57h0M81.25 413.12h0M109.14 409.17h0M116.9 388.35h0M96.48 401.1h0M76.26 406.72h0M132.42 397.68h0M119.18 384.26h0M145.78 385.36h0M101.84 390.28h0M112.96 383.76h0M79.36 379.67h0M94.52 419.85h0M77.97 392.37h0" stroke="#0000bf" stroke-width="1.6" stroke-linecap="round" fill="none"/>
<path d="M127.43 374.44h0M118.85 380.98h0M124.12 421.27h0M148.67 395.67h0M119.59 405.79h0M78.06 382.05h0M89.74 398.06h0M157.16 387.74h0M91.68 383.33h0M91.95 394.36h0M89.01 385.75h0M70.35 393.29h0M100.91 421.19h0M152.58 382.56h0M126.02 407.49h0M72.04 405.3h0M118.35 389.59h0M151.71 402.06h0M113.61 414.93h0M134.63 391.63h0M96.25 387.01h0M47.73 357.48h0M55.93 375.8h0M117.07 406.32h0M145.57 401.78h0M96.67 385.01h0M80.1 393.53h0M141.58 391.66h0M115.14 382.98h0M78.53 403.65h0M56.97 388.78h0M108.69 385.49h0M126.38 404.84h0M147.54 393.58h0M96.66 397.57h0M152.1 402.46h0M96.8 392.24h0M127.64 405.66h0M100.58 420.5h0M81.6 412.41h0M99.76 386.1h0M128.7 402.44h0M92.85 389.66h0M113.34 403.59h0M143.2 404.9h0M78.66 386.56h0M98.19 393.96h0" stroke="#0000d9" stroke-width="1.6" stroke-linecap="round" fill="none"/>
<path d="M80.7 374.11h0M110.99 383.62h0M65.24 368.51h0M148.25 380.24h0M105.79 389.32h0M85.8 379.03h0M150.07 374.04h0M94.63 378.34h0M71.63 376.34h0" stroke="#008cff" stroke-width="1.6" stroke-linecap="round" fill="none"/>
<path d="M73.66 375.98h0M84.61 382.37h0M148.71 379.01h0M92.41 374.56h0M115.08 384.5h0M116.25 383.03h0M81.37 375.58h0M91.55 385.68h0M60.98 376.34h0M85.32 379.07h0M86.3 378.84h0M52.44 376.63h0M119.41 380.04h0" stroke="#00a6ff" stroke-width="1.6" stroke-linecap="round" fill="none"/>
<path d="M62.6 376.95h0M49.96 371.37h0M80.73 383.77h0M50.62 369.77h0M92.22 378.83h0M88.77 370.51h0M87.84 378.16h0M147.38 379.45h0M68.75 366.31h0M62.34 372.16h0M53.7 373.17h0M122.17 372.87h0M53.45 361.2h0M111.82 386.71h0M69.41 375.49h0M70.16 372.05h0M64.66 371.89h0M77.4 372h0M71.05 367.95h0M91.22 386.99h0M98.29 371.33h0M121.04 388.88h0M77.55 375.27h0M86.7 381.45h0M136.61 388.01h0M106.87 375.94h0M147.22 375.81h0M97.27 388.59h0M75.03 368.82h0M71.72 381.3h0M75.52 377.08h0M105.23 376.92h0M134.42 379.37h0M50.89 367.6h0M94.63 380.43h0M97.46 368.32h0M104.81 376.07h0M122.57 374.34h0M65.46 375.78h0M103.09 384.08h0M117.15 378.88h0M63.18 376.65h0M128.85 378.9h0M99.17 380.9h0M65.82 370.85h0M61.26 373.15h0M114.82 367.92h0M70.56 378.64h0M128.63 373.83h0M84.35 380.07h0M80.96 375.21h0M63.22 377.13h0M112.8 383.78h0M128.14 386.3h0M117.6 374.14h0M109.99 368.56h0M93.08 371.39h0" stroke="#00bfff" stroke-width="1.6" stroke-linecap="round" fill="none"/>
<path d="M136.06 373.55h0M71.26 373.71h0M98.92 359.76h0M65.46 374.42h0M110.08 369.63h0M55.61 368.2h0M47.97 363.14h0M79.32 378.34h0M124.25 366.76h0M60.7 375.02h0M147.25 377.82h0M52.65 352.71h0M90.27 370.69h0M98.22 380.16h0M112.01 369.7h0M113.35 389.65h0M121.09 344.65h0M78.4 374.55h0M91.41 376.25h0M76.46 379.51h0M141.12 368.02h0M137.35 368.95h0M160.02 370.07h0M72.28 372.58h0M94.82 369.58h0M112.01 365.41h0M73.66 372.65h0M99.03 366.87h0M91.85 366.29h0M115.53 374.69h0M75.19 373.95h0M64.24 377.61h0M68.5 370.83h0M93.37 369.23h0M80.88 379.99h0M67.41 369.22h0M116.57 379.71h0M134.83 358.6h0M72.97 369.67h0M87.08 380.23h0M61.77 369.37h0M93.37 371.44h0M99.69 375.32h0M86.8 374.64h0M150.54 377.21h0M132.45 365.29h0M54.56 369.12h0M57.39 364.01h0M146.46 379.34h0M113.53 382.69h0M101.38 378.05h0M72.39 368.74h0M146.86 380.66h0M70.66 368.07h0M95.78 370.59h0M149.25 384.75h0M91.52 372.14h0M75.97 378.67h0M122.27 375.91h0M73 378.06h0M95.12 380.46h0M123.94 372.46h0M109.36 368.79h0M92.42 373.79h0M91.69 384.17h0M89.63 366.49h0M87.96 383.36h0M77.22 378.07h0M157.05 379.37h0M101.98 372.95h0M104.76 371.4h0M81.48 377.76h0M113.66 361.25h0" stroke="#00d9ff" stroke-width="1.6" stroke-linecap="round" fill="none"/>
<path d="M118.38 373.3h0M67.86 375.11h0M153.03 373.32h0M94.44 376.37h0M104.97 369.6h0M105.81 377.57h0M144.37 362.12h0M88.54 371.04h0M86.77 374.94h0M54.53 364.33h0M114.42 370.89h0M111.28 366.58h0M47.83 362.85h0M83.78 378.9h0M125.52 370.88h0M85.63 368.1h0M63.39 368.14h0M74.82 367.43h0M50.73 362.55h0M100.46 368.91h0M95.3 381.98h0M90.54 366.14h0M95.14 378h0M72.24 369.77h0M65.43 374.54h0M159.72 368.8h0M80.07 369.71h0M82.54 375.12h0M89.06 384.19h0M148.49 369.83h0M125.1 375.92h0M124.17 371.93h0M109.92 382.16h0M53.15 368.78h0M113.49 381.44h0M92.83 367.04h0M152.09 375.54h0M153.85 366.4h0M128.32 368.32h0M88.35 375.08h0M149.75 375.94h0M53.58 365.97h0M46.81 370.37h0M147.06 371.14h0M97.84 377.09h0M59.51 369.79h0M54.51 369.17h0M64.68 379.41h0M102.03 369.55h0M96.83 371.18h0M105.23 364.4h0M93.53 371.97h0M137.57 367.17h0M103.53 372.41h0M103.21 372.85h0M61.43 369.89h0M122.42 368.73h0M121.81 371.96h0M72.89 372.76h0M97.72 386.04h0M51.65 368.46h0M111.29 377.08h0M101.9 372.07h0M97.9 365.82h0M115.87 362.33h0M118.46 375.2h0M77.79 371.55h0" stroke="#00f2ff" stroke-width="1.6" stroke-linecap="round" fill="none"/>
<path d="M151.37 374.96h0M80.45 366.1h0M94.01 375.51h0M86.38 380.49h0M67.33 371.74h0M95.55 378.25h0M158.92 366.48h0M91.06 382.69h0M127.11 368.83h0M96.51 371.12h0M74.27 377.55h0M70.2 362.32h0M92.6 374.25h0M65.21 367.24h0M76.86 372.24h0M68.85 368.82h0M109.61 372.99h0M163.95 368.69h0M72.48 365.67h0M93.49 360.27h0M152.58 386.22h0M99.09 375.12h0M149.73 364.19h0M68.64 364.58h0M135.8 358.19h0M54.39 361.49h0M147.15 379.63h0M84.38 382.59h0M101.42 370.07h0M133.22 365.84h0M128.87 366.57h0M149.66 375.23h0M58.73 371.73h0M63.88 382.64h0M90.13 376.49h0M112.2 369.94h0M54.68 365.34h0M80.93 372.5h0M94.32 366.83h0M47.47 357.08h0M74.75 374.23h0M99.39 363.14h0M52.08 365.25h0M101.12 367.85h0M102.32 365.21h0M65.61 374.58h0M110.01 371.34h0M74.59 372.03h0M93.26 374.41h0M85.91 376.12h0M98.02 365.56h0M121.92 362.22h0M117.24 357.88h0M122.04 363.83h0M147.62 384.86h0M124.03 368.9h0M120.72 359.12h0M52.28 372.05h0M104.1 366.78h0M75.1 354.81h0M91.32 361.36h0M63.97 376.45h0M69.64 364.86h0M95.41 369.56h0M97.02 369.38h0M86.65 366.71h0M153.22 364.47h0M60.91 373.57h0M62.02 366.2h0M75.1 375.94h0M84.11 362.91h0M61.99 373.69h0M123.54 368.74h0M85.69 378.38h0M95.85 378.4h0M135.46 390.52h0M64.09 356.94h0M105.84 363.48h0M62.99 365.69h0M151.43 375.58h0M85.3 370.47h0M125.36 367.74h0M76.1 374.58h0M82.4 376.33h0M120.58 363.45h0M67.81 369.02h0M97.2 363.4h0M91.09 365.78h0M115.9 369.12h0M70.09 382.97h0M124.39 351.94h0M61.52 368h0M62.01 367.28h0" stroke="#0dfff2" stroke-width="1.6" stroke-linecap="round" fill="none"/>
<path d="M58.12 363.34h0M124.03 363.23h0M85.17 355.55h0M127.27 361.04h0M103.13 358.08h0M132.27 351.69h0M116.71 367.85h0M92.24 360.54h0M69.74 363.55h0M73.64 374.76h0M62.52 371.19h0M127.68 370.33h0M133.03 364.65h0M60.32 360.13h0M125.87 367.18h0M55.82 357.92h0M101.95 364.22h0M69.16 358.82h0M91.22 350.89h0M120.02 354.42h0M73.1 364.14h0M66.17 347.32h0M102.67 369.75h0M94.67 363.25h0M66.66 362.38h0M85.42 362.51h0M122.34 364.44h0M68.44 369.36h0M76.65 378.86h0M91.56 362.51h0M90.78 374.79h0M76.03 366.1h0M66.95 361.65h0M150.45 362.2h0M64.49 360.75h0M59.12 366.43h0M59.01 361.39h0M145.6 354.11h0M103.81 365.64h0M119.64 369.67h0M71.84 368.84h0M112.72 360.81h0M131.74 369.03h0M111.05 373.1h0M128.75 362.18h0M151.84 375.33h0M71.01 369.15h0M119.8 370.41h0M156.66 376.31h0M125.19 362.12h0M126.16 357.6h0M105.98 365.12h0M126.83 363.31h0M122.97 357.3h0M104.82 369.27h0M77.26 369.34h0M73.02 360.86h0M104.34 363.57h0M99.69 359.71h0M65.54 361.68h0M90.78 356.99h0M94.41 362.81h0M97.77 358.85h0M98.16 362.89h0M118.26 379.33h0M51.02 365.28h0M86.77 364.36h0M62.59 362.48h0M72.89 370.41h0M57.01 357.2h0M49.58 363.75h0M61.38 379.49h0M101.09 366.87h0M134.76 364.79h0M60.61 362.63h0M69 365.99h0M112.6 353.87h0M81.76 380.08h0M156.63 370.89h0M57.23 374.22h0M74.71 368.69h0M58.15 368.3h0" stroke="#26ffd9" stroke-width="1.6" stroke-linecap="round" fill="none"/>
<path d="M94.38 364.93h0M150.42 354.7h0M63.17 359.16h0M51.54 356.38h0M135.96 360.83h0M53.61 357.74h0M88.6 362.01h0M64.56 370.42h0M156.07 371.91h0M104.68 366.87h0M123.74 359.14h0M57.75 369.28h0M53.24 364.9h0M90.46 363.21h0M107.62 361.9h0M105.22 360.23h0M66.58 363.18h0M133.27 360.67h0M113.93 365.47h0M134.2 358.4h0M56.8 361h0M63.9 357.83h0M71.13 364.79h0M68.77 361.24h0M97.14 363.35h0M94.47 380.47h0M107.79 365.99h0M99.52 365.63h0M60.24 356.34h0M80.3 358.33h0M53.79 364.25h0M86.66 363.41h0M96.28 364.24h0M52.04 360.2h0M125.98 359.27h0M87.58 366.96h0M95.02 364.86h0M104.74 363.06h0M71 363.88h0M52.85 354.13h0M125.08 372.12h0M161.19 369.67h0M155.92 363.08h0M56.67 372.11h0M160.14 364.65h0M110.95 363.3h0M122.75 355.42h0M116.13 360.17h0M83.36 369.35h0M49.42 356.45h0M124.33 358.87h0M121.33 382.73h0M148.26 365.02h0M84.4 361.14h0M78.3 355h0M96.58 358.71h0M49.91 353.48h0M56.63 363.62h0M89.83 364.11h0M57.42 354.73h0M119.89 366.42h0" stroke="#40ffbf" stroke-width="1.6" stroke-linecap="round" fill="none"/>
<path d="M129.08 366.99h0M103.67 360.02h0M105.33 353.57h0M108.77 362.27h0M86.91 361.72h0M111.33 380.7h0M49.21 351.75h0M100.37 364.18h0M50.12 362.78h0M57.22 369.69h0M60.44 370.1h0M133.99 372.74h0M67.21 364.06h0M74.53 362.43h0M88.08 357.39h0M118.1 358.26h0M98.87 357.22h0M73.38 366.51h0M79.34 365.2h0M50.43 362.43h0M93.49 358.43h0M160.93 373.7h0M49.91 355.38h0M133.41 369.29h0M104.25 368.31h0M87.81 360.45h0M87.56 357.8h0M83.66 356.14h0M66.16 356h0M155.35 366.76h0M80.81 360.02h0M53.8 360.27h0M72.73 358.01h0M102.52 366.62h0M63.13 352.99h0M162.3 370.54h0M93.18 361.99h0M128.5 359.1h0M123.71 358.18h0M81.58 362.23h0M63.49 371.71h0M157.08 370.75h0M88.52 361.28h0M67.31 370.69h0M116.82 363.67h0M157.62 358.21h0M98.7 377.05h0M58.36 354.87h0M104.09 347.92h0M157.79 363.37h0M154.58 366.23h0M158.94 369.15h0M86.59 362.14h0M134.58 361.22h0M101 352.9h0M157.09 375.8h0M55.84 367.92h0M87.81 360.1h0M111.45 352.94h0M93.01 362.85h0M68.07 359.76h0M108.76 360.41h0M101.02 298.87h0M99.72 346.63h0M164.31 365.93h0M61.64 363.4h0M66.55 358.53h0M87.53 362.78h0M115.88 360.55h0M110.39 364.36h0" stroke="#59ffa6" stroke-width="1.6" stroke-linecap="round" fill="none"/>
<path d="M79.2 359.9h0M67.88 360.85h0M49.26 347.35h0M65.67 366.71h0M151.49 360.62h0M64.7 362.08h0M115.68 358.89h0M152.29 367.82h0M61.2 363.17h0M66.98 361.98h0M123.42 357.38h0M118.09 355.5h0M133.17 355.76h0M51.67 363.21h0M86.26 353.69h0M116.14 360.8h0M80.95 352.71h0M89.78 360.22h0M70.9 364.11h0M105.82 355.25h0M102.72 355.53h0M102.38 362.88h0M125.98 359.17h0M107.13 362.48h0M89.24 358.33h0M68.98 358.26h0M55.19 357.65h0M93.36 350.11h0M78.38 357.57h0M69.76 344.04h0M66.65 352.24h0M147.97 358.21h0M59.8 355.65h0M123.09 359.77h0M79.52 369.3h0M146.44 359.01h0M156.4 363h0M119.7 362.29h0M121.83 364.79h0M113.83 363.03h0M69.3 357.26h0M86.69 355.31h0M126.64 360.13h0M88.76 357.59h0M55.02 360.6h0M89.4 360.58h0M146.6 356.43h0M160.29 370.27h0M110.93 364.29h0M63.59 358.21h0M75.76 352.33h0M60.05 361.21h0M158.15 375.88h0M142.2 360.07h0M62.78 361.01h0M152.22 352.54h0M157.44 362.29h0M105 350.72h0M146.08 352.21h0M134.09 357.14h0M94.55 359.58h0M73.37 349.81h0M55.58 362.26h0M86.54 353.02h0M135.31 365.08h0M131.31 364.6h0M91.58 354.04h0M132.93 354.22h0M128.9 353.44h0" stroke="#73ff8c" stroke-width="1.6" stroke-linecap="round" fill="none"/>
<path d="M117.61 360.47h0M99.32 355.61h0M76.64 349.26h0M80.76 351.64h0M120.73 364.43h0M55.71 355.33h0M105.68 349.46h0M45.8 346.99h0M123.84 356.37h0M60.61 353.22h0M118.35 355.39h0M75.75 356.7h0M134.53 361.03h0M160.98 355.32h0M116.68 353.45h0M61.65 359.34h0M84.48 357.55h0M144.26 357.49h0M122.96 358.19h0M50.69 353.14h0M72.96 350.74h0M66.07 360.58h0M55.11 337.87h0M146.33 355.91h0M113.2 356.19h0M118.79 357.19h0M113.56 359.76h0M125.54 351.04h0M74.14 349.21h0M110.5 360.18h0M132.5 354.53h0M118.09 344.95h0M59.18 355.5h0M46.98 352.98h0M122.61 353.44h0M125.22 364.89h0M89.33 358.9h0M51.18 353.24h0M67.78 353.85h0M56.52 352.32h0M74.65 364.62h0M72.51 362.42h0M85.07 355.7h0M87.81 361.13h0M97.81 356.31h0M104.54 351.92h0M91.88 348.08h0M87.54 354.72h0M56.31 353.25h0M59.93 357.2h0M101.61 359h0M121.08 364.69h0M133.38 360.35h0M67.17 359.85h0M79.73 361.79h0M147.7 353.23h0M112.23 351.1h0M92.29 355.32h0M53.52 347.37h0M82.29 344.22h0M106.76 351.01h0M61.94 354.22h0M59.29 357.69h0M120.7 347.43h0M58.69 353.85h0M99.14 356.67h0M103.47 346.38h0M62.64 349.14h0M104.97 361.02h0M132.28 361.28h0M65.29 353.59h0" stroke="#8cff73" stroke-width="1.6" stroke-linecap="round" fill="none"/>
<path d="M58.92 357.18h0M60.24 343.89h0M127.61 368.74h0M131.54 354.05h0M144.23 357.68h0M57.52 359.23h0M100.14 355.81h0M124.37 362.51h0M69.21 348.3h0M78.61 348.04h0M134.56 361.91h0M144.27 360.9h0M152.37 359.52h0M92.3 349.72h0M57.46 338.06h0M136.05 356.05h0M127.09 356.82h0M135.7 351.85h0M64.45 348.24h0M160.26 354.03h0M132.97 348.97h0M79.18 351.48h0M120.15 346.81h0M64.12 353.14h0M91.69 346.6h0M127.27 362.41h0M142.59 349.13h0M132.11 347.46h0M89.35 348.07h0M103.25 353.28h0M102.06 354.02h0M122.03 353.73h0M146.91 354.2h0M152.48 354.67h0M165.35 355.08h0M114.43 362.33h0M68.9 350.64h0M56.55 356.39h0M64.36 351.51h0M105.94 350.91h0M83.32 347.6h0M151.51 351.85h0M52.28 349.23h0M114.15 362.19h0M150.09 356.73h0M80.7 351.18h0M127.2 318.25h0M82.08 354.77h0M122.18 354.15h0M84.03 357.53h0M107.6 349.17h0M121.99 350.84h0M137.23 359.19h0M97.44 347.93h0M145.96 355.78h0M124.13 346.86h0M99.67 353.49h0M65.46 354.18h0M124.45 360.13h0M55.04 317.64h0M155.21 361.61h0M130.18 351.07h0M157.67 355.64h0M91.83 353.51h0M138.23 353.62h0M111.31 341.15h0M127.25 351.28h0M55.51 356.35h0M116.09 358.54h0M63.18 351.84h0M161.49 358.28h0M103.24 345.34h0M69.29 352.26h0M84.59 346.21h0M58.69 351.61h0M106.39 351.51h0M122.32 353.14h0M153.59 350.77h0M62.57 350.2h0M52.65 347.04h0M61.12 354.54h0M100.28 350.04h0M80.44 354.81h0M77.59 344.42h0M119.92 359.66h0M89.09 357.74h0M62.32 351.14h0M52.65 328.93h0M103.35 363.39h0M56.16 365.33h0M78.06 351.73h0M77.26 348.48h0M86.85 345.04h0M93.2 354.07h0" stroke="#a6ff59" stroke-width="1.6" stroke-linecap="round" fill="none"/>
<path d="M57.93 367.89h0M151.51 350.45h0M104.16 344.18h0M60.63 345.02h0M122.64 355.55h0M54.87 338.78h0M86.48 349.09h0M128.31 366.23h0M132.04 314.79h0M85.01 348.35h0M51.66 348.07h0M62.5 344.5h0M51.49 325.45h0M101.33 353.05h0M151.42 329.82h0M133.37 353.59h0M89.02 351.46h0M63.04 347.48h0M107.7 345.54h0M107.6 341.43h0M78.3 349.19h0M73.31 360.92h0M46.16 347.5h0M95.02 349.84h0M52.57 353.24h0M111.03 351.81h0M71.32 345.73h0M68.05 352.59h0M63.31 360.57h0M102.2 361.38h0M93.04 350.96h0M98.5 347.18h0M60.33 346.23h0M61.54 354.67h0M154.96 363.51h0M104.09 352.49h0M87.49 356.82h0M123.47 351.2h0M82.04 338.1h0M58.4 352.3h0M106.4 347.97h0M46.42 351.36h0M78.32 349.96h0M81.25 349.61h0M133.16 355.38h0M60.41 351.05h0M80.08 345.81h0M145.22 352.99h0M87.07 349.05h0M149.4 357.17h0M104.44 348.8h0M85.5 354.95h0M105.84 356.75h0M69.72 347.59h0M128.09 349.59h0M107.46 361.78h0M59.61 353.98h0M50.9 351.2h0M88.82 349.47h0M82.44 356.29h0M153.87 352.03h0M103.67 342.78h0M148.44 355.71h0M84.61 351.79h0M56.53 346.54h0M129.2 338.67h0M50.37 351.77h0M49.31 344.02h0M147.76 350.41h0M98.15 336.6h0M64.25 353.88h0M150.39 354.04h0M148.5 355.65h0" stroke="#bfff40" stroke-width="1.6" stroke-linecap="round" fill="none"/>
<path d="M152.54 347.89h0M148.31 357.59h0M53.92 346.69h0M50.24 356.48h0M56.97 341.46h0M74.57 363.68h0M101.94 352.93h0M162.87 353.26h0M124.88 347.89h0M70.27 351.75h0M89.5 353.59h0M103.68 347.37h0M119.57 348.45h0M84.69 335.73h0M80.57 343.65h0M47.08 349.19h0M50.39 351.24h0M152.78 320.99h0M135.5 358.1h0M65.28 344.68h0M93.99 349.19h0M85.51 342.52h0M121.03 340.93h0M109.07 346.2h0M111.64 325.41h0M147.73 351.31h0M62.11 346.43h0M87.73 345.36h0M73.11 348.45h0M86.24 347.04h0M96.72 355.32h0M131 346.19h0M86.16 351.93h0M53.93 333.87h0M90.71 337.48h0M67.99 349.46h0M111.09 347.14h0M60.5 349.65h0M114.66 347.14h0M124.41 353.87h0M81.79 335.88h0M142.45 351.62h0M77.05 344.33h0M57.01 350.5h0M98.79 345.56h0M56.72 352.68h0M103.05 358.11h0M63.81 352.77h0M72.83 343.41h0M74.94 335.98h0M122.43 348.47h0M153.46 348.31h0M50.69 349.42h0M146.79 353.87h0M139.75 354.89h0M108.1 347.96h0M147.63 353.24h0M144.15 350.61h0M134.37 368.23h0M130.59 362.31h0M114.68 351.82h0M85.21 344.76h0M107.11 345.11h0M115.65 355.95h0M100.56 331.94h0M54.54 353.49h0M50.03 346.44h0M97.4 343.71h0M145.28 353.92h0M53.59 334.05h0M80.49 348.03h0M57.72 349.41h0M45.71 352.87h0M83.41 348.89h0" stroke="#d9ff26" stroke-width="1.6" stroke-linecap="round" fill="none"/>
<path d="M105.51 339.55h0M97.82 341.38h0M146.8 353.34h0M47.73 351.78h0M152.2 342.92h0M142.54 351.98h0M57.21 339.59h0M80.59 344.98h0M77.6 349.43h0M123.69 351.96h0M135.15 354.08h0M75.75 337.97h0M56.2 326.08h0M66.72 334.25h0M82.31 355.39h0M91.69 339.49h0M130.33 336.43h0M58.25 343.78h0M95.95 348.06h0M47.71 333.44h0M80.45 343.61h0M129.23 316.75h0M133.25 352.85h0M84.72 341.55h0M71.03 338.3h0M109.61 340.69h0M119.6 342.59h0M105.67 347.84h0M122.88 326.51h0M102.29 339.99h0M92.03 341.73h0M102.37 347.38h0M84.24 348.7h0M98.66 345.4h0M78.34 350.12h0M129.94 311.14h0M135.15 327.15h0M81.91 334.21h0M61.41 348.43h0M90.01 341.44h0M126.37 312.65h0M84.89 346.84h0M150.04 319.41h0M149.74 357.58h0M125.49 331.82h0M66.82 346.24h0M90.43 345.38h0M106.06 340.52h0M88.42 347.55h0M151.3 312.05h0M55.97 349.36h0M150.81 344.08h0M52.36 346.61h0M154.13 335.74h0M54 333.52h0M115.65 326.75h0M114.52 344.15h0M45.85 346.93h0M47.12 345.83h0M101.05 328.18h0M61.6 340.25h0M101.84 350.88h0M80.14 343.59h0M62.32 352.35h0M152.66 351.91h0M107.03 315.58h0M117.71 340.86h0M102.44 335.65h0M98.52 349.67h0M124.36 340.06h0M118.56 352.12h0M79 352.48h0M112.38 343.16h0M71.89 342.78h0M80.98 345.57h0M70 343.35h0M103.95 334.33h0M61.96 347.31h0M104.11 364.38h0M96.33 344.16h0M71.23 345.47h0M92.39 361.2h0M94.44 349.09h0M112.96 346.49h0M47.28 338.72h0M90.57 348.1h0M153.41 353.78h0M122.87 360.46h0M61.82 343.51h0" stroke="#f2ff0d" stroke-width="1.6" stroke-linecap="round" fill="none"/>
<path d="M156.16 318.57h0M128.04 345.69h0M57.33 345.4h0M118.05 331.39h0M64.23 352.37h0M61.56 355.65h0M81.56 339.35h0M78.42 335.69h0M126.34 352.66h0M114.73 341.31h0M69.22 336.65h0M141.61 340.89h0M164.57 353.79h0M46.34 343.99h0M53.83 316.07h0M100.4 348.98h0M137.85 318.14h0M121.57 345.81h0M126.79 349.33h0M147.59 337.43h0M149.21 336.27h0M122.9 328.58h0M112.92 343.79h0M152.19 351.3h0M57.95 345.98h0M149.39 351.86h0M145.78 354.75h0M88.43 318.97h0M55.59 345.28h0M143.4 319.53h0M158.19 346.39h0M116.18 345.02h0M89.05 345.03h0M156.27 337.69h0M69.31 346.28h0M111.48 347.17h0M101.97 329.86h0M130.97 343.68h0M60.9 327.39h0M78.05 345.67h0M138.06 329.6h0M65.09 341.45h0M60.34 354.03h0M135.89 326.69h0M53.53 344.57h0M98.85 317.3h0M165.86 349.94h0M81.74 310.72h0M105.4 342.67h0M63.2 338.58h0M106.09 339.48h0M110.22 344.81h0M95.23 339.45h0M56.28 332.25h0M85.7 334.98h0M53.27 345.99h0M103.21 338.92h0M49.92 345.4h0M131.95 308.69h0M86.55 320.33h0M97.27 330.9h0M122.83 342.98h0M88.26 349.27h0M71.26 321.38h0M149.37 317.6h0M92.82 318.8h0M120.76 353.46h0M92.5 346.11h0M87.85 343.25h0M45.44 337.24h0M151.5 346.89h0M93.82 334.18h0M63.23 348.69h0M152.87 332.7h0M70.71 315.17h0M152.17 346.3h0M50.04 338.58h0M116.17 342.38h0M84.28 346.61h0M76.82 346.31h0M132.71 342.43h0M129.72 346.83h0M129.88 348.74h0M97.4 333.29h0M128.44 347.6h0M54.31 346.23h0M98.24 340.86h0M106.25 342.74h0M51.04 346.69h0M108.8 348.88h0M150.39 348.48h0M137.3 328h0M91.37 348.67h0M112.52 328.64h0M58.54 315.11h0M62.38 318.86h0M86.59 345.5h0M128.43 338.98h0M128.54 314.79h0M50.68 344.01h0M69.98 345.95h0M126.14 344.96h0M105.93 335.55h0M95.69 350.22h0M60.4 317.21h0M136 322.7h0M125.46 344.44h0M136.03 353.68h0" stroke="#fff200" stroke-width="1.6" stroke-linecap="round" fill="none"/>
<path d="M109.79 338.42h0M132.24 318.42h0M151.24 319.36h0M65.41 342.65h0M122.29 339.99h0M156.53 351.71h0M88.44 345.15h0M116.05 336.46h0M95.15 329.94h0M127.23 333.04h0M55.02 348.28h0M74.02 344.16h0M107.09 311.51h0M55.54 338.46h0M82.14 340.69h0M151.57 352.21h0M126.77 330.18h0M107.51 340.74h0M57.2 348.92h0M140.18 330.9h0M153.97 345.12h0M131.86 334.98h0M142.61 349.06h0M138.9 353.3h0M67.46 339.62h0M46.81 335.84h0M84.28 344.08h0M92.48 344.7h0M126.63 333.85h0M120.24 331.78h0M71.44 321.6h0M117.51 334.69h0M129.57 342.87h0M54.43 336.76h0M72.22 328.71h0M86.43 341.35h0M99.1 325.8h0M96.52 345.84h0M64.47 321.93h0M108.42 329.49h0M118.18 346.3h0M123.13 330.17h0M152.5 339.2h0M148.89 347.29h0M46.19 342.99h0M81.31 339.87h0M146.34 315.7h0M51.69 340.89h0M53.34 337.54h0M87.82 343.95h0M119.65 342.98h0M58.5 334.58h0M125.19 336.33h0M129.62 333.7h0M101.46 338.96h0M136.33 349.47h0M87.49 341.78h0M94.7 343.47h0M70.84 316.47h0M96.6 340.92h0M119.84 342.06h0M100.01 333.34h0M141.08 331.47h0M105.51 320.24h0M75.73 315.11h0M79.68 338.84h0M57.1 343.7h0M67.1 344.39h0M112.91 338.75h0M146 349.39h0M83.39 343.29h0M132.28 324.64h0M61.51 324.37h0M91.99 343.38h0M125.7 340.99h0M154.78 347.97h0M149.51 333.66h0M86.76 340.09h0M105.93 348.95h0M56.91 338.34h0M141.45 337.84h0M90.06 348.89h0M50.64 331.16h0M100.05 335.2h0M56.8 339.31h0M154.69 345.44h0M90.13 327.5h0M129.16 323.63h0M144.59 321.17h0M69.64 348.76h0M144.89 332.62h0M101.81 341.35h0M80.9 343.99h0M94.6 347.17h0M77 336.39h0M98.17 332.38h0M48.86 335.42h0M110.29 339.96h0M103.97 330.75h0M83.28 320.78h0M120.79 345.03h0M68.97 316.97h0M116.55 336.57h0M123.34 323.59h0M127.73 348.08h0M102.22 303.96h0M90.97 346.91h0M116.61 315.49h0" stroke="#ffd900" stroke-width="1.6" stroke-linecap="round" fill="none"/>
<path d="M69.36 322.24h0M141.15 327.42h0M135.89 324.09h0M68.27 320.3h0M56.9 349.45h0M125.05 335.4h0M158.52 320.34h0M150.52 331.8h0M104.83 331.29h0M112.56 328.04h0M145.55 355.99h0M110.75 334.75h0M80.13 340.2h0M74.13 336.6h0M83.96 335.14h0M154.53 330.77h0M114.74 334.03h0M92.68 332.3h0M150.2 323.16h0M152.08 342.53h0M90.82 326h0M118.57 338.23h0M46.75 321.83h0M109.76 339.11h0M157.01 338.95h0M129.84 329.78h0M124.53 323.95h0M120.65 324.39h0M122.11 345.51h0M82.09 339.8h0M74.08 334.29h0M58.04 330.59h0M101.95 343.48h0M88.76 333.97h0M99.68 332.6h0M70.4 336.17h0M53.17 335.79h0M73.83 331.19h0M100.98 313.52h0M138.68 339.88h0M124.85 327.98h0M114.09 323.44h0M90.12 334.7h0M63.31 318.88h0M130.7 317.86h0M99.85 345.54h0M129.09 314.19h0M122.37 335.61h0M50.78 329.22h0M119.48 345.13h0M70.11 341.86h0M145.57 320.51h0M88.22 323.34h0M144.74 331.78h0M155.67 325.49h0M107.21 336.28h0M84.8 322.64h0M115.96 316.19h0M79.62 344.93h0M121.38 339.11h0M132.24 335.97h0M57.03 325.36h0M113.43 338.86h0M133.99 320.77h0M96.03 334.27h0M158.21 347.08h0M48.37 345.09h0M52.82 322.07h0M49.74 342.37h0M143.13 327.52h0M144.54 334.52h0M136.61 328.66h0M116.52 331.11h0M71.14 319.72h0M61.15 337.28h0M116.09 343.83h0M132.29 319.76h0M98.08 336.02h0M137.04 336.43h0M142.48 320.8h0M74 336.73h0M135.9 318.43h0M103.64 314.8h0M47.23 335.15h0M85.02 344.09h0M47.35 322.64h0M136.81 326.43h0M55.79 326h0M100.27 334.07h0M98.43 336.76h0M113.41 343.73h0M129.5 334.75h0M132.59 345.03h0M133.75 338.47h0M148.89 324.72h0M79.61 334.67h0M95.43 338.65h0M106.73 311.8h0M95.21 340.11h0M154.75 325.36h0M90.37 336h0M124.07 342.74h0M126.79 322.91h0M76.17 341.94h0M130.68 339.43h0M127.48 319.61h0M74.58 333.8h0M85.81 334.01h0M94.63 339.2h0M134.85 318.67h0M137.27 317.05h0M138.93 333.55h0M55.28 336.84h0M47.19 337.92h0M115.91 336.38h0M80.62 344.96h0M111.72 339.74h0M80.24 334.42h0M126.8 332.96h0M114.75 331.17h0M81.56 340.84h0M99.57 320.52h0M118.64 334.91h0M93.1 342.49h0M126.28 343.87h0M133.6 335.09h0M57.36 329.36h0M67.75 341.22h0M152.87 328.88h0M106.83 319.09h0M109.14 313.68h0M85.49 327.96h0M86.51 342.68h0M126.08 306.14h0M119.68 337.11h0M53.12 336.56h0M78.01 329.49h0M90.93 335.76h0M87.68 312.25h0M140.15 317.57h0M86.46 339.91h0M142.08 352.52h0M68.09 341.54h0" stroke="#ffbf00" stroke-width="1.6" stroke-linecap="round" fill="none"/>
<path d="M159.54 306.51h0M125.06 335.18h0M112.55 342.26h0M53.62 321.75h0M73.57 336.26h0M61.36 328.07h0M150.59 341.17h0M57.89 329.94h0M84.76 332.57h0M117.82 304.46h0M137.39 324h0M50.78 338.48h0M108.57 339.43h0M59.79 319.24h0M91.12 346.98h0M104.54 324.42h0M105.03 337.82h0M55.18 324.02h0M50.68 336.27h0M93.86 326.62h0M106.13 313.91h0M158.96 323.67h0M159.19 329.79h0M54.33 325.77h0M76.91 335.9h0M86.27 313.91h0M145.82 319.89h0M86 329.82h0M102.02 324.43h0M158.2 321.06h0M97.48 316.64h0M49.76 340.59h0M108.17 340.07h0M99.29 334.06h0M150.17 326.24h0M152.09 327.22h0M115.58 341.1h0M109.12 348.12h0M161.4 342.56h0M131.86 323.79h0M94.02 334.13h0M57.13 325.89h0M103.37 307.18h0M86.8 325.85h0M129.56 327.69h0M58.65 323.94h0M136.04 326.12h0M107.64 325.58h0M133.46 323.43h0M104.87 312.55h0M92.25 340.86h0M61.41 332.46h0M122.72 342.91h0M148.53 330.35h0M122.99 309.01h0M62.21 340.03h0M70.67 324.5h0M146.66 323.68h0M47.89 327.64h0M49.37 328.04h0M129.56 311.62h0M112.33 339.09h0M53.7 323.26h0M133.29 337.39h0M82.8 328.91h0M70.6 313.93h0M126.59 324.58h0M89.25 327.13h0M93.72 336.72h0M137.83 308.35h0M88.96 312.71h0M61.9 319.23h0M128.44 314.71h0M100.79 326.86h0M109.26 324.3h0M139.53 311.47h0M53.83 322.07h0M118.18 346.9h0M70.01 327.96h0M80.91 320.28h0M127.19 330.94h0M72.38 313.17h0M49.41 336.06h0M116.33 334.78h0M121.25 339.03h0M118.19 333.9h0M57.62 319.1h0M66.26 320.62h0M128.33 337.4h0M77.84 342.1h0M133.67 337.94h0M79.36 319.93h0M96.74 305.71h0M121.06 336.06h0M65.95 339.08h0M49.05 332.78h0M102.79 313.93h0M124.71 334.23h0M111.16 333.1h0M134.58 334.69h0M132.45 332.72h0M114.06 350.15h0M139.03 306.53h0M52.33 319.92h0M80.62 335.14h0M131.33 337.74h0M72.17 337.15h0M65.52 328.32h0M160.81 316.9h0M155.82 321.56h0M71.01 336.23h0M105.9 317.86h0M148.91 316.53h0M120.63 326.77h0M156.59 323.78h0M76.82 338.79h0M50.74 327.75h0M130.31 340h0M121.39 337.59h0M147.54 319.93h0M102.8 332.53h0M111.45 325.17h0M143.7 323.69h0M52.17 323.97h0M102.37 325.43h0M95.86 325.38h0M122.93 326.36h0M83.16 331.97h0M109.07 337.28h0M127.44 320.3h0M65.63 339.43h0M103.61 322.58h0M120.63 307.02h0M107.87 302.18h0M107.22 328.97h0M152.99 337.59h0M50.02 329.43h0M77.37 316.88h0M51.99 339.8h0M95.48 340.81h0M113.43 327.04h0M115.49 344.1h0M122.6 322.76h0M97 315.76h0M128.67 332.22h0M93.83 319.89h0M151.26 346.81h0M126.65 318.46h0M146.21 321.35h0M69.96 324.12h0M71.15 316h0M105.81 301.19h0M126 313.54h0M52.09 334.17h0M72.82 340.21h0M117.11 330.33h0M123.91 341.55h0M53.77 326.97h0M111.37 327.87h0M134.68 331.96h0M90.91 337.53h0M153.57 322.42h0M50.13 322.06h0M132.41 327.05h0M103.29 319.08h0M105.83 302.01h0M156.28 316.68h0M53.65 329.63h0M137.3 336.59h0M108.99 344.81h0M102.04 320.26h0M117.91 328.48h0M152.48 320.53h0M104.08 312.33h0M61.51 326.49h0M86.25 319.97h0M81.79 339.19h0" stroke="#ffa600" stroke-width="1.6" stroke-linecap="round" fill="none"/>
<path d="M87.34 331.66h0M71.55 342.39h0M152.21 322.39h0M160.14 320.31h0M119.97 324.75h0M100.03 333.86h0M103.64 316.13h0M148.56 343.35h0M104.59 323.81h0M128.13 333.75h0M75.75 315.58h0M128.98 319.88h0M158.07 314.86h0M63.44 320.04h0M124.57 318.51h0M78.28 335.94h0M132.78 336.9h0M77.31 317.43h0M128.77 334.35h0M134.8 333.09h0M137.67 308.4h0M129.44 315.35h0M54.32 331.15h0M157.89 320.07h0M67.52 323.66h0M106.6 300.59h0M144.16 321.96h0M123.81 334.7h0M69.12 324.87h0M127.57 332.43h0M50.59 338.06h0M49.14 334.41h0M120.38 323.91h0M48.83 332.72h0M63.81 315.83h0M157.23 302.92h0M161.42 343.29h0M125.7 307.33h0M57.28 335.81h0M126.47 340.31h0M101.86 337.03h0M148.61 319.27h0M88.18 321.3h0M65.54 313.36h0M70.93 315.18h0M73.34 311.92h0M96.21 339.81h0M109.37 323.45h0M60.31 334.32h0M68.6 341.5h0M140.14 317.22h0M46.63 333.65h0M100.79 309.86h0M97.02 309.45h0M141.83 317.49h0M106.49 301.03h0M66.44 321.92h0M149.24 334.39h0M128.37 305.7h0M127.04 327.44h0M129 333.73h0M128.42 319.2h0M93.3 336.51h0M122.82 312.63h0M84.33 324.68h0M113.4 318.05h0M133.2 330.25h0M131.42 307.1h0M61.18 337.79h0M66.02 317.46h0M69.47 315.52h0M72.01 318.46h0M91.17 335.73h0M133.12 315.93h0M112.86 327.95h0M142.21 325.22h0M102.21 304.34h0M155.21 334.3h0M157.74 319.59h0M148.36 324.15h0M144.61 334.92h0M69.82 323.54h0M102.28 325.38h0M127.82 325.87h0M157.77 319.72h0M69.51 323.96h0M151.11 333.03h0M52.29 340.71h0M73.8 319.2h0M156.91 305.73h0M137.44 317.96h0M86.18 333.56h0M55.31 331.3h0M93.45 327.97h0M103.93 327.98h0M77.64 322.09h0M73.04 326.3h0M70.37 330.49h0M77.28 341.99h0M117.32 316.04h0M53.19 321.06h0M156.1 314.47h0M151.27 318.02h0M72.98 320.47h0M101.24 304.61h0M143.78 325.73h0M79.34 337.73h0M136.6 310.22h0M48.9 343.66h0M153.3 346.12h0M142.46 324.26h0M136.44 325.79h0M127.86 317.85h0M154.6 333.32h0M145.82 321.95h0M124.37 334.12h0M131.7 357h0M102.03 304.87h0M164.63 328.87h0M54.22 322.33h0M66.73 335.32h0M56.38 315.07h0M60.95 340.55h0M66.25 342.85h0M60.38 321.8h0M49.81 338.89h0M151.37 321.38h0M47.25 333.79h0M87.21 324.42h0M152.1 338.05h0M61.77 328.77h0M121.9 336.88h0M135.2 315.79h0M90.49 333.96h0M121.85 331.4h0M149.73 335.4h0M125.81 334.89h0M152.99 316.95h0M158.33 339.15h0M120.87 321.52h0M53.08 316.74h0M149.32 322.71h0M120.31 323.94h0M81.36 330.39h0M117.14 338.59h0M121.71 333.18h0M83.19 344.96h0M57.36 342.56h0M138.41 322.1h0" stroke="#ff8c00" stroke-width="1.6" stroke-linecap="round" fill="none"/>
<path d="M138.84 320.61h0M45.86 335.65h0M103.75 336.48h0M68.8 320.24h0M55.25 317.06h0M125.61 331.76h0M164.6 312.5h0M146.93 334.4h0M76.26 335.32h0M96.13 319.33h0M50.35 330.71h0M131.49 316.76h0M141.35 325.54h0M47.91 323.91h0M117.74 332.37h0M59.03 322.49h0M102.25 326.84h0M157.67 329.84h0M126.53 320.4h0M133.58 333.8h0M103.37 305.61h0M150 349.17h0M124.26 303.31h0M80.31 320.7h0M55.02 346.11h0M143.19 319.22h0M123.42 328.51h0M70.59 339.13h0M115.62 338.78h0M80.36 336.19h0M130.26 317.13h0M76.44 330.16h0M158.34 300.81h0M120.52 334.25h0M76.8 316.09h0M157.95 317.28h0M145.2 337.09h0M159.49 316.74h0M72.86 328.88h0M135.03 321.32h0M104.18 299.88h0M130.13 329.61h0M106.51 317.74h0M131.05 335.65h0M110.56 326.77h0M161.93 336.04h0M98.59 305.71h0M71.14 319.32h0M50.34 329.89h0M96.68 301.1h0M149.53 327.18h0M48.31 332.92h0M111.94 318.5h0M109.38 300.61h0M153.18 306.49h0M148.34 347.1h0M93.76 339.78h0M77.22 328.4h0M97.2 326.1h0M82.4 321.62h0M138.52 322.13h0M84.37 338.36h0M114.78 319.78h0M130.21 331.45h0M123.97 319.4h0M103.14 329.63h0M108.1 337.04h0M153.27 314.07h0M144.75 332.67h0M62.55 322.42h0M138.24 335.33h0M55.86 325.04h0M99.25 314.36h0M152.08 323.21h0M106.22 318.62h0M96.08 320.26h0M129.32 301.84h0M157.78 349.69h0M109.32 343.69h0M61.5 325.49h0M129.76 305.98h0M48.51 335.92h0M85.63 339.33h0M133.96 323.16h0M129.43 317.2h0M134.54 320.61h0M111.44 332.34h0M149.76 324.19h0M74.06 336.41h0M126.32 330.11h0M64.94 319.34h0M72.42 340.06h0M141.04 317.11h0M108.09 317.95h0M135.46 320.23h0M102.13 325.69h0M84.47 343.14h0M71.2 318.14h0M142.41 324.22h0M84.71 319.9h0M66.94 316.63h0M151.31 336.74h0M80.66 318.83h0M162.56 299.1h0M143.45 317.12h0M99.81 319.01h0M160.13 346.26h0M132.38 328.36h0M93.23 323.83h0M146.98 335.04h0M63.73 325.1h0M134.52 330.18h0M106.45 315.74h0M154.79 323.49h0M82.6 322.95h0M101.59 338.09h0M48.28 326.99h0M124.51 306.01h0M116.6 336.2h0M49.74 339.09h0M141.38 320.23h0M88.95 301.26h0M128.71 318.32h0M134.47 336.94h0M128.71 338.87h0M133.28 330.68h0M131.11 317.44h0M158.35 316.55h0M128.15 322.32h0M123.42 335.17h0M61.15 318.39h0M131.74 339.08h0M57.57 335.02h0M108.38 341.08h0M127.15 312.1h0M115.84 326.23h0M83.37 337.14h0M117.91 339.05h0M104.01 324.88h0M109.14 320.85h0M109.85 350.69h0M143.16 317.88h0M140.22 329.16h0M107.57 317.85h0M155.94 324.41h0M91.72 307.01h0M59.34 334.65h0M94.38 343.18h0M162.35 309.24h0" stroke="#ff7300" stroke-width="1.6" stroke-linecap="round" fill="none"/>
<path d="M72.9 324.82h0M59.69 329.89h0M139.1 327.87h0M130.76 308.91h0M101.85 323.27h0M156.8 308.5h0M70.81 317.86h0M94.39 321h0M89.69 337.41h0M93.62 321.85h0M63.32 330.32h0M105.23 313.62h0M151.88 312.38h0M93.76 344.42h0M110.85 338.26h0M81.27 340.4h0M80.32 312.01h0M107.93 325.62h0M153.72 317.02h0M148.51 334.59h0M50.84 325.56h0M93.32 311.63h0M103.93 316.91h0M119.53 308.51h0M151.92 326.73h0M121.02 310.51h0M60.59 317.73h0M153.84 323.72h0M135.89 332.91h0M108.01 325.46h0M123.11 313.12h0M63.08 331.56h0M128.78 320.44h0M137.53 318.94h0M90.77 329.96h0M123.98 332.31h0M62.03 327.34h0M97.21 329.21h0M126.13 317.23h0M164.12 305.22h0M92.06 331.03h0M127.21 315.29h0M122.84 310.52h0M55.12 327.32h0M50.57 330.59h0M155.66 317.36h0M55.64 327.2h0M125.02 316.07h0M67.02 325.42h0M66.61 316.43h0M157.34 299.49h0M150.97 330.6h0M51.13 315.5h0M132.5 312.4h0M135.6 311.86h0M101.35 313.87h0M53.47 318.94h0M133.44 321.37h0M54.8 324.37h0M58.28 323.93h0M50.82 328.9h0M53.9 320.6h0M55.62 322.13h0M128.83 318.5h0M137.74 325.33h0M98.54 296.75h0M120.98 344.37h0M106.71 308.38h0M97.86 302.17h0M107.19 319.97h0M147.03 330.34h0M157.67 322.97h0M63.04 335.93h0M99.86 326.66h0M127.85 313.56h0M59.01 314.32h0M99.02 337.35h0M156.54 328.02h0M126.42 330.04h0M157.24 319.31h0M102.03 300.62h0M105.58 308.86h0M152.09 323.83h0M61.1 324.19h0M111.38 324.98h0M97.04 330.19h0M76.55 334.75h0M160.76 308.99h0M60.2 329.39h0M61.99 329.96h0M109.61 322.98h0M74.4 336.06h0M54.55 339.6h0M132.87 317.17h0M120.73 320.89h0M101.8 339.97h0M144.97 319.38h0M127.95 318.47h0M108.56 313.05h0M146.58 319.11h0M58.44 315.46h0M155.59 320.82h0M134.51 307.95h0M151.74 324.99h0M134.37 321.5h0M66.4 322.23h0M156.93 320.85h0M64.24 327.64h0M153.7 322.39h0M114.4 333.19h0M91.53 335.52h0M56.38 325.65h0M100.18 332.39h0M109.88 322.7h0M108.44 311.46h0M94.52 322.77h0M107.36 306.64h0M144.93 318.3h0M153.13 348.32h0M94.67 326.27h0M79.53 332.95h0" stroke="#ff5900" stroke-width="1.6" stroke-linecap="round" fill="none"/>
<path d="M97.24 322.81h0M104.79 319.38h0M129.12 314.04h0M50.6 338.67h0M132.19 299.51h0M129 309.82h0M132.79 310.03h0M152.94 304.53h0M121.09 314.72h0M126.52 323.6h0M85.89 324.41h0M109.05 325.46h0M47.88 334.05h0M111.29 328.24h0M53.67 335.87h0M148.19 316.94h0M112.59 322.28h0M71.09 326.7h0M144.93 315.4h0M94.89 305.83h0M97.12 329.94h0M154.25 317.38h0M140.31 338.15h0M54.27 334.1h0M88.61 320.9h0M111.99 310.78h0M128.15 327.54h0M121.83 310.62h0M104.04 300.28h0M108.27 326.8h0M127.77 329.33h0M154.12 310.38h0M67.28 338.78h0M130.97 318.89h0M151.56 304.41h0M154.1 322.04h0M57.3 324.93h0M94.28 300.51h0M156.14 329.47h0M53.55 320.75h0M131.28 323.67h0M126.52 314.8h0M69.14 315.99h0M142.28 332.27h0M130.49 307.66h0M127.76 317.1h0M153.33 331.83h0M154.33 318.2h0M155.5 321.32h0M100.94 319.8h0M122.15 301.58h0M152.97 295.22h0M110.87 310.82h0M155.13 312.38h0M107.24 302.93h0M143.1 315.29h0M131.51 316.78h0M83.39 335.17h0M134.31 319.21h0M132.99 309.98h0M90.63 317.28h0M107.15 321.4h0M75.27 315.77h0M64.72 317.43h0M96.48 315.2h0M161.12 325.65h0M137.96 323.88h0M132.67 328h0M145.51 323.09h0" stroke="#ff4000" stroke-width="1.6" stroke-linecap="round" fill="none"/>
<path d="M60.41 334.71h0M70.97 313.05h0M145.32 333.05h0M59.19 321.24h0M90.73 312.73h0M124.85 299.76h0M151.87 330.26h0M102.69 297.38h0M125.3 315.99h0M105.44 302.95h0M95.29 307.01h0M155.68 306.43h0M156.19 324.67h0M126.61 304.18h0M162.29 320.09h0M103.89 335.07h0M115.03 324.21h0M63.03 326.24h0M158.19 314.25h0M143.31 323.41h0M101.28 315.06h0M114.8 315.99h0M159.45 316.43h0M157.97 298.47h0M90.33 324.07h0M153.29 315.32h0M133.78 325.61h0M128.98 302.23h0M52.81 322.52h0M144.36 323.52h0M100.56 306.09h0M96.21 304.27h0M94.54 344.66h0M134.17 320.67h0M152.69 314.78h0M107.83 320.78h0M113.82 332.05h0M56.18 333.88h0M134.39 305.42h0M95.02 305.69h0M75.04 310.46h0M135.28 313.96h0M94.08 298.65h0" stroke="#ff2600" stroke-width="1.6" stroke-linecap="round" fill="none"/>
<path d="M157.23 308.72h0M122.33 307.6h0M145.28 301.48h0M71.99 322.42h0M106.15 312.18h0M83.01 312.13h0M91.48 299.7h0M66.73 316.27h0M91.8 319.39h0M81.99 331.11h0M104.52 300.32h0M153.49 293.89h0M160.27 310.16h0M119.98 299.72h0M153.47 313.51h0M126.5 327.05h0M83.79 319.1h0M94.72 309.03h0M121.23 303.49h0M68.58 318.56h0M90.23 321.48h0M127.03 318.78h0M133.89 306.78h0M156.06 319.11h0M129.48 313.48h0M136.48 326.08h0M158.43 316.88h0M128.26 314.39h0" stroke="#ff0d00" stroke-width="1.6" stroke-linecap="round" fill="none"/>
<path d="M153.68 331.25h0M145.23 316.4h0M133.27 307.17h0M122.39 295.1h0M112.08 329.75h0M104.95 297.7h0M71.52 314.54h0M121.18 302.27h0M101.32 302.22h0M158.26 300.51h0M55.13 319.26h0M96.49 296.02h0" stroke="#f20000" stroke-width="1.6" stroke-linecap="round" fill="none"/>
<path d="M127.35 297.49h0M58.77 323.14h0M137.36 322.58h0M73.92 320.55h0M119.21 335.62h0M157.97 322.12h0M156.04 295.48h0M151.04 331h0M120.01 332.93h0M121.94 300.81h0" stroke="#d90000" stroke-width="1.6" stroke-linecap="round" fill="none"/>
<path d="M104.68 298.91h0M139.85 324.34h0M105.16 297.3h0M124.09 331.65h0M160.64 312.09h0M115.87 327.08h0M107.21 326.25h0" stroke="#bf0000" stroke-width="1.6" stroke-linecap="round" fill="none"/>
<path d="M155.89 309.22h0M97.16 297.7h0M100.88 314.33h0M99.79 297.39h0M100.15 300.41h0M130.56 293.31h0M130.54 299.63h0M129.71 312.43h0M75.3 313.61h0" stroke="#a60000" stroke-width="1.6" stroke-linecap="round" fill="none"/>
<path d="M129.17 315.42h0M105.15 313.19h0M65.6 335.28h0M159.35 333.25h0" stroke="#8c0000" stroke-width="1.6" stroke-linecap="round" fill="none"/>
<path d="M95.07 400.59h0M77.64 414.76h0M75.5 405.66h0M123.94 419.53h0M101.65 399.26h0M75.02 409.86h0" stroke="#00008c" stroke-width="1.6" stroke-linecap="round" fill="none"/>
<path d="M76.86 392.2h0M65.85 384.9h0M100.11 385.52h0M103.44 394.22h0M100.06 394.11h0M72.11 406.86h0M118.37 393.56h0M116.33 426.76h0M118.25 427.35h0M69.08 411.94h0M80.93 409.36h0M104.64 398.77h0M78.27 408.92h0M70.91 398.61h0M81.2 401.32h0M119.01 425.7h0M65.45 403.26h0M74.04 400.52h0M96.76 397.57h0M119.51 416.37h0M57.49 401.72h0M74.56 392.69h0M77.28 418.67h0M75.21 382.08h0M84.69 381.46h0M139.25 415.54h0M85.46 415.71h0M111.19 382.8h0M76.25 415.73h0M102.49 385.39h0M74.31 381.6h0M131.55 392.15h0M88.77 412.25h0M92.47 416.75h0M80.73 414.91h0M149.96 390.22h0M150.6 401.42h0M106.88 391.97h0M96.85 400.23h0M76.64 392.52h0M100.13 392.94h0M87.06 392.97h0M92.12 392.81h0M115.47 422.78h0M122.36 421.11h0M89.03 404.57h0M94.04 401.12h0M98.66 420.17h0M97.47 419.54h0M76.8 384.45h0M118.29 372.49h0M157.45 395.8h0M131.58 385.19h0M84.88 405.87h0M97.25 390.52h0M96.33 420.54h0M97.24 397.91h0M92.28 394.61h0M108.27 382.07h0M80.12 392.38h0M116.86 413.47h0M114.11 422.3h0M111.6 423.58h0M94.4 428.29h0M121.22 394.29h0M63.11 387.71h0M92.01 403.05h0M82.63 414.77h0" stroke="#0000a6" stroke-width="1.6" stroke-linecap="round" fill="none"/>
<path d="M120.39 404.79h0M82.88 418.16h0M145.85 394.15h0M99.64 400.25h0M90.27 402.65h0M90.49 404.11h0M152.43 400.02h0M121.41 396.48h0M95.5 420.93h0M82.03 404.37h0M117.84 415.89h0M112.18 390.59h0M104.58 386.8h0M108.84 419.86h0M92.88 390.39h0M48.33 370.73h0M100.43 419.84h0M119.67 393.88h0M70.02 401.12h0M97.54 396.67h0M102.1 403h0M83.22 383.8h0M55.46 393.79h0M123.35 402.93h0M93.74 387.59h0M62.36 390.58h0M115.92 408.3h0M98.96 395.79h0M137.64 411.39h0M93.65 397.03h0M59.89 396.05h0M89.12 382.93h0M52.35 387.09h0M78.53 410.52h0M114.37 385.79h0M105.97 387.29h0M144.06 383.14h0M129.86 387.49h0M81.97 405.35h0M76.36 405.15h0M77.4 402.97h0M104.49 403.95h0M93.74 354.02h0M75.76 408.34h0M80.57 378.62h0M93.46 396.98h0M89.11 385.7h0M117.02 390.02h0M93.72 378.67h0M75.84 381.15h0M78.08 388.83h0M90.12 423.16h0M76.16 400.91h0M131.23 356.12h0M139.66 412.76h0M100.74 401.67h0M102.54 396.75h0M128.21 370.71h0M117.78 392.09h0M79.69 394.6h0M81.97 399.16h0M67.68 380.11h0M145.77 409.48h0M82.27 405.69h0M113.78 378.85h0M92.75 395.25h0M115.41 416.2h0M114.9 416.33h0M70.7 400.17h0M117.9 379.42h0" stroke="#0000bf" stroke-width="1.6" stroke-linecap="round" fill="none"/>
<path d="M84.71 405.05h0M72.5 406.48h0M98.86 379.58h0M92.83 403.15h0M93.56 383.86h0M66.42 379.46h0M121.39 387.56h0M155.75 377.82h0M86.43 402.95h0M144.63 387.72h0M85 417.83h0M124.41 393.85h0M65.59 406.18h0M162.55 371.99h0M95.38 372.91h0M121.68 384.82h0M95.65 401.7h0M119.13 407.89h0M99.33 376.27h0M61.43 377.46h0M151.35 395.51h0M134.7 391.47h0M105.69 417.39h0M90.15 399.16h0M122.25 395.07h0M76.54 395.17h0M91.97 391.04h0M118.29 385.08h0M124.77 388.96h0M96.95 394.41h0M101.93 393.09h0M117.84 403.59h0M121.63 384.48h0M120.01 406.47h0M79.16 412.15h0M78.64 408.49h0M89.33 387.52h0M93.07 424.95h0M65.44 401.42h0M83.67 378.02h0M71.59 387.08h0M124.31 404.16h0M83.01 412.37h0M113.96 395.54h0M84.24 379.15h0M98.44 386.46h0M78.71 385.6h0M112.54 391.27h0M89.61 394.88h0M98.55 387.11h0M119.25 414.37h0M116.78 377.43h0M83.87 384.62h0M103.78 394.53h0M106.84 381.93h0M107.01 389.56h0M66.39 390.81h0M91.74 391.27h0M100.77 396.21h0M108.78 383.08h0M107.44 395.69h0M71.28 395.72h0" stroke="#0000d9" stroke-width="1.6" stroke-linecap="round" fill="none"/>
<path d="M97.69 379.33h0M74.61 380.09h0M116.03 382.33h0M99.15 384.41h0M91.54 375.72h0M137.38 379.43h0M83.08 384.26h0M63.28 384.49h0M101.32 377.67h0M94.34 388.01h0M93.14 383.96h0M111.16 389.6h0M147.29 384.08h0" stroke="#008cff" stroke-width="1.6" stroke-linecap="round" fill="none"/>
<path d="M68.97 379.89h0M70.05 372.69h0M116.03 381.26h0M80.17 382.2h0M99.79 370.45h0M127.33 381.1h0M133.27 365.98h0M77.99 380.67h0M72.83 375.57h0M100.17 371.79h0M55.51 368.13h0M76.16 374.57h0M80.71 381.31h0M142.31 383.71h0M118.01 385.93h0M97.89 380.81h0" stroke="#00a6ff" stroke-width="1.6" stroke-linecap="round" fill="none"/>
<path d="M127.33 366.83h0M93.16 402.13h0M61.78 367.93h0M98.5 363.59h0M156.53 376.47h0M152.94 381.06h0M120.79 385.12h0M70.49 379.86h0M48.4 362.32h0M77.26 370.65h0M115 377.74h0M114.28 382h0M100.6 371.04h0M84.27 372.86h0M109.69 376.4h0M98.27 407.55h0M147.48 403.22h0M69.47 374.12h0M57.74 374.36h0M124.58 377.08h0M56.02 361.21h0M92.66 384.73h0M78.45 390.75h0M125.41 376.92h0M53.26 372.39h0M74.24 378.08h0M65.11 374.17h0M87.54 379.49h0M77.86 373.31h0M69.22 372.38h0M99.22 384.18h0M75.56 379.18h0M70.97 381.27h0M146.49 383.81h0M74.29 380.46h0M71.67 370.51h0M55.41 372.36h0M88.41 373.48h0M138.94 388.69h0M118.85 364.47h0M89.15 374.69h0M155.46 373.32h0M83.07 378.28h0M101.26 376.56h0M129.2 377.11h0M78.32 375.36h0M72.19 379.15h0M60.16 366.2h0M63.09 370.15h0M95.08 370.41h0M70.03 368.87h0M105.8 368.72h0M110.95 380.24h0M102.15 375.14h0M98.94 373.67h0M66.3 365.23h0M93.44 368.18h0M93.68 376.61h0M94.62 371.37h0M102.71 377.22h0M68.6 375.76h0M120.35 380.9h0M117.22 380.04h0M147.12 381.79h0M68.84 369.93h0M129 385.4h0M73.45 390.45h0" stroke="#00bfff" stroke-width="1.6" stroke-linecap="round" fill="none"/>
<path d="M114.37 396.69h0M98.37 364.6h0M48.71 364.75h0M128.11 365.08h0M119.3 376.01h0M63.08 371.16h0M60.58 370.94h0M106.38 370.91h0M66.84 379.04h0M96.32 376.49h0M88.15 359.9h0M64.89 371.02h0M75.39 381.65h0M129.85 375.6h0M101.83 367.15h0M104.55 367.35h0M91.33 373.29h0M97.23 371.04h0M80.56 379.09h0M126.23 377.66h0M56.65 369.21h0M80.55 376.69h0M80.56 377.44h0M102.05 378.6h0M150.06 373.95h0M140.82 370.41h0M69.91 379.13h0M94.53 375.83h0M143.83 368.89h0M86.12 378.37h0M100.7 370.47h0M73.75 380.77h0M71.21 375.86h0M128.72 360.22h0M155.46 365.76h0M147.89 378.2h0M83.73 379.01h0M83.49 375.08h0M63.36 374.42h0M114.44 366.31h0M94.89 366.69h0M61.4 369.41h0M109.61 367.82h0M95.74 379.24h0M47.86 353.41h0M107.21 381.38h0M94.52 382.06h0M151.65 378.79h0M84.6 380.28h0M64.98 367.09h0M71.78 373.11h0M60.4 367.49h0M104.96 375.96h0M149.05 373.71h0M88.29 373.4h0M115.45 370.09h0M88.27 367.15h0M58.25 370.1h0M88.71 374.47h0M63.95 355.31h0M88 376.25h0M116.29 372.07h0M88.62 387.44h0M91.51 374.56h0M73.37 376.74h0M113.27 369.92h0M73.8 376.33h0M121.81 363.83h0M71.02 380.78h0M77.82 381.28h0M117.24 379.64h0M103.35 368.66h0M154 374.96h0M87.28 359.98h0M58.74 365.51h0M76.39 382.64h0" stroke="#00d9ff" stroke-width="1.6" stroke-linecap="round" fill="none"/>
<path d="M99.41 366.82h0M94.42 384.03h0M157.95 371.07h0M94.69 360.64h0M89.22 376.96h0M123.71 365.34h0M80 372.37h0M76.2 374.57h0M114.6 375.28h0M95.57 360.52h0M117.13 387.89h0M76.11 381.97h0M68.87 373.57h0M76.09 376.45h0M153.96 377.36h0M60.64 366.49h0M77.51 365.64h0M117.49 389.53h0M104.51 364.24h0M100 361.79h0M66.72 366.36h0M89.95 395.85h0M141.88 375.25h0M152.58 372.95h0M96.62 379.55h0M93.36 380.48h0M103.72 375.71h0M69.28 377.65h0M75.98 367.59h0M96.98 374.46h0M65.44 372.71h0M99.2 379.67h0M77.38 365.73h0M158.81 377.09h0M68.05 368.38h0M111.37 374.2h0M98.96 363.86h0M81.94 380.63h0M152.65 371.73h0M66.21 373.81h0M74.18 368.92h0M81.44 381.22h0M115.53 382.91h0M73.83 368.16h0M151.44 358.36h0M76.82 372.99h0M94.1 376.16h0M122.69 373.9h0M89.68 379.36h0M67.26 377.03h0M71.45 364.46h0M62 360.64h0M132.03 387.68h0M109.61 372.23h0M49.63 362.99h0M59.41 369.69h0M70.07 373.2h0M96.75 384.46h0M72 365.44h0M151.84 375.93h0M86.33 377.3h0M115.01 389.86h0M56.18 370.27h0M72.76 369.83h0M84.72 369.61h0M83.02 385.18h0M103.11 349.36h0M98.17 385.47h0M127.06 364.75h0M72.29 370.04h0M65.71 362.36h0M112.55 373.03h0M95.74 367.45h0M89.32 377.44h0" stroke="#00f2ff" stroke-width="1.6" stroke-linecap="round" fill="none"/>
<path d="M64.1 379.86h0M163.61 376.07h0M125.51 360.42h0M61.17 355.26h0M84.46 382.13h0M89.01 372.85h0M91.66 412.69h0M138.23 366.82h0M88.58 363.45h0M67.49 379.56h0M146.57 374.83h0M119.75 367.76h0M146.56 359.85h0M59.46 369.65h0M82.9 367.29h0M81.79 396.37h0M73.27 376.64h0M159 376.51h0M110.59 369.38h0M146.91 371.78h0M152.83 387.39h0M98.22 373.46h0M87.69 374.03h0M83.07 403.92h0M156.19 365.52h0M127.76 366.28h0M106.07 368.3h0M87.88 372.65h0M78.8 363.61h0M151.2 370.02h0M49.83 371.79h0M68.57 366.74h0M118.6 389.34h0M76.72 373.33h0M56.42 356.4h0M65.81 364.49h0M59.82 360.15h0M61.08 372.42h0M52.53 372.4h0M104.82 368.77h0M158.95 368.59h0M93.02 360.69h0M77.8 379.83h0M71.6 369.1h0M141.53 372.16h0M150.31 384.81h0M73.21 378.7h0M101.21 370.06h0M86.46 384.11h0M152.08 374.22h0M148.79 385.49h0M89.7 372.06h0M67.71 369.16h0M120.38 382.94h0M151.26 383.57h0M88.75 359.04h0M86.85 377.91h0M144.12 369.75h0M100.17 370.92h0M92.36 371.1h0M72.38 371.28h0M134.61 373.94h0M51.21 362.37h0M113.57 375.53h0M59.3 370.35h0M75.34 377.15h0M65.97 366.93h0M101.73 364.07h0M60.68 371.65h0M114.69 390.7h0M72.72 375.03h0M127.64 362.46h0M118.78 369.2h0M120.96 363.85h0M123.58 364.5h0M158.44 362.4h0M142.96 371.04h0M86.84 382.07h0M131.67 362.74h0M95 353.18h0M81.78 380.75h0M79.61 377.08h0M82.34 372.97h0M104.58 365.75h0M92.44 382.75h0M132.06 363.77h0M63.6 365.54h0M73.67 368.16h0M100.83 372.36h0M123.27 373.06h0M61.54 370.22h0M85.7 362.22h0M98.33 385.1h0M54.1 350.91h0M110.97 385.28h0M161.47 377.63h0M59.01 366.94h0" stroke="#0dfff2" stroke-width="1.6" stroke-linecap="round" fill="none"/>
<path d="M152.53 367.44h0M120.52 371.44h0M94.91 359.48h0M154.11 370.82h0M92.38 369.52h0M80.27 369.44h0M48.76 364.72h0M96.61 365.61h0M128.21 368.61h0M90.34 368.87h0M64.26 359.97h0M74.23 364.52h0M70.61 361.92h0M127.71 367.49h0M103.39 371.7h0M86.57 373.98h0M105.1 367.09h0M115.19 355.09h0M84.92 373.74h0M88.44 365.37h0M79.14 361.93h0M115.82 363.96h0M160.19 362.12h0M148.47 375.85h0M120.87 359.58h0M68.25 365.24h0M144.14 379.83h0M127.39 366.11h0M128.01 360h0M91.89 367.39h0M123.14 366.58h0M82.01 374.06h0M67.84 374.2h0M97.61 363.33h0M57.13 363.97h0M156.98 351.98h0M119.1 365.66h0M52.61 357.38h0M52.19 360.88h0M64.42 369.73h0M124.48 378.7h0M134.44 361.17h0M120.19 362.59h0M51.94 364.59h0M66.59 368.33h0M54.17 361.28h0M160.29 369.86h0M51.43 360.03h0M125.54 361.53h0M127.46 366.13h0M108.8 359.04h0M118.19 365.16h0M89.17 366.36h0M49.86 361.91h0M143.65 359.55h0M70.87 364.85h0M56.4 351.93h0M131.95 363.71h0M140.69 356.02h0M134.3 376.34h0M74.36 364.06h0M80.74 376.23h0M106.04 369.56h0M150.39 368.49h0M93.92 368.94h0M97.43 376.62h0M74.04 372.4h0M55.65 365.56h0M118.59 365.48h0M152.84 373.37h0M63.8 358.54h0M137.07 356.7h0M106.1 369.91h0M74.3 371.47h0M115.97 368.2h0" stroke="#26ffd9" stroke-width="1.6" stroke-linecap="round" fill="none"/>
<path d="M93.42 355.71h0M66.95 363.61h0M82.34 355.97h0M99.39 363.67h0M152.94 366.78h0M72.11 370.08h0M98.67 371.53h0M109.12 363.75h0M95.2 359.78h0M97.45 361.79h0M94.84 369.95h0M107.02 367.12h0M109.41 362.7h0M77.77 354.46h0M126.15 370.03h0M61.42 367.15h0M88.21 371.65h0M118.87 366.19h0M119.66 365.72h0M112.61 362.95h0M78.67 354.14h0M64.8 369.18h0M53.28 371.22h0M124.51 363.83h0M93.87 369.07h0M147.81 356.67h0M57.37 358.93h0M147.46 359.63h0M111.79 361.21h0M62.42 373h0M119.03 353.37h0M96.23 361.51h0M146.83 364.22h0M83.63 361.03h0M112.31 368.47h0M90.05 374.07h0M129.23 365.76h0M124.73 367.19h0M147.27 359.17h0M127.4 348.33h0M92.38 362.41h0M114.46 365.41h0M62.12 361.13h0M70.4 354.54h0M103.01 368.94h0M63.03 370.94h0M81.63 356.45h0M63.57 362.78h0M52.95 364.21h0M78.58 361.3h0M62.52 358.11h0M159.39 367.38h0M99.67 347.89h0M126.43 359.63h0M52.27 363.25h0M52.74 367.84h0M122.79 362.35h0M144.42 355.65h0M78.01 351.58h0M119.75 367.07h0M102.62 362.52h0M67.4 358.04h0M125.49 362.43h0M102.95 366.21h0M103.21 354.94h0M150.04 364.18h0M97.64 358.65h0M162.93 362.24h0M81.39 358.9h0M90.52 372.24h0M119.68 368.23h0M105.53 369.33h0M48.09 347.22h0" stroke="#40ffbf" stroke-width="1.6" stroke-linecap="round" fill="none"/>
<path d="M58.81 359.98h0M68.88 347.43h0M89.82 369.33h0M128.04 373.89h0M111.21 360.44h0M72.97 364.81h0M151.22 381.04h0M72.46 356.69h0M92.16 366.98h0M146.8 351.55h0M51.22 357.68h0M96.39 342.99h0M126.7 358.19h0M68.61 360.54h0M90.02 363.43h0M99.67 351.81h0M101.03 359.13h0M125.39 359.11h0M129.77 361.6h0M89.3 364.56h0M83.23 363.85h0M71.78 366.22h0M81.6 361.19h0M93.86 352.14h0M93.57 370.1h0M104.63 357.7h0M89.57 358.49h0M70.86 358.21h0M71.27 366.83h0M65.99 357.57h0M59.26 362.75h0M128.36 358.62h0M154.09 359.75h0M119.6 355.52h0M70.03 364.7h0M148.48 374.51h0M98.97 365.49h0M151.44 371h0M99.16 362.8h0M92.65 372.25h0M128.25 366.1h0M54.46 367.38h0M67.26 350.12h0M93.55 353.64h0M138.8 359.29h0M98.45 358.44h0M55.56 357.18h0M66.51 366.95h0M85.51 353.75h0M148.03 354.79h0M145.32 362.57h0M81.81 359.08h0M57.26 360.42h0M56.67 363.74h0M141.65 360.18h0M59.6 360.35h0M120.41 360.26h0M136.36 355.95h0M145.86 358.53h0M93.23 358.84h0M57.45 360.86h0M160.82 376.81h0M60.38 360.4h0M50.6 353.69h0M70.48 351.92h0M139.44 350.91h0M52.28 358.83h0M96.13 364.48h0M95.3 355.11h0" stroke="#59ffa6" stroke-width="1.6" stroke-linecap="round" fill="none"/>
<path d="M103.94 360.43h0M94.39 358.09h0M117.25 357.78h0M50.23 354.05h0M85.86 357.81h0M61.78 360.18h0M121.58 366.72h0M68.82 357.98h0M141.5 347.65h0M124.03 362.31h0M76.08 350.47h0M126.7 362.24h0M92 356.66h0M135.04 356.6h0M154.11 356.36h0M54.53 354.61h0M53.35 365.99h0M69.13 363.78h0M54.87 358.59h0M115.1 362.23h0M86.12 363.63h0M94.25 351.04h0M52.61 365.33h0M72.33 361.41h0M94.73 356.27h0M98.22 366.6h0M88.71 353.84h0M60.87 350.42h0M81.67 358.99h0M135.75 355.27h0M151.75 358.77h0M101 363.95h0M123.71 358.98h0M49.52 345.13h0M120.72 350.58h0M120.55 356.32h0M146.56 361.67h0M127.48 364.46h0M81.58 351.87h0M52.16 354.89h0M54.33 353.24h0M153.13 365.46h0M69.23 350.25h0M61.08 363.28h0M54.23 358.37h0M88.49 366.51h0M100.58 351.86h0M127.33 360.16h0M101.73 342.48h0M148.82 348.84h0M113.29 367.97h0M66.03 365.96h0M88.17 354.93h0M162.1 366.37h0M80.24 357.67h0M93.54 356.74h0M60.76 353.59h0M123.53 352.59h0M85.61 352.52h0M120.83 366.82h0M74.88 359.28h0M95.46 345.65h0M66.47 356.25h0M82.72 359.25h0M76.42 355.1h0M124.78 367.13h0M147.75 364.86h0M92.2 345.23h0M78.01 350.05h0M127.41 358.07h0M52.1 360.48h0M100.97 357.06h0M56.7 353.18h0M80.04 349.64h0" stroke="#73ff8c" stroke-width="1.6" stroke-linecap="round" fill="none"/>
<path d="M121.34 358.73h0M81.12 354.74h0M151.26 353.33h0M52.3 347.27h0M142.95 356.56h0M96.99 326.88h0M153.22 362.97h0M90.44 353.92h0M130.59 359.88h0M66.06 360.07h0M51.01 355.64h0M92.83 363h0M64.48 342.82h0M152.77 351.43h0M131.41 359.26h0M103.47 348.18h0M45.42 348.78h0M144.54 354.67h0M134.65 360.72h0M88.11 353.33h0M119.01 354.13h0M136.07 373.01h0M131.17 362.73h0M92.36 363.55h0M103.62 355.32h0M60.63 356.31h0M101.83 363.73h0M78.77 347.65h0M83.73 362.87h0M113.41 366.55h0M102.93 361.56h0M145.67 351.87h0M48.04 352.19h0M46.1 353.03h0M119.63 356.25h0M65.92 343.6h0M148.2 361.25h0M122.78 352.38h0M64.64 344.12h0M94.19 368.53h0M129.33 353.84h0M113.37 340.63h0M139.54 355.16h0M68.88 356.83h0M66.08 349.04h0M74.16 357.07h0M95.68 358.12h0M81 360.73h0M65.41 365.88h0M59.32 356.49h0M78.14 353h0M47.26 349.95h0M93.1 346.25h0M94.43 366.87h0M84.54 353.84h0M121.09 359.2h0M93.67 340.77h0M144.58 354.07h0M84 351.89h0M77.55 360.34h0M99.21 353.51h0M89.51 360.53h0M97.16 350.83h0M104.46 366.13h0M78.72 354.98h0M84.8 354.34h0M108.03 352.21h0M119 372.58h0M105.76 349.17h0M98.77 351.14h0M149.62 355.45h0M146.16 359.05h0" stroke="#8cff73" stroke-width="1.6" stroke-linecap="round" fill="none"/>
<path d="M147.48 358.16h0M99.96 349.02h0M141.75 363.05h0M75.09 347.35h0M108.57 350.81h0M157.77 308.32h0M79.4 352.15h0M83.68 353.79h0M147.68 349.72h0M112.65 350.55h0M147.64 356.84h0M64.01 351.51h0M85.79 359.03h0M105.73 352.72h0M88.5 355.12h0M148.86 350.17h0M74.68 360.41h0M71.6 358.94h0M69.44 359.45h0M100.58 351.42h0M80.96 354.73h0M140.92 355.15h0M152.54 364.17h0M132.74 356.23h0M91.09 349.37h0M126.97 352.69h0M151.27 359.98h0M87.74 352.98h0M83.43 355.63h0M128.36 350.8h0M163.58 350.83h0M54.34 355.31h0M124.02 370.68h0M105.05 353.58h0M83.67 363.19h0M56.29 360.44h0M50.02 341.93h0M57.31 349.15h0M104.25 346.59h0M68.55 353.88h0M147.78 356.5h0M103.46 350.93h0M126.65 352.15h0M54.7 354.72h0M45.77 349.2h0M81.14 361.24h0M91.59 353.51h0M142.28 361.45h0M100.51 344.07h0M110.99 356.86h0M69.99 347.14h0M123.78 348.26h0M45.12 343.86h0M59.98 351.08h0M94.34 355.42h0M81.66 350.99h0M136.04 352.51h0M138.41 351.7h0M140.51 355.72h0M82.14 351.5h0M97.89 358.03h0M53.66 345.13h0M95.48 355.82h0" stroke="#a6ff59" stroke-width="1.6" stroke-linecap="round" fill="none"/>
<path d="M123.15 349.55h0M127.82 343.84h0M47.63 345.71h0M103.43 357.9h0M49.16 347.66h0M115.51 332.99h0M45.33 346.8h0M93.32 362.7h0M104.01 356h0M96.96 350.7h0M159.25 348.64h0M121.14 352.01h0M86.49 340.36h0M64.7 355.7h0M99.69 350.84h0M75.79 345.54h0M122.83 336.73h0M56.79 367.11h0M108.71 346.47h0M64.25 341.2h0M93.8 350.65h0M50.83 350.37h0M147.19 357.41h0M140.02 363.55h0M130.04 357.76h0M96.15 342.57h0M146.82 355.44h0M54.34 342.21h0M102.5 349.12h0M126.62 354.26h0M108.61 350.75h0M127.27 318.14h0M84.37 348.89h0M94.63 347.71h0M133.52 349.93h0M97.17 337.19h0M150.64 360.76h0M45.74 341.87h0M111.46 347.21h0M108.65 347.02h0M101.55 343.68h0M133.42 352.54h0M83.62 341h0M150.74 356.03h0M153.45 356.29h0M159.7 359.41h0M75.25 343.02h0M52.62 353.61h0M93.22 349.5h0M51.72 345.26h0M96.47 315.51h0M75.16 349.92h0M51.79 351.4h0M143.83 360.99h0M76.61 353.06h0M122.11 350.41h0M74.26 350.68h0M129.27 345.4h0M88.1 352.02h0M125.96 356.69h0M76.13 365.49h0M55.09 357.43h0M119.95 354.1h0M80.32 352.17h0M87.19 343.61h0M151.93 359.56h0M82.09 346.16h0M89.29 356.99h0M93.63 347.54h0M108.75 349.06h0M104.48 337.36h0M142.58 345.17h0M125.05 350.99h0M59.03 336.76h0M46.54 345.47h0" stroke="#bfff40" stroke-width="1.6" stroke-linecap="round" fill="none"/>
<path d="M60.75 353.79h0M97.23 340.53h0M65.64 347.11h0M132.27 363.82h0M68.73 345.16h0M148.89 346.08h0M104.29 323.9h0M82.51 350.67h0M86.97 335.27h0M76.53 345.83h0M121.61 352.4h0M57.36 353.75h0M52.43 344.23h0M143.28 351.3h0M130.05 329.11h0M104.32 354.16h0M86.78 352.27h0M130.33 349.56h0M155.39 345.58h0M80.35 353.61h0M83.78 346.45h0M62.76 344.87h0M118.05 316.58h0M85.63 348.32h0M60.43 348.33h0M117.68 345.44h0M116.48 342.47h0M88.82 344.89h0M54.34 356.1h0M62.75 357.51h0M151.35 355.08h0M98.56 340.57h0M145.97 350.15h0M57.28 348.62h0M87.75 344.33h0M55.66 347.3h0M95.57 351.03h0M63.61 345.25h0M146.59 348.42h0M145.99 357.47h0M89.05 354.18h0M72.76 343.42h0M66.36 355.11h0M52.47 341.7h0M91.61 351.77h0M111.91 336.58h0M87.18 346.58h0M95.05 339.36h0M123.96 364.83h0M159.26 350.41h0M122.31 353.46h0M136.64 346.69h0M109.62 365.59h0M92.84 348.86h0M125.93 355.24h0M49.08 344.77h0M79.91 352.92h0M61.52 349.29h0M130.35 348.61h0M117.41 348.7h0M107.21 344.18h0M115.39 343.86h0M71.87 345.04h0" stroke="#d9ff26" stroke-width="1.6" stroke-linecap="round" fill="none"/>
<path d="M81.88 351.14h0M53.91 346.29h0M84.72 368.68h0M148.18 348.45h0M119.04 340.15h0M116.55 344.67h0M80.4 351.22h0M97.55 319.46h0M148.26 350.74h0M70.89 343.87h0M89.35 341.57h0M55.4 343.12h0M117.92 340.75h0M108.48 339.35h0M55.53 345.25h0M157.23 354.92h0M94.95 347.8h0M66.55 345.06h0M103.74 344.05h0M103.66 344.58h0M131.43 343.37h0M160.92 348.85h0M52.93 339.7h0M123.21 321.07h0M151.86 354.39h0M135.73 350.55h0M62.11 354.69h0M47.89 347.22h0M102.83 341.69h0M64.55 346.76h0M111.04 345.07h0M103.88 330.19h0M69.26 344.01h0M68.38 350.76h0M116.34 343.67h0M65.36 351.71h0M119.71 348.15h0M153.3 324.97h0M138.29 343.98h0M82.84 341.51h0M62.37 339.48h0M124.74 345.09h0M110.31 341.79h0M55.69 346.2h0M64.77 352.3h0M157.07 364.22h0M121.18 358.51h0M45.12 343.09h0M154.07 354.25h0M149.94 354.62h0M98.77 346.13h0M73.83 344.46h0M58.93 334.05h0M96.44 333.22h0M70.13 341.72h0M75.58 355.41h0M53.88 321.92h0M124.88 342.79h0M95.7 345.32h0M124.26 343.59h0M91.81 321.66h0M64.13 352.23h0M56.43 351.63h0M88.01 315.36h0M71.96 346.95h0M56.99 345.96h0M97.33 349.18h0M61.96 345.03h0M164.76 347.87h0M69.62 344.37h0M80.01 335.02h0M68.45 337.47h0M60.55 318.86h0M119.19 330.22h0M68.94 345.48h0M88.47 341.25h0M133.47 347.97h0M50.78 347.2h0M64.45 351.18h0M118.97 361.33h0M128.87 355.17h0" stroke="#f2ff0d" stroke-width="1.6" stroke-linecap="round" fill="none"/>
<path d="M115.24 320.77h0M134.42 342.66h0M50.49 342.16h0M91.13 341.8h0M99.67 340.64h0M124.52 344.11h0M77.84 346.43h0M79.91 353.92h0M79.19 339.03h0M123.31 342.95h0M76.4 340.46h0M109.71 339.94h0M53.62 336.89h0M147.8 334.82h0M67.95 334.12h0M71.71 343.73h0M113.67 343.37h0M119.61 346.02h0M99.58 327.96h0M165.45 346.3h0M72.88 342.96h0M133.65 345.7h0M111.21 347.01h0M114.39 348.12h0M88.81 332.46h0M57.79 332.15h0M60.99 321.14h0M85.24 341.34h0M68.3 344.72h0M58.49 321.61h0M81.03 334.54h0M75.3 341.03h0M91.42 339.46h0M99.3 345.33h0M103.78 333.1h0M74.47 340.94h0M88.58 334.29h0M111.98 314.79h0M133 345.17h0M119.95 345.36h0M89.99 344.74h0M122.66 352.71h0M53.21 335.61h0M82.62 337.79h0M148.74 347.74h0M100.26 348.92h0M96.89 350.38h0M94.89 346.75h0M57.05 326.22h0M158.52 353.35h0M127.04 345.97h0M151.24 330.27h0M98.88 341.3h0M131.79 361.84h0M145.48 343.85h0M99 316.96h0M55.35 317.68h0M97 328.84h0M58.5 325.23h0M111.8 344.76h0M115.39 334.58h0M62.25 346.13h0M128.67 343.72h0M72.63 345.2h0M49.25 346.47h0M103.14 344.02h0M110.86 337.97h0M52.32 344.4h0M106.65 341.7h0M47.64 339.86h0M107.08 351.8h0M83.23 342.22h0M124.08 348.51h0M111.18 348.18h0M67.17 351.26h0M81.34 351.75h0M54.74 331.94h0M119.19 341.85h0M70.92 344.55h0M64.69 344.49h0M125.48 345.86h0M63.93 332.94h0M83.52 343.22h0M137.92 336.85h0M152.64 347.3h0M120.51 309.84h0M100.76 321.09h0M108.77 344.14h0M110.32 346.93h0M95.37 303.77h0M107.85 342.44h0M62.1 343.57h0M109.16 347.28h0M165.97 348.76h0M99.7 347.47h0M46.02 339.05h0M120.49 343h0M101.84 346.15h0M102.75 333.22h0" stroke="#fff200" stroke-width="1.6" stroke-linecap="round" fill="none"/>
<path d="M80.07 348.95h0M112.79 343.98h0M85.65 342.14h0M106.32 341.9h0M53.48 338.49h0M71.54 349.73h0M130.5 344.78h0M134.29 348.08h0M133.13 311.67h0M65.55 325.11h0M86.78 363.47h0M77.85 344.44h0M52.64 345.52h0M124.76 321.1h0M130.77 344.14h0M72.19 348.44h0M153.05 351.89h0M107.15 328.14h0M48.94 339.13h0M72.55 319.78h0M101.31 344.6h0M88.52 325.48h0M56.79 333.94h0M101.34 297.92h0M50.64 342.9h0M131.16 346.1h0M137.42 351.2h0M155.61 350.32h0M96.23 329.85h0M111.82 313.38h0M152.17 317.76h0M103.73 328.71h0M129.96 342.21h0M108.38 333.53h0M60.14 339.23h0M75.02 350.2h0M69.62 339.5h0M148.73 319.66h0M78.57 335.75h0M100.42 343.52h0M128.06 346.76h0M149.07 331.76h0M153.7 347.67h0M54.49 337.52h0M64.7 336.58h0M130.47 344.15h0M111.32 341.82h0M61.89 343.58h0M161.68 354.73h0M128.58 326.55h0M66.76 318.06h0M95.02 343.16h0M137.75 338.44h0M118.41 348.15h0M119.48 350.4h0M60.16 325.11h0M80.22 331.86h0M64.68 334.66h0M103.49 325h0M55.32 351.07h0M50.08 333.98h0M145.65 320.77h0M112.67 313.75h0M136.04 319.89h0M132.19 320.29h0M93.82 333.92h0M135.12 335.43h0M80.95 330.79h0M127.63 336.95h0M141.02 337.45h0M154.71 343.53h0M75.03 348.09h0M53.98 334.98h0M134.43 332.71h0M68.48 334.84h0M81.3 337.47h0M77.39 345.26h0M124.22 311.23h0M105.09 340.62h0M125.93 327.46h0M105.83 343.91h0M73.67 340.81h0M46.61 335.48h0M131.8 323.19h0M84.52 352.67h0M64.2 347h0M121.3 327.87h0M75.64 336.59h0M56.87 338.16h0M63.87 340.49h0M95.2 344.46h0M48.35 328.54h0M88.14 347.6h0M102.11 324.25h0M134.62 338.66h0M103.43 320.85h0M48.22 337.37h0M140.58 330.05h0M79.27 347.71h0M120.52 336.28h0M59.6 325.05h0M143.34 337.47h0M95.82 344.33h0M122.14 326.09h0M101.57 343.85h0M77.85 323.6h0M76.56 334.41h0M114.86 345.4h0M83.38 335.41h0M92.77 340.12h0M63.72 315.41h0M59.45 331.95h0" stroke="#ffd900" stroke-width="1.6" stroke-linecap="round" fill="none"/>
<path d="M131.58 345.46h0M67.42 333.19h0M132.72 339.84h0M159.2 323.95h0M125.46 316.82h0M104.17 342.57h0M70.67 337.88h0M92.79 337.89h0M85.12 337.2h0M50.43 336.33h0M118.76 320.07h0M85.26 340.05h0M64.9 348.35h0M121.39 337.27h0M67.47 337.39h0M77.45 335.96h0M107.77 344.39h0M51.69 322.71h0M72.82 318.83h0M124.71 343.82h0M145.52 345h0M78.93 346.72h0M126.15 347.71h0M91.08 314.64h0M111.31 338.19h0M133.97 316.61h0M100.67 346.37h0M97.52 325.07h0M122.51 325.38h0M79.67 346.38h0M57.5 324.4h0M130.22 317.91h0M151.41 349.16h0M59.2 320.8h0M97.86 316.63h0M148.63 316.51h0M130.12 317.55h0M130.24 350.95h0M123.43 331.4h0M51.82 345.33h0M100.98 341.23h0M99.51 344.87h0M85.8 335.85h0M104.72 344.46h0M99.15 315.84h0M118.3 338.61h0M92.83 344.26h0M107.58 326.21h0M92.47 319.45h0M104.97 330.95h0M147.15 328.82h0M45.8 343.88h0M53.13 321.67h0M122.86 319.04h0M87.46 314.25h0M80.98 342.13h0M138.68 323.08h0M51.49 327.51h0M59.42 331.65h0M50.68 339.4h0M107.34 335.66h0M91.34 335.78h0M70.04 319.69h0M92.36 309.39h0M159.81 324.36h0M120.59 325.11h0M75.61 334.33h0M120.75 340.64h0M54.95 335.23h0M96.55 336.1h0M125.02 342.52h0M100.12 343.37h0M80.77 342.7h0M78.14 322.02h0M64.05 326.35h0M141.09 325.26h0M148.07 351.12h0M92.74 331.37h0M97.25 325.65h0M45 340.36h0M104.26 338.38h0M63.24 333.99h0M126.03 307.93h0M148.23 338.59h0M98.41 337.88h0M107.9 327.54h0M117.97 337.61h0M45.83 339.69h0M99.96 305.08h0M106.38 328.08h0M55.22 338.54h0M124.29 349.16h0M148.09 345.06h0M158.36 325.97h0M72.65 338.22h0M110.95 336.5h0M129.66 350.82h0M110.76 339.14h0M148.41 335.69h0M114.53 343.02h0M134.64 325.49h0M140.82 339.46h0M159.6 302.9h0M143.86 321.76h0M159.14 351.24h0M145.05 331.82h0M151.37 348.94h0M98.44 315.63h0M160.17 350.65h0M89.79 341.57h0M102.71 335.91h0M70.22 314.45h0M71.66 326.82h0M88.78 312.6h0M85.28 339.65h0M118.85 334.77h0M48.12 338.6h0M104.34 336.23h0M108.81 329.85h0M114.37 339h0M116.32 332.71h0M106.4 327.01h0" stroke="#ffbf00" stroke-width="1.6" stroke-linecap="round" fill="none"/>
<path d="M153.99 316.55h0M66.08 323.23h0M133.6 327.36h0M159.26 339.78h0M133.49 333.82h0M57.63 341.23h0M60.62 333.56h0M155.88 317.82h0M106.35 318.59h0M67.72 331.48h0M115.49 325.71h0M56.41 343.75h0M117.41 332.42h0M101.62 336.96h0M110.29 320.51h0M55.48 334.73h0M63.12 333.38h0M66.03 319.76h0M147.73 326.19h0M153 318.75h0M162.32 319.19h0M62.73 332.05h0M130.62 326.22h0M134.89 326.52h0M86.65 318.19h0M160.21 322.95h0M60.54 330.37h0M60.06 322.72h0M113.63 343.11h0M105.14 329.89h0M116.07 328.08h0M132.96 319.58h0M157.3 321.07h0M120.53 341.9h0M109.53 323.01h0M104.44 340.54h0M122.91 328h0M62.66 346.35h0M132.74 323.54h0M55.97 322.13h0M71.23 334.8h0M65.96 340.02h0M68.61 320.52h0M120.49 316.7h0M91.32 314.23h0M53.22 328.68h0M150.93 331.02h0M58.57 324.06h0M117.53 336.64h0M76.06 338.85h0M106.43 337.54h0M125.95 321.05h0M135.89 332.02h0M108.6 320.04h0M160.68 328.41h0M96.02 340.99h0M49.34 336.68h0M134.34 326.8h0M45.2 329.69h0M131.38 340.25h0M75.8 338.9h0M130.27 321.15h0M57.02 323.06h0M107.96 318.78h0M58.23 334.08h0M134.25 326.45h0M124.99 319.63h0M94.19 304.52h0M101.83 310.76h0M66.4 324.46h0M135.7 344.07h0M86.89 344.81h0M107.58 317.5h0M93.91 329.79h0M85.63 328.2h0M155.27 353.47h0M66.77 316.73h0M131.72 323.16h0M144.77 304.28h0M137.4 331.12h0M73.05 334.61h0M65.9 316.67h0M86.06 340.46h0M131.24 334.51h0M53.77 328.34h0M126.51 322.45h0M58 331.55h0M81.28 343.88h0M105.06 322.96h0M132.13 326.41h0M160.62 314.09h0M97.78 343.4h0M61.41 317.61h0M154.04 324.59h0M62.22 328.98h0M127.21 338.45h0M55.59 350.05h0M72.31 341.1h0M152.74 346.91h0M75.92 333.49h0M71.57 337.68h0M135.36 317.76h0M123.41 332.55h0M72.34 317.07h0M154.43 312.08h0M60.33 317.33h0M146.4 328.41h0M118.56 326.24h0M48.57 329.89h0M70.63 332.4h0M108.5 341.49h0M120.74 330.51h0M83.24 314.23h0M91.02 334.77h0M61.97 319.23h0M104.03 332.86h0M86.94 319.02h0M66.18 343.43h0M146.58 330.35h0M99.99 315.5h0M89.14 320.02h0M90.31 335.56h0M113.55 325h0M148.38 323.58h0M102.48 309.38h0M57.76 344.88h0M74.08 340.5h0M113.74 330.39h0M104.83 303.83h0M70.05 317.42h0M120.72 322.67h0M126.15 314.6h0M58.56 335.38h0M69.65 323.07h0M61.97 336.56h0M75.26 344.17h0M124.11 357.41h0M56.31 316.89h0M51.8 324.41h0" stroke="#ffa600" stroke-width="1.6" stroke-linecap="round" fill="none"/>
<path d="M79.1 334.99h0M147.33 322.74h0M104.13 306.31h0M154.85 320.72h0M110.6 318.14h0M154.08 310.47h0M120.37 332.45h0M107.3 312.45h0M50.42 334.77h0M98.19 328.64h0M107.44 321.34h0M143.4 337.9h0M132.39 308.08h0M135.52 336.51h0M107.61 327.47h0M52.98 336.42h0M98.18 331.01h0M150.82 330.22h0M159.35 319.8h0M109.82 310.98h0M139.85 315.43h0M88.2 316.54h0M155.66 300.59h0M150.46 344.61h0M133.19 336.38h0M108.05 321.1h0M87.68 335.26h0M99.66 329.08h0M51.16 338.01h0M119.04 318.66h0M92.09 325.75h0M102.43 314.34h0M110.66 324.22h0M55.95 323.78h0M79.57 340.46h0M125.75 326.1h0M53.61 319.82h0M81.89 336.21h0M126.26 333.23h0M102.27 317.37h0M153.15 329.51h0M134.42 321.54h0M152.05 321.98h0M55.98 332.76h0M49.97 328.53h0M58.3 334.64h0M107.26 312.22h0M101.7 311.04h0M121.88 321.87h0M131.54 326.47h0M129.5 334.32h0M138.89 321h0M158.86 297.65h0M112.03 343.95h0M72.17 320.51h0M104.05 311.03h0M138.03 330.39h0M103.8 323.95h0M97.41 328.09h0M88.41 344.57h0M110.55 336.95h0M136.78 308.92h0M153.89 325.68h0M62.72 337.3h0M124.99 335.99h0M137.07 332.56h0M97.36 320.67h0M162.87 312.52h0M130.11 320.81h0M132.7 320.97h0M84.98 323.58h0M130.45 314.94h0M95.11 318.46h0M57.19 334.5h0M151.86 331.57h0M95.2 323.45h0M139.22 323.33h0M79.15 343.58h0M82.57 320.79h0M62.32 337.76h0M68.48 312.66h0M73 319.27h0M106 318.95h0M68.6 333.33h0M142.5 310.6h0M157.61 321.75h0M98.21 317.05h0M71.49 321.26h0M90.39 317.18h0M89.14 313.87h0M126.4 347.34h0M158.97 324.99h0M134.66 306.68h0M111.7 338.74h0M65.61 329.01h0M130.09 311.5h0M62.24 336.39h0M71.3 334.73h0M152.95 317.44h0M97.03 315.89h0M104.16 337.43h0M88.61 315.72h0M53.35 333.14h0M96.6 320.27h0M55.42 335.8h0M158.01 320.46h0M69.22 340.62h0M128.18 304.17h0M136.33 322.49h0M121.38 337.34h0M69.02 334.28h0M107.62 338.17h0M59.33 315.07h0M133.89 319.39h0M92.97 296.81h0M49.78 341.86h0M141.83 326.18h0M152.91 341.43h0M135.56 307.54h0M123.21 327.99h0M59.69 332.97h0M125.2 320.42h0M146.31 318.95h0M116.45 342.64h0M123.09 308.07h0M106.3 333.57h0M129.66 317.72h0M58.78 342.64h0M61.1 319.67h0M128.73 327.59h0M146.52 326.44h0M61.83 312.78h0M76.36 318.16h0M131.66 322.13h0M153.09 314.89h0M56.72 334.73h0M139.75 311.09h0M143.36 318.66h0M120.56 323.33h0M87.18 337.16h0M128.21 305.9h0M61.42 321.53h0M107.74 327.14h0M145.36 334.63h0M126.37 331.18h0M160.5 327.89h0M102.02 322.61h0M104.59 323.23h0M81.62 312.93h0M106.14 331.06h0M108.57 337.25h0M71.33 366.98h0M126.64 335.41h0M87.26 321.42h0M84.31 320.62h0M61.66 344.9h0M121.73 346.76h0M68.56 336.64h0M111.51 342.66h0M87.65 317.64h0M148.78 310.66h0M132.48 328.46h0M162.52 313.26h0M98.69 341.75h0M54.07 332.47h0M98.82 329.4h0M68.05 330.15h0M58.75 334.93h0M63.9 336.04h0M136.43 315.45h0" stroke="#ff8c00" stroke-width="1.6" stroke-linecap="round" fill="none"/>
<path d="M76.29 333.83h0M48.1 331.85h0M61.29 317.37h0M58.52 340.21h0M149.76 324.33h0M154.22 309.09h0M76.28 311.75h0M63.76 323.66h0M56.73 320.58h0M95.59 326.35h0M90.49 322.77h0M72.35 321.66h0M149.7 320.72h0M153.95 311.81h0M150.36 336.24h0M83.25 317.76h0M117.75 304.73h0M63.3 328.13h0M86.9 346.89h0M68.1 324.24h0M118.36 334.67h0M51.95 316.21h0M152.55 320.37h0M109.51 335.79h0M47.62 325.72h0M103.14 324.8h0M110.78 333.41h0M92.75 340.18h0M154.46 312.8h0M147.39 331.46h0M124.3 316.62h0M122.21 309.67h0M128.19 309.38h0M136.2 324.95h0M138.17 334.63h0M114.71 329.43h0M128.93 329.3h0M125.38 317.23h0M77.99 320.87h0M88.2 319.43h0M140.19 310.24h0M124.04 303.66h0M115.37 335.4h0M70.9 324.25h0M136.66 317.18h0M131.18 323.63h0M163.02 325.18h0M101.75 327.23h0M79.74 314.35h0M150.84 327.92h0M58.57 359.57h0M151.01 311.08h0M101.28 321.18h0M54.31 335.59h0M135.42 316.07h0M149.15 348.75h0M71.48 314.21h0M76.65 315.34h0M103.23 333.8h0M46.48 329.19h0M80.84 320.47h0M104.71 310.57h0M86.5 333.75h0M149.83 318.94h0M135.66 340.8h0M155.88 317.87h0M133.27 306.94h0M77.1 318.51h0M88.98 334.94h0M131.96 334.06h0M76.02 315.25h0M109.46 322.49h0M130.4 315.32h0M56.14 321.92h0M156.42 320.83h0M121 327.89h0M61.78 328.35h0M140.83 319.37h0M133.15 332.31h0M67.88 319.11h0M122.5 307.23h0M63.94 321.21h0M156.87 316.33h0M68.4 318.69h0M102.77 339.1h0M119.09 325.09h0M68.45 336.97h0M124.2 309.37h0M137.44 314.2h0M115.87 341.92h0M163.57 309.61h0M146.58 338.37h0M133.04 322.69h0M71.54 321.14h0M131.94 312.12h0M101.86 320.32h0M92.35 339.37h0M154.71 327.71h0M110.98 310.6h0M56.69 321.08h0M100.37 338.94h0M154.23 318.78h0M142.82 329.41h0M62.98 316.98h0M105.42 322.83h0M54.92 326.73h0M143.77 328.49h0M74.57 338.15h0M84.29 313.37h0M126.25 321.25h0M103.17 306.27h0M133.53 334.78h0M125.05 327.6h0M76.59 338.44h0M86.31 335.21h0M135.62 314.92h0M126.63 319.33h0M129.88 322.94h0M161.19 326.4h0M150.54 327.68h0M150.65 321.22h0M105.09 327.46h0M128.38 314.03h0M124.99 339.19h0M115.68 334.03h0M120.92 321.67h0M99.54 327.2h0M110.25 326.14h0M86.87 322.71h0M85.48 312.31h0M130.59 314.16h0M126.44 340.04h0M85.26 327.25h0M68.4 324.99h0M111.39 312.33h0M156.65 314.14h0M106.56 332.16h0M57.68 332.11h0M100.62 323.86h0M101.1 334.01h0M98.36 328.28h0M63.46 331.2h0M152.4 339.55h0M104.66 320.75h0M121.5 341.38h0M132.14 321.19h0M70.12 313.33h0M59.22 337.87h0M105.87 338.13h0M101.8 336.65h0M116.91 324.51h0M127.6 304.32h0M87.72 315.65h0M106.36 324.9h0M135.04 307.9h0M96.84 328.41h0M106.38 338.41h0M119.37 308.97h0" stroke="#ff7300" stroke-width="1.6" stroke-linecap="round" fill="none"/>
<path d="M131.33 315.06h0M63.7 328.31h0M69.84 316.64h0M142.45 316.67h0M90.11 331.67h0M55.63 340.4h0M121.1 326.3h0M157.26 304.28h0M54.72 338.21h0M162.16 314.78h0M90.18 329.76h0M151.99 333.11h0M135.48 340.6h0M154.56 327.55h0M144.76 326.6h0M142.96 316.59h0M129.6 306.76h0M149 318.76h0M106.8 317.54h0M84.11 311.61h0M139.83 311.06h0M63.43 325.03h0M55.63 322.7h0M156.08 318.97h0M98.51 315.44h0M152.93 300.68h0M128.03 338.32h0M137.76 311.83h0M154.32 303.34h0M55.5 321.79h0M70.44 316.69h0M61.8 321h0M107.75 329.15h0M139.25 330.38h0M101.12 301.52h0M145.43 330.25h0M108.11 316.16h0M138.99 315.46h0M159.63 320.88h0M92.34 326.18h0M151.18 319.21h0M149.9 319.69h0M129.03 345.12h0M73.95 330.65h0M62.25 324.64h0M59.92 331.11h0M111.16 335.12h0M97.72 319.34h0M135.71 314.3h0M119.85 307.42h0M135.82 319.6h0M128.1 325.55h0M135.97 309.84h0M105.16 312.28h0M96.77 303.43h0M134.53 322.08h0M98.08 313.56h0M65.21 324.47h0M138.61 309.94h0M147.38 327.42h0M71.92 326.28h0M157.63 310.92h0M136.71 316.91h0M144.65 319.27h0M140.15 318.68h0M155.62 316.68h0M122.62 318.17h0M116.42 327.05h0M51.46 327.72h0M124.96 320.39h0M65.83 329.43h0M67.31 316.71h0M105.01 312.65h0M106.98 323.6h0M147.42 317.36h0M87.65 338.6h0M144.79 320.75h0M148.14 326.68h0M154.88 333.21h0M164.64 323.09h0M117.51 333.61h0M146.93 322.78h0M138.49 310.2h0M115.52 333.97h0M102.24 329.38h0M52.37 334.53h0M154.85 307h0M129.2 312.88h0M117.14 330.25h0M148.96 323.08h0M143.89 322.03h0M119.59 305.38h0M53.08 328.25h0M55.52 331.72h0M58.28 321.05h0M122.04 303.43h0M141.91 315.19h0M154.19 313.66h0M83.65 310.6h0M60.39 330.46h0M66.47 321.94h0M103.2 334.09h0M145.95 326.5h0M110.5 333.42h0M113.54 315.66h0M133.27 342.47h0M101.31 317.66h0M146.85 329.37h0M121.24 306.99h0M129.6 312.36h0M95.36 310.12h0M62.71 325.94h0M66.76 326.04h0M88.1 321.96h0M48.93 331.42h0M75.38 323.83h0M107.92 313.25h0" stroke="#ff5900" stroke-width="1.6" stroke-linecap="round" fill="none"/>
<path d="M148.63 316.79h0M125.09 315.25h0M129.74 311.04h0M130.86 310.6h0M133.42 308.23h0M125 315.91h0M160.57 329.88h0M99.57 312.86h0M70.21 316.29h0M100.49 298.84h0M134.53 312.13h0M125.76 340.55h0M152.98 320.12h0M104.56 337.7h0M132.69 314.1h0M160.5 343.26h0M149.99 324.03h0M106.67 324.31h0M101.6 326.64h0M131.55 320.64h0M150.27 330.15h0M142.32 317.55h0M142.04 317.55h0M162.3 303.65h0M50.36 325.83h0M124.83 306.63h0M71.87 336.92h0M111.46 321.15h0M84.18 325.87h0M95.16 317.92h0M129.92 318.45h0M133.53 306.37h0M137.34 314.31h0M122.39 325.26h0M76.24 330.07h0M107.41 330.82h0M146.82 320.25h0M127.07 310.13h0M99.12 304.37h0M55.69 317.78h0M108.28 327.35h0M132.99 326.07h0M65.21 326.19h0M103.99 301.62h0M121.24 309.34h0M150.37 350.22h0M152.84 312.07h0M145.67 318.79h0M97.8 303.95h0M152.57 315.73h0M158.88 316.21h0M124.7 333.48h0M72.31 316.94h0M71.89 320.96h0M66.68 336.04h0M105.16 306.13h0M128.05 327.93h0M143.7 329.14h0M113.53 312.73h0M83.43 325.19h0M157.59 310.56h0M100.7 328.54h0M126.36 308.65h0M88.2 313.67h0M92.6 325.63h0M160.97 307.03h0M101.18 309.73h0M62.35 333.61h0M136.15 314.61h0M138.53 320.35h0M105.05 301.62h0M125.09 321.05h0M99.8 303.74h0M101.17 302.83h0M57.37 330.12h0M51.58 322.15h0M151.56 330.42h0M106.7 318.95h0M147.31 304.61h0M83.15 329.59h0M130.49 311.61h0" stroke="#ff4000" stroke-width="1.6" stroke-linecap="round" fill="none"/>
<path d="M72.65 325.51h0M81.48 313.39h0M90.49 317.07h0M157.61 327.89h0M132.64 314.41h0M151.73 321.81h0M138.15 320.67h0M114.86 324.41h0M156.96 310.83h0M118.59 311.82h0M105.33 307.56h0M65.5 326.31h0M140.96 320.8h0M153.8 333.68h0M61.18 322.32h0M74.44 333.2h0M58.99 320.99h0M58 325.63h0M103.85 300.21h0M141.96 315.32h0M122.65 329.82h0M97.13 305.07h0M119.46 301.75h0M110.15 331.73h0M162.7 314.09h0M127.97 309.94h0M158.76 315.9h0M113.9 327.45h0M71.81 323.18h0M163.22 303.08h0M71.5 314.85h0M103.17 326.77h0M49.05 340.83h0M99.73 323.51h0M108.17 335.68h0M153.47 298.23h0M135.27 308.8h0M92.57 307.88h0M96.38 329.55h0M134.6 325.71h0M63.84 331.94h0M110.58 313.15h0M130.47 302.56h0M54.72 315.68h0M125.88 327.43h0M78.72 321.54h0" stroke="#ff2600" stroke-width="1.6" stroke-linecap="round" fill="none"/>
<path d="M152.65 294.52h0M84.44 339.28h0M133.34 306.45h0M102.87 307.91h0M107.82 299.88h0M100.4 325.36h0M95.8 334h0M106.36 307.23h0M141.52 318.64h0M88.1 319.09h0M77.3 335.01h0M150.59 309.04h0M141.2 325.31h0M73.7 335.76h0M61.43 355.96h0M107.41 320.59h0M100.69 312.06h0M94.47 301.32h0M143.9 315.63h0M112.01 337.09h0" stroke="#ff0d00" stroke-width="1.6" stroke-linecap="round" fill="none"/>
<path d="M100.97 314.82h0M90.57 319.95h0M115.39 316.44h0M140.21 313.24h0M90.47 320.83h0M134.74 316.89h0M49.71 331.97h0M83.44 340.27h0M138.29 309.04h0M157.35 296.38h0M71.98 326.45h0M132.77 319.14h0M89.76 312.82h0M99.98 327.32h0M100.46 322.75h0M155.37 299.32h0M161.78 299.14h0M89.06 299.71h0M99.13 297.87h0M106.8 309.48h0M156.28 303.25h0M99.55 324.42h0M93.28 299.82h0" stroke="#f20000" stroke-width="1.6" stroke-linecap="round" fill="none"/>
<path d="M58.12 339.36h0M103.33 308.65h0M161.15 304.85h0M94.65 327.91h0M94.59 296.67h0M104.98 329.46h0M102.68 297.13h0M87.76 318.89h0" stroke="#d90000" stroke-width="1.6" stroke-linecap="round" fill="none"/>
<path d="M126.86 309.32h0M158.97 318h0M121.33 300.01h0M117.45 331.24h0M85.35 329.52h0" stroke="#bf0000" stroke-width="1.6" stroke-linecap="round" fill="none"/>
<path d="M160.85 307.48h0" stroke="#a60000" stroke-width="1.6" stroke-linecap="round" fill="none"/>
<path d="M129.45 307.38h0M124.6 304.09h0M160.39 302.05h0M100.29 311.8h0M148.02 335.31h0" stroke="#8c0000" stroke-width="1.6" stroke-linecap="round" fill="none"/>
<path d="M83.53 413.67h0M64.45 403.15h0M85.28 380.87h0M93.57 400.73h0M150.3 387.5h0M71.76 400.43h0M95.13 416.72h0M82.9 416.65h0M64.5 393.94h0M76.3 400.96h0M84.71 411.41h0M74.9 399.2h0M88.63 410.71h0M64.04 395.44h0M72.53 404.16h0M74.5 398.16h0M73.14 400.03h0M97.5 425.07h0M110.2 414.01h0M138.68 418.95h0M95.06 418.36h0M93.81 422.3h0M121.36 421.34h0M117.46 414.75h0M112.82 417.65h0M117.03 421.36h0M106.95 418.14h0M104.03 425.94h0M113.86 421.92h0M132.7 408.64h0M152.77 399.36h0M161.39 399.49h0M117.77 396.07h0" stroke="#00008c" stroke-width="1.6" stroke-linecap="round" fill="none"/>
<path d="M78.59 412.36h0M89.39 378.64h0M95.26 385.16h0M98.16 387.15h0M88.06 409.35h0M89.45 385.98h0M127.52 400.21h0M68.31 392.36h0M115.03 417.01h0M88.78 396.12h0M65.88 379.89h0M137.88 413.05h0M117.87 389.57h0M118.13 390.16h0M112.59 393.83h0M103.1 378.63h0M75.46 403.5h0M88.33 425.94h0M73.53 382.08h0M98.39 382.17h0M126.11 418.88h0M152.94 379.53h0M48.18 372.8h0M112.61 398.33h0M158.8 385.21h0M83.01 401.23h0M79.45 383.87h0M66.97 389.25h0M74.67 384.36h0M98.92 397.3h0M75.84 404.63h0M107.55 367.4h0M92.69 385.48h0M119.33 423.82h0M72.78 390.51h0M95.81 401.93h0M80.31 404.9h0M92.54 384.98h0M76.99 390.18h0M116.19 394.44h0M106.16 372.48h0M96.38 372.6h0M98.05 426.16h0M103.68 422.46h0M79.73 406.65h0M90.41 406.25h0M88.55 376.61h0M86.95 386.55h0M61.19 398.48h0M92.08 409.29h0M76.61 413.05h0M66.77 398.48h0M96.45 413.7h0M82.74 401.31h0M61.22 388.29h0M72.28 397.68h0M72.46 400.89h0M68.4 401.92h0M81.39 408.66h0M58.32 395.23h0M78.24 399.3h0M76.1 406.16h0M70.99 407.87h0M66.36 396.92h0M90.21 401.91h0M56.85 388.81h0M62.05 402.62h0M56.61 389.43h0M68.41 398.75h0M95.72 411.13h0M108.9 414.08h0M80.53 415.84h0M85.21 413.26h0M69.14 403.36h0M76.24 406.34h0M85.04 407.67h0M76.45 402.74h0M74.06 412.99h0M69.65 396.11h0M90.11 406.53h0M65.14 393.09h0M64.82 401.35h0M84.72 403.51h0M65.12 398.78h0M63.31 396.32h0M77.57 396.68h0M78.67 401.56h0M97.79 405.02h0M73.64 398.26h0M54.85 396.08h0M78.12 398.72h0M62.56 389.99h0M97.2 415.8h0M82.05 406.05h0M105.69 425h0M112.14 415.06h0M129.53 417.83h0M127.15 411.75h0M130.56 415.66h0M124.62 422.8h0M108.96 424.65h0M97.93 422.74h0M94.24 430.12h0M107.86 416.66h0M108.22 418.81h0M119.81 419.92h0M111.04 418.75h0M132.61 419.66h0M122.66 416.04h0M96.12 424.94h0M120.98 420.92h0M117.68 420.1h0M110.59 426.99h0M129.27 417.5h0M123.51 413.85h0M123.57 419.17h0M123.41 414.65h0M101.01 422.43h0M119.15 420.56h0M119.3 424.11h0M98.96 417.76h0M95.5 428.61h0M138.55 422.04h0M121.35 421.55h0M110.24 424.07h0M124.67 413.57h0M116.96 420.43h0M111.65 420.89h0M131.96 414.68h0M128.71 412.07h0M147.52 407.72h0M152.18 406.53h0M150.22 402.24h0M154.1 410.71h0M153.57 397.11h0M152.75 408.27h0M140.67 409.73h0M154.29 404.23h0M147.74 408.28h0M151.47 405.21h0M150.13 403.04h0M152.87 398.46h0M118.96 396.73h0M115.51 397.53h0M110.93 393h0M123.48 399.42h0M124.17 398.18h0M77.57 395.83h0M69.46 392.6h0M70.85 393.67h0M71.03 391.88h0" stroke="#0000a6" stroke-width="1.6" stroke-linecap="round" fill="none"/>
<path d="M82.33 383.69h0M85.79 384.87h0M102.88 392.06h0M141.42 407.77h0M90.57 382.25h0M113.88 405.66h0M110.77 387.22h0M152.26 391.11h0M82.31 385.01h0M121.5 398.68h0M116.13 401.1h0M128.15 383.88h0M146.81 402.57h0M91.02 402.38h0M112.94 368.38h0M102.56 404.24h0M117.29 413.76h0M87.64 396.06h0M83.67 391.42h0M102.93 424.1h0M88.59 385.76h0M129.77 395.93h0M117.6 385.32h0M86.3 386.02h0M146.65 389.51h0M118.89 382.54h0M54.36 380.76h0M114.78 421.97h0M122.43 387.07h0M117.3 413.05h0M95.61 389.4h0M119.35 390.17h0M101.42 422.28h0M108.79 389.64h0M73.36 419.63h0M82.13 384.79h0M100.92 397.03h0M96.26 378.43h0M130.51 391.5h0M87.65 397.63h0M114.28 393.69h0M141.2 400.96h0M110.3 391.71h0M73.52 399.32h0M115.19 401.47h0M116.4 412.18h0M152.61 399.42h0M84.3 388.82h0M95.09 397.99h0M98.2 379.8h0M119.46 407.83h0M87.43 385.42h0M105.73 388.72h0M82.92 387.03h0M120.86 390.25h0M76.84 404.22h0M120.06 417.06h0M91.29 421.38h0M61.94 400.1h0M70.5 384.72h0M141.29 410.06h0M81.55 400.93h0M66.79 402.77h0M87.06 407.84h0M67.19 390.96h0M77.11 403.37h0M64.09 397.76h0M75.26 406.9h0M70.38 401.76h0M74.85 402.75h0M65.46 400.06h0M76.36 407.18h0M77.05 395.7h0M61.32 404.05h0M60.41 398.98h0M82.98 401.47h0M90.89 412.08h0M82.21 403.9h0M80.23 401.19h0M79.08 403.32h0M77.32 398.76h0M88.15 411.38h0M62.37 400.1h0M77.03 397.34h0M85.78 405.44h0M74.07 408.67h0M98.59 404.01h0M81 403.79h0M74.5 400.64h0M76.33 412.76h0M57.28 405.51h0M66.99 392.08h0M72.87 403.4h0M64.49 397.78h0M80.39 415.37h0M64.77 395.81h0M80.38 399.94h0M79.07 408.85h0M68.19 407.07h0M77.76 408.37h0M73 402.69h0M99.4 416.38h0M83.53 406.89h0M105.82 425.08h0M109.48 419.61h0M110.93 422.05h0M109.9 423.93h0M117.18 421.37h0M113.67 421.01h0M102.85 426.28h0M114.16 423.41h0M109.41 424.91h0M118.82 418.54h0M105.86 422.96h0M105.1 417.54h0M82.67 428.23h0M81.79 435.73h0M117.56 416.61h0M118.54 426.14h0M125.48 418.54h0M108.12 428.69h0M123.7 411.07h0M135.61 417.11h0M108.89 419.06h0M133.68 413.62h0M105.68 423.61h0M109.86 423.6h0M126.97 419.81h0M119.83 414.86h0M111.85 423.33h0M122.07 413.58h0M125.64 416.57h0M105.21 410.09h0M128.2 417.33h0M109.96 422.13h0M108.44 423.3h0M161.27 404.75h0M147.55 406.27h0M145.56 407.96h0M146.07 401.76h0M151.7 408.82h0M145.56 403.94h0M158.55 404.82h0M153.11 400.77h0M123.14 398.61h0M127.67 399.23h0M117.24 397.32h0M126.44 397.3h0M112.27 398.24h0M117.7 395.42h0M120.5 399.23h0M115.14 393.61h0M112.22 393.65h0M111.46 396.21h0M123.63 397.6h0M67.15 387.51h0M69.02 392.9h0M68.16 393.11h0M62.91 390.18h0M66.42 392.59h0M72.42 387.64h0M72.37 393.71h0" stroke="#0000bf" stroke-width="1.6" stroke-linecap="round" fill="none"/>
<path d="M112.08 413.25h0M103.12 397.59h0M89.78 389.33h0M119.31 383.15h0M113.25 393.66h0M137.87 388.18h0M99.64 391.05h0M80.85 401.8h0M126.9 402.22h0M130.18 379.28h0M101.54 399.08h0M81.16 416.14h0M128.74 402.14h0M160.92 391.98h0M97.19 396.19h0M57.38 381.75h0M91.6 399.51h0M131.85 388.51h0M117.27 383h0M77.81 378.5h0M116.48 423.94h0M109.64 382.16h0M61.72 380.7h0M118.28 405.7h0M101.06 394.7h0M74.01 388.07h0M78.15 384.5h0M59.14 372.4h0M120.87 387.79h0M144.29 391.6h0M78.07 400.78h0M72.78 388.51h0M88.1 377.87h0M60.32 394.15h0M115.98 377.57h0M103.65 394.73h0M123.62 392.96h0M94.76 393.47h0M96.56 392.74h0M107.57 387.78h0M111.13 383.35h0M105.59 390.85h0M95.09 389.77h0M90.88 376.41h0M92.31 386.8h0M90.97 396.72h0M75.21 402.38h0M84.11 404.5h0M83.44 408.9h0M62.47 401.74h0M68 392.97h0M89.61 405.98h0M69.65 406.54h0M65.84 405.89h0M76.44 409.05h0M124.46 415.2h0M114.79 421.04h0M107.32 430h0M108.48 426.81h0M117.25 414.99h0M114.43 420.81h0M109.75 423.17h0M105.88 424.75h0M147.5 404.42h0M144.98 411.87h0M150.9 401.96h0M117.13 400.87h0M120.76 400.81h0M122.12 398.72h0M72.72 395.33h0M65.75 393.58h0M69.28 390.76h0M69.07 390.43h0M66.32 391.86h0M67.81 394.62h0M64.45 388.45h0M66.69 389.61h0M69.47 390.09h0M65.29 389.5h0M66.18 392.5h0M65.09 391.21h0" stroke="#0000d9" stroke-width="1.6" stroke-linecap="round" fill="none"/>
<path d="M71.33 394.94h0M66.33 393.25h0" stroke="#0000f2" stroke-width="1.6" stroke-linecap="round" fill="none"/>
<path d="M77.62 392h0" stroke="#000dff" stroke-width="1.6" stroke-linecap="round" fill="none"/>
<path d="M80.17 382.17h0M87.66 385.65h0M155.87 386.25h0M87.72 378.32h0M141.96 383.04h0M100.82 388.73h0M107 377.08h0M106.59 376.52h0M55.68 369.38h0M109.66 384.67h0M83.67 379.69h0M98.33 345.4h0" stroke="#008cff" stroke-width="1.6" stroke-linecap="round" fill="none"/>
<path d="M95.06 382.99h0M49.62 370.11h0M78.37 378.8h0M146.04 385.59h0M89.39 375.78h0M78.65 375.66h0M149.15 381.79h0M82.21 384.3h0M80.26 377.08h0M83.47 381.01h0M82.93 386.12h0M150.51 380.24h0M122.73 386.47h0M104.94 383.83h0" stroke="#00a6ff" stroke-width="1.6" stroke-linecap="round" fill="none"/>
<path d="M105.62 372.25h0M94.67 380.11h0M122.34 365.62h0M73.81 371.06h0M70.29 378.71h0M49.53 366.63h0M149.41 377.97h0M107.04 367.46h0M65.69 368.55h0M97.49 364.79h0M80.65 379.5h0M86.28 403.29h0M98.22 381.12h0M103.19 374.12h0M59.38 364.02h0M93.01 382.81h0M139.25 371.19h0M139.79 393.57h0M78.25 384.88h0M92.41 378.72h0M156.83 394.42h0M87.39 374.93h0M121.62 378.5h0M49.48 346.83h0M95.79 371.17h0M102.59 382.29h0M102.64 377.77h0M67.33 378.91h0M72.56 394.8h0M85.67 377.71h0M94.82 374.53h0M79.44 379.13h0M48.78 368.35h0M104.28 370.85h0M141.62 377.32h0M103.73 348.31h0M102.26 380.12h0M97.37 421.76h0M73.77 380.1h0M87.73 370.84h0M147.57 387.84h0M110.59 370.6h0M92.78 380.76h0M72.3 372.81h0M79.05 371.81h0M77.18 376.04h0M121.76 381.14h0M73.16 374.31h0M60.8 373.9h0M67.5 375.99h0" stroke="#00bfff" stroke-width="1.6" stroke-linecap="round" fill="none"/>
<path d="M113.4 374.35h0M48.52 367.55h0M83.24 377.74h0M86.76 379.09h0M103.51 374.96h0M74.98 379.32h0M112.47 380.29h0M75.95 380.88h0M108.01 368.79h0M112.54 379.04h0M105.69 370.8h0M103.45 371.71h0M76.76 376.96h0M123.33 367.83h0M119.38 393.16h0M52.24 369.63h0M120.67 372.72h0M68.48 366.41h0M99.88 358.19h0M104.17 366.5h0M90.94 378.73h0M74.16 372.55h0M86.73 355.71h0M99.55 389.33h0M73.43 375.31h0M107.32 376.2h0M99.69 369.42h0M66.58 372.81h0M62.73 374.73h0M64.69 369.97h0M132.93 360.95h0M101.31 370.13h0M95.4 384.32h0M118.64 377.9h0M61.71 374.58h0M99.42 377.75h0M104.81 375.02h0M100.1 376.55h0M105.93 366.1h0M138.58 371.16h0M98.39 374.22h0M73.58 388.01h0M118.37 362.04h0M97.37 374.55h0M93.42 380.09h0M151.19 380.71h0M67.93 372.73h0M123.79 362.48h0M99.66 368.21h0M59.67 378.82h0M94.56 367.98h0M91.9 370.08h0M101.14 369.05h0M71.81 384.13h0M101.8 372.48h0M89.53 372.82h0M112.11 378.43h0M54.15 370.01h0M117.57 375.14h0M95.18 372.29h0M61.69 369.64h0M110.21 373.87h0M70.17 365.8h0M59.77 373.85h0M123.55 381h0M119.3 374.76h0" stroke="#00d9ff" stroke-width="1.6" stroke-linecap="round" fill="none"/>
<path d="M80.32 375.49h0M82.66 374.86h0M52.75 371.77h0M79.66 383.53h0M74.03 375.05h0M123.01 379.36h0M147.23 386.14h0M75.99 372.09h0M94 380.91h0M60.53 361.33h0M120.76 382.82h0M60.19 357.92h0M136.28 388.64h0M95.53 377.18h0M110.78 379.49h0M122.45 368.41h0M55.03 366.72h0M116.46 367.52h0M60.84 365.59h0M125.25 370.19h0M84.26 356.86h0M146.56 381.59h0M113.9 376.61h0M95.94 374.6h0M140.8 363.11h0M96.37 371.52h0M102.51 389.8h0M150.03 383.92h0M152.79 377.56h0M47.05 360.01h0M65.03 374.67h0M63.53 369.96h0M81.4 386.02h0M67.68 366.99h0M98.27 364.47h0M59.87 398.28h0M116.07 377.68h0M106.33 374.71h0M49.93 363.99h0M84.05 377.16h0M106.06 349.01h0M73.17 388.14h0M73.73 376.92h0M120.41 359.29h0M63.39 366.11h0M76.27 367.33h0M109.74 370.53h0M123.47 372.5h0M147.42 362.53h0M58.13 375.06h0M135.85 361.03h0M121.11 378.59h0M148.54 368.05h0M73.3 359.23h0M67.55 372.03h0M68.95 365.37h0M88.27 368.55h0M139.38 378.52h0M101.94 373.59h0M84.87 383.43h0M81.38 380.17h0M119.25 387.12h0M118.33 363.18h0M116.58 375.31h0M127.61 389.45h0M86.13 377.35h0M136.63 394.26h0M93.03 366.95h0M88.9 372.32h0M96.5 373.19h0M79.54 377.16h0M56.99 370.25h0M87.27 376.47h0M132.18 383.14h0M151.28 377.69h0M97.18 370.65h0M102.36 382.07h0M88.9 374.51h0" stroke="#00f2ff" stroke-width="1.6" stroke-linecap="round" fill="none"/>
<path d="M52.15 362.58h0M68.7 364.3h0M100.42 368.27h0M117.37 379.42h0M127.3 364.53h0M156.33 367.07h0M118.64 418.13h0M55.34 371.96h0M68.12 375.38h0M104.2 368.47h0M82.58 368.49h0M77.35 408.56h0M146.36 383.55h0M108.07 362.52h0M122.6 373.18h0M64.35 353.91h0M72.53 361.53h0M89.43 373.68h0M68.37 385.02h0M107.25 371.6h0M105.8 366.51h0M103.37 354.24h0M57.01 356.02h0M71.85 372.72h0M72.57 374.75h0M107.62 365.19h0M137.67 391.12h0M56.81 371.5h0M73.89 368.33h0M54.75 356.19h0M87.55 370.35h0M56.33 363.16h0M135.55 361.92h0M123.82 361.36h0M85.14 376.73h0M126.83 373.09h0M116.74 374.1h0M117.79 356.03h0M89.63 373.14h0M157.15 372.68h0M65.79 368.15h0M96.45 379.95h0M144.35 356.26h0M99.12 360.88h0M101.55 369.01h0M114.11 365.08h0M153.54 369.96h0M144.03 374.94h0M64.89 371.43h0M98.69 369.9h0M53.35 344.81h0M124.59 357.39h0M56.96 373.34h0M141.34 366.2h0M76.66 350.52h0M140.79 370.94h0M106.36 361.77h0M98.03 365.49h0M113.55 359.17h0M124.32 376.99h0M99.61 372.83h0M104.55 365.31h0M97.18 367.82h0M100.76 364.14h0M135.19 368.24h0M111.83 365.42h0M129.58 364.84h0M120.1 373.15h0M92.07 372.32h0M104.81 376.89h0M130.16 364.85h0M94.42 364.6h0M156.62 369.66h0M69.21 376.8h0M113.75 384.15h0M123.73 368.84h0M121.66 367.64h0M126.68 365.99h0M56.85 366.36h0M56.34 367.6h0" stroke="#0dfff2" stroke-width="1.6" stroke-linecap="round" fill="none"/>
<path d="M88.37 365.56h0M66.2 372.35h0M57.33 355.93h0M85.95 361.77h0M119.87 359.98h0M52.81 363.85h0M119.19 366.55h0M98.99 363.36h0M111.27 376.99h0M150.46 364.9h0M121.32 358.71h0M157.88 371.02h0M65.62 371.91h0M109.94 365.1h0M114.7 354.42h0M86.3 357.43h0M147.2 380.85h0M59.35 377.21h0M99.91 367.45h0M76.64 369.38h0M84.47 370.93h0M141.35 362.23h0M63.33 365.34h0M65.39 360.96h0M68.87 371.81h0M98.52 368.9h0M121.19 370.92h0M122.4 367.46h0M95.81 370.06h0M88.1 372.86h0M113.55 370.06h0M90.01 363.23h0M140.85 374.41h0M127.44 366.91h0M72.51 371.03h0M50.35 360.92h0M137.35 361.07h0M55 367.7h0M99.36 367.47h0M107.94 365.54h0M68.95 363.5h0M85.2 360.58h0M118.63 361.95h0M92.54 377.56h0M70.05 364.76h0M118.26 370.82h0M55.06 371.9h0M62.2 365.44h0M142.68 366.8h0M129.02 360.02h0M63.86 369.46h0M159.27 365.24h0M129.82 365.72h0M159.71 364.22h0M60.46 367.1h0M51.04 371.27h0M125.64 353.82h0" stroke="#26ffd9" stroke-width="1.6" stroke-linecap="round" fill="none"/>
<path d="M97.25 354.33h0M150.65 366.27h0M124.48 360.43h0M118.31 372.96h0M66.5 361.42h0M50.02 352.76h0M85.8 359.78h0M160.11 368.77h0M53.79 366.71h0M121.9 361.76h0M81.95 364.86h0M70.47 357.08h0M65.48 367.94h0M129.09 356.98h0M122.84 372.4h0M152.95 374.67h0M63.98 362.18h0M55.19 362.85h0M102.84 371h0M159.48 372.6h0M77.48 354.07h0M73.49 362.82h0M99.86 369.63h0M158.45 364.69h0M122.35 371.88h0M90.48 369.68h0M122.57 358.13h0M55.08 361.58h0M73.32 370.66h0M126.47 360.1h0M65.13 359.25h0M133.06 361.86h0M114.2 348.15h0M157.82 367.29h0M114.75 373.08h0M82.81 369.55h0M154.1 357.09h0M48.25 352.3h0M106.56 367.19h0M122.01 363.86h0M45.67 347.36h0M55.6 361.37h0M111.86 361.21h0M91.82 366.43h0M127.49 365.36h0M83.83 358.46h0M63.25 350.27h0M125.9 366.56h0M154.42 370.68h0M91.09 366.07h0M61.64 361.41h0M121.5 363.12h0M125.99 354.61h0M89.78 363.68h0M97.44 360.2h0M134.27 363.81h0M98.34 371.37h0M108.61 360.87h0M111.63 358.89h0M123.14 355.1h0M68.82 365.51h0M159.04 347.83h0M126.48 365.1h0M103.25 362.19h0M61.49 362.2h0" stroke="#40ffbf" stroke-width="1.6" stroke-linecap="round" fill="none"/>
<path d="M121.28 363.54h0M155.85 361.29h0M49.97 363.48h0M119.84 354.57h0M57.4 363.67h0M108.54 357.22h0M80.63 351.95h0M156.04 367.53h0M141.05 364.29h0M120.25 362.41h0M163.52 369.03h0M55.17 360.27h0M128.51 362.73h0M157.06 357.86h0M130.27 354.14h0M101.26 359.73h0M131.63 356.85h0M55.91 359.08h0M121.54 360.85h0M108.19 361.9h0M61.91 366.43h0M115 354.57h0M89.48 354.54h0M51.17 364.21h0M68.6 360.71h0M144.01 365.69h0M75.22 376.13h0M134.72 357.37h0M149.17 361.83h0M72.44 369.8h0M102.47 354.33h0M72.77 358.02h0M104.93 365.38h0M79.57 378.33h0M159.39 370.12h0M153.51 363.71h0M157.65 367.49h0M155.89 368.99h0M118.87 366.9h0M120.48 355.2h0M125.77 365.16h0M93.64 365.95h0M62.98 357.23h0M141.56 360.31h0M95.42 358.96h0M95.99 360.8h0M135.29 352.56h0M72.02 362.07h0M114.84 362.4h0M126.49 355.39h0M53.44 356.43h0M59.76 366.68h0M55.94 370.83h0M131.47 365.7h0M130.2 354.72h0M92.27 360.71h0M67.88 368.7h0M92.79 368.7h0M50.34 362.45h0M160.62 368.94h0M59.27 363.25h0M50.07 364.21h0M58.34 358.89h0M70.22 359.6h0M87.22 372.55h0M89.84 368.21h0M87.39 352.71h0M93.73 368.29h0M116.36 356.49h0M61.31 361.17h0M93.49 354.79h0M91.65 367.73h0M88.14 356.16h0" stroke="#59ffa6" stroke-width="1.6" stroke-linecap="round" fill="none"/>
<path d="M122.89 362.35h0M60.97 341.69h0M93.42 350.94h0M92.13 371.67h0M134.37 357.52h0M87.74 358.14h0M50.71 360.09h0M152.18 353.96h0M153.07 364.91h0M117.27 358.67h0M97.71 348.63h0M149.06 356.44h0M145.28 363.69h0M69.03 364.33h0M69.11 355.36h0M91.34 355.47h0M64.05 353.72h0M85.96 354.51h0M98.74 356.78h0M113.67 346.96h0M96.3 365.2h0M107.66 363.32h0M105.66 369.21h0M55.35 363.52h0M80.16 350.11h0M122.06 353.22h0M83.93 352.93h0M56.72 357.81h0M128.5 362.28h0M130.68 363.69h0M62.12 352.51h0M76.47 365.62h0M153.75 355.65h0M107.17 351.93h0M98.41 365.36h0M112.78 360.86h0M55.82 363.17h0M149.65 357.27h0M57.22 364.86h0M92.28 348.81h0M156.29 363.36h0M101.34 347.32h0M128.98 377.02h0M97.26 365.43h0M60.83 366.59h0M83.13 359.31h0M47.68 345.75h0M97.05 362.66h0M83.72 353.61h0M84.88 357.61h0M60.65 352.43h0M149.41 355.19h0M54.68 353.66h0M57.65 369.47h0M62.19 372.2h0M83.46 361h0M148.66 357.36h0M140.19 356.27h0M120.17 356.28h0M117.48 358.76h0M119.71 352.67h0M150.09 353.06h0M138.36 354.88h0M149.21 372.72h0M142.34 355.65h0M104.82 353.85h0M94.41 373.17h0M57.4 356.64h0" stroke="#73ff8c" stroke-width="1.6" stroke-linecap="round" fill="none"/>
<path d="M119.67 366.5h0M161.11 364.32h0M90.9 353.87h0M90.45 349.94h0M81.47 356.3h0M131.66 357.21h0M98.38 354.08h0M89.18 356.28h0M130.43 366.44h0M101.34 363.08h0M60.66 349.45h0M98.25 356.41h0M146.54 352.86h0M125.59 366.19h0M78.68 365.06h0M123.15 350.77h0M157.22 357.83h0M86.99 354.3h0M128.34 362.66h0M148.68 352.8h0M89.48 357.05h0M49.82 353.06h0M114.9 359.87h0M158.19 363.57h0M96.26 349.78h0M93.19 357.73h0M144.79 362.19h0M147.73 355.86h0M76.73 347.27h0M64.12 349.64h0M139.18 311.72h0M68.53 356.85h0M62.48 357.18h0M76.49 368.5h0M97.32 364.83h0M138.62 356.02h0M76.69 359.54h0M148.21 357.79h0M100.59 366.85h0M71.57 355.7h0M123.19 358.56h0M119.08 351.98h0M79.9 365.08h0M120.62 362.75h0M66.64 351.68h0M75.71 353.6h0M100.05 357.42h0M70 358.59h0M149.98 362.22h0M47.97 351.27h0M131.83 365.37h0M98.2 361.22h0M116.01 362.33h0M157.82 373.99h0M45.33 348.67h0M133.7 365.16h0M74.31 350h0M126.6 362.14h0M126.1 358.44h0M120.58 362.71h0M129.33 359.96h0M80.07 354.89h0M134.72 359.09h0M107.28 351.84h0M120.37 352.44h0M90.74 352.84h0M107.29 360.03h0" stroke="#8cff73" stroke-width="1.6" stroke-linecap="round" fill="none"/>
<path d="M83.85 346.89h0M118.63 356.08h0M82.43 353.06h0M121.04 350.54h0M55.5 351.16h0M65.45 350.24h0M151.47 355.49h0M127.71 351.86h0M139.81 357.78h0M96.97 348.94h0M146.18 352.12h0M90.22 357.58h0M45.44 344.41h0M114.27 337.8h0M110.77 349.95h0M132.88 353.33h0M89 348.02h0M55.88 353.29h0M146.47 360.26h0M120.37 356.24h0M55.54 368.6h0M138.32 352.12h0M71.72 361.24h0M81.41 350.47h0M123.76 361.04h0M85.48 354.74h0M83.93 360.45h0M149.96 354.43h0M107.08 351.43h0M71.76 349.38h0M67.88 355.17h0M57.99 353.69h0M104.06 354.16h0M55.47 342.9h0M53.85 350.78h0M128.2 352.69h0M66.33 359.1h0M74.67 353.11h0M52.97 359.04h0M128.65 364.14h0M89.44 334.04h0M66.67 357.12h0M118.11 358.92h0M103.67 349.35h0M72.69 352.66h0M128.98 343.01h0M108.35 365.04h0M54.14 356.47h0M77.91 349.58h0M108.43 349.93h0M52.4 355.07h0" stroke="#a6ff59" stroke-width="1.6" stroke-linecap="round" fill="none"/>
<path d="M45.89 350.49h0M99.52 347.65h0M113.22 355.96h0M46.58 341.39h0M87.29 352.2h0M76.41 367.13h0M112.82 343.16h0M149.96 357.21h0M79.34 363.24h0M99.09 344.51h0M87.43 350.74h0M139.51 360.38h0M117.13 350.58h0M96 360.75h0M151.24 354.62h0M105.82 347.74h0M118.62 360.77h0M118.12 337.6h0M106.63 346.74h0M60.83 354.43h0M53.74 346.77h0M63.38 344.69h0M88.47 349.04h0M84.09 349.54h0M160.09 363.1h0M46.06 341.7h0M93.63 351.72h0M62.59 358.44h0M97.55 346.54h0M145.32 342.67h0M103.84 344.91h0M146.47 353.61h0M109.53 343.83h0M147.41 355.16h0M76.92 353.2h0M103.86 347.14h0M110.77 343.65h0M60.87 347.06h0M103.03 349.2h0M94.22 354.13h0M158.49 362.96h0M154.03 361.11h0M105.48 349.83h0M95.67 349.89h0M56.16 350.67h0M104.45 348.59h0M120.43 346.39h0M150.05 360.21h0M107.91 345.05h0M62.39 347.7h0M79.87 346.22h0M129.88 347.43h0M82.08 371.38h0M61.81 343.5h0M107.86 349.19h0M61.96 356.68h0M84.1 345.33h0M119.13 349.81h0M100.19 344.57h0M128.36 356.6h0M140.37 357.38h0M142.35 353.19h0M131.82 357.25h0M77.89 343.86h0M122.01 338.62h0M128.78 349.38h0M162.75 358.67h0M72.39 333.12h0M111.1 351.02h0M60.81 344.67h0M49.16 350.34h0M68.86 351.54h0M80.4 342.06h0M102.31 358.33h0M123.66 353.26h0" stroke="#bfff40" stroke-width="1.6" stroke-linecap="round" fill="none"/>
<path d="M131.98 347.26h0M83.71 346.14h0M148.94 358.43h0M72.39 354.72h0M109.33 343.53h0M110.95 343.14h0M92.25 348.92h0M134.39 352.05h0M127.2 330.88h0M54.73 350.36h0M128.38 335.24h0M118.63 344.99h0M146.37 351.64h0M153.56 350.68h0M161.65 358.04h0M107.54 352.42h0M46.32 345.48h0M76.8 344.81h0M62.05 350.09h0M72.91 352.36h0M117.76 347.53h0M101.82 349.62h0M59.51 345.13h0M147.88 349.99h0M108.56 344.62h0M106.18 352.53h0M102.11 348.39h0M94.92 371.3h0M125.38 351.9h0M84.27 335.4h0M132.81 351.39h0M156.99 361.49h0M77.48 346.23h0M112.85 343.31h0M107.92 350.15h0M125.22 348.21h0M101.67 367.52h0M146.52 353.67h0M54.02 346.3h0M84.18 352.14h0M114.12 345.4h0M53.77 360.92h0M161.9 364.01h0M60.37 341.42h0M119.28 345.43h0M86.71 342.73h0M72.71 353.18h0M148.92 354.56h0M83.85 355.4h0M135.79 348.15h0M108.34 323.03h0M45.89 350.09h0M90.29 353.03h0M61.18 331.18h0M103.67 322.71h0M118.14 346.94h0M96.74 350.78h0M50.99 349.49h0M112.33 341.53h0M160.87 348.79h0M70.53 345.77h0M78.1 341.33h0M127.08 352.92h0M150.12 356.22h0M59.68 343.35h0M140.81 356.26h0M112.68 345.42h0M143.55 347.81h0M104.41 348.6h0" stroke="#d9ff26" stroke-width="1.6" stroke-linecap="round" fill="none"/>
<path d="M155.96 352.5h0M61.93 334.19h0M53.12 341.92h0M109.32 344.85h0M139.52 317.7h0M67.3 345.03h0M87.17 352.61h0M77.06 349.45h0M103.33 348.1h0M89.87 342.69h0M55.44 346.63h0M72.42 358.6h0M119.25 335.67h0M110.57 346.29h0M155.13 348.95h0M110.84 310.78h0M99.31 354.01h0M109.93 328.83h0M133.72 348.56h0M131.23 345.61h0M142.18 330.27h0M98.89 348.32h0M141.7 324.57h0M95.47 342.11h0M71.74 345.36h0M71.4 337.46h0M163.7 349.78h0M104.82 349.89h0M48.35 346.09h0M56.59 346.53h0M93.33 341.02h0M79.89 349.22h0M90.75 347.46h0M96.62 350.94h0M146.55 334.25h0M125.4 350.11h0M47.29 344.54h0M85.82 344.34h0M134.87 345.65h0M119.02 336.48h0M51.15 338.69h0M146.53 338.61h0M48.73 343.34h0M144.72 332.3h0M76.24 340.88h0M95.97 342.74h0M116.86 336.75h0M151.6 324.41h0M52.44 336.94h0M124.96 343.29h0M141.61 354.58h0M59.13 349.23h0M67.83 348.31h0M149.06 346.85h0M126.33 354.16h0M88.1 347.64h0M106.66 344.58h0M52.34 355.35h0M134.47 343.59h0M105.83 346.98h0M123.46 351.48h0M107.59 321.84h0M91.93 340.48h0M124.89 362.63h0M117.51 336.47h0M147.78 348.66h0M83.3 339.57h0M78.72 343.54h0M110.35 345.98h0M87.21 345.04h0M69.95 346.42h0M77.87 318.1h0M63.15 346.36h0" stroke="#f2ff0d" stroke-width="1.6" stroke-linecap="round" fill="none"/>
<path d="M134.86 338.33h0M105.9 342.8h0M150.3 350.93h0M61.06 342.29h0M104.51 335.4h0M148.58 349.82h0M112.97 337.47h0M118.1 334.4h0M114.97 326.59h0M56.82 347.02h0M66.4 341.37h0M51.93 338.51h0M135.66 345.71h0M95.49 314.44h0M123.6 352.85h0M59.62 335.73h0M82.96 346.93h0M61.42 344.34h0M78.76 339.38h0M82.53 340.98h0M157.76 347.34h0M72.41 337.44h0M55.67 335.89h0M134.91 333.96h0M59.2 329.13h0M122.6 348.5h0M160.04 319.79h0M85.94 341.77h0M68.74 325.77h0M58.87 326.57h0M86.07 343.85h0M83.37 347.79h0M142.88 355.64h0M49.16 344.33h0M49.46 320.46h0M132.17 336.19h0M102.87 339.87h0M66.05 352.25h0M123.02 330.36h0M55.07 335.95h0M54.45 315.7h0M107.58 337.2h0M104.3 354.59h0M113.8 344.22h0M126.91 345.39h0M127.22 310.78h0M134.26 320.75h0M86.76 333.82h0M128.77 325.73h0M75.35 342.94h0M59.93 344.95h0M83.25 326.92h0M65.14 317.63h0M58.1 350.81h0M46.01 338.74h0M150.79 348.07h0M148.87 346.46h0M140.4 317.35h0M57.72 339.4h0M67.44 339.43h0M81.17 346.32h0M90.15 342.66h0M83.13 357.53h0M150.55 351.95h0M148.87 332.1h0M71.6 343.48h0M78.52 343.65h0M58.58 332.55h0M67.98 319.29h0M59.82 336.63h0M143 354.64h0M74.84 336.07h0M103.87 326.43h0M49.53 339.56h0M81.99 347.22h0M64.95 348.49h0M121.67 343.48h0M118.5 345.67h0M143.21 321.77h0M63.89 343.01h0" stroke="#fff200" stroke-width="1.6" stroke-linecap="round" fill="none"/>
<path d="M123.41 334.83h0M152.5 316.58h0M116.25 334.32h0M79.98 334.35h0M137.65 340.53h0M133.4 308.92h0M133.55 341.54h0M89.48 342.12h0M143.52 318.79h0M71.03 343.28h0M113.22 320.66h0M125.54 335.67h0M122.37 347.61h0M88.74 317.22h0M150.98 319.47h0M144.13 319.91h0M61.93 336.71h0M145.18 346.34h0M53.02 329.65h0M95.5 368.32h0M81.57 339.56h0M139.21 327.87h0M120.15 345.31h0M90.58 352.12h0M80.69 327.65h0M117.49 342.58h0M110.78 344.84h0M122.45 339.82h0M120.63 346.55h0M103.5 347.02h0M77.16 341.87h0M50.36 342.97h0M66.62 319.48h0M146.72 360.94h0M88.73 346.29h0M93.79 322.95h0M143.06 321.47h0M117.41 332.24h0M92.15 342.43h0M84.13 321.27h0M46.81 337.82h0M87.57 349.5h0M94.35 353.46h0M59.35 343.04h0M126.64 326.06h0M110.08 314.19h0M121.35 336.67h0M87.41 334.72h0M131.24 350.72h0M60.13 330.75h0M100.71 343.87h0M65.11 337.84h0M158.47 347.78h0M89.61 330.9h0M59.65 339.34h0M104.46 336h0M100.91 328.64h0M94.02 343.9h0M160.65 346.01h0M128.17 331.76h0M123.25 326.59h0M124.75 327.22h0M111.8 343.87h0M103.05 345.41h0M80.38 337.13h0M87.27 345.07h0M55.04 342.55h0M118.49 337.61h0M99.7 316.97h0M154.08 334.69h0M47.4 341.65h0M125.05 341.71h0M66.96 349.76h0M142.98 330.74h0M118.43 341.49h0M88.88 323.64h0M92.64 332.13h0M90.58 334.8h0M107.18 347.14h0M75.64 329.29h0M81.76 342.53h0M116.75 316.24h0M85.65 338.55h0M102.56 333.19h0M102.96 330.06h0M83 348.13h0M97.89 340.46h0M51.45 327.93h0M129.72 338.55h0M75.94 340.33h0M86.76 335.82h0" stroke="#ffd900" stroke-width="1.6" stroke-linecap="round" fill="none"/>
<path d="M124.02 314.29h0M121.28 325.57h0M121.79 339.13h0M82.1 336.58h0M83.58 327.86h0M71.48 340.33h0M143.6 348.04h0M83.12 347.25h0M56.4 339.13h0M50.72 324.92h0M147.86 336.97h0M62.17 334.99h0M52.11 335.27h0M83.49 335.54h0M114.4 315.95h0M104.66 319.58h0M147.09 336.7h0M99.64 339.86h0M69.32 312.29h0M99.76 327h0M162.74 337.95h0M71.96 323.22h0M87.53 342.62h0M123.67 339.39h0M99.93 326.36h0M68.17 336.63h0M66.89 325.95h0M99.41 329.63h0M125.26 339.44h0M96.11 333.29h0M135.8 315.94h0M108.06 343.95h0M95.96 346.08h0M71.54 327.36h0M115.68 343.67h0M54.85 339.28h0M132.86 325.82h0M68.99 320.19h0M108.67 322.4h0M143.45 344.67h0M79.57 322.58h0M112.55 322.92h0M99.42 338.96h0M102.49 312.61h0M60.63 324h0M146.31 336.89h0M105.94 347.61h0M150.21 343.19h0M73.23 315.89h0M92.89 336.95h0M105.43 324.55h0M147.42 348.95h0M106.8 340.62h0M97.32 336.5h0M100.15 324.86h0M65.58 344.49h0M83.29 331.01h0M52.27 342.85h0M124.06 335.36h0M79.35 336.35h0M81.72 342.81h0M81.58 342.26h0M127.09 331.03h0M70.08 335.72h0M58.24 340.74h0M124.14 335.59h0M81.71 332.28h0M101.39 340.52h0M81.17 338.76h0M63.3 341.08h0M86.55 330.14h0M154.17 320.23h0M96.24 301.65h0M128.76 341.62h0M153.95 325.02h0M157.49 324.35h0M132.64 331.93h0M102.62 339.76h0M73.97 311.97h0M98.76 334.74h0M162.33 334.62h0M60.42 337.77h0M107.23 343.67h0M144.48 334.06h0M56.26 318.49h0M101.97 342.65h0M119 341.46h0M60.03 339.36h0M100.39 353.68h0M154.63 331.32h0M147.66 349.9h0M78.38 332.05h0M51.59 335.12h0M59.63 321.28h0M85.12 333.52h0M121.4 315.97h0M93.27 344.25h0M139.92 330.39h0M110.19 341.04h0M164.8 298.95h0M130.6 342.59h0M69.13 339.58h0M110.19 331.4h0M71.25 331.33h0M136.33 334.06h0M117.41 329.57h0M120.61 338.75h0M106.41 318.62h0M118.53 329.49h0M143.38 344.91h0M110.39 356.13h0M78.76 335.93h0M116.4 323.02h0M80.95 340.79h0M114.44 320.2h0M55.78 346.02h0M49.09 333.38h0M105.52 328.93h0M91.24 312.17h0" stroke="#ffbf00" stroke-width="1.6" stroke-linecap="round" fill="none"/>
<path d="M55.38 331.99h0M160.56 318.55h0M67.4 345.5h0M97.06 327.17h0M53.74 321.8h0M134.87 315.95h0M64.83 325.58h0M145.14 321.49h0M93.02 331.02h0M127.5 327.57h0M107.41 321.9h0M76.85 320.62h0M125.31 336.79h0M135.05 329.43h0M144.92 316.63h0M138.76 324.32h0M85.94 334.98h0M87.77 335.18h0M86.12 317.12h0M89.57 319.99h0M72.56 315.85h0M50.41 338.56h0M124.72 338.37h0M158.83 305.69h0M114.44 328.08h0M130.43 309.38h0M129.69 314.27h0M102.72 308.87h0M66.45 322.76h0M128.19 354.09h0M149.85 354.47h0M56.16 325.35h0M124.97 321.49h0M45.87 340.12h0M107.76 318.22h0M51.95 316.58h0M143.33 330.78h0M103.12 319.36h0M95.41 344.27h0M65.72 326.58h0M140.28 345.45h0M61.76 349.99h0M59.06 334.18h0M83.37 337.19h0M86.21 332.92h0M111.96 322.87h0M113 324.53h0M134.84 335.65h0M63.1 345.85h0M120.95 338.44h0M80.42 323.67h0M66.12 341.51h0M138.72 320.59h0M138.17 345.02h0M144.9 333.14h0M145.97 317.85h0M126.22 339.21h0M122.22 306.62h0M62.34 323.23h0M111.14 333.76h0M144.93 328.88h0M105.65 314.58h0M103.06 334.85h0M89.36 322.14h0M121.93 340.25h0M61.22 331.67h0M68.83 321.18h0M100.99 321.69h0M54.33 327.79h0M94.2 336.38h0M98.79 326.33h0M55.63 337.83h0M128.46 331.61h0M57.85 340.82h0M155.98 319.28h0M59.74 337.44h0M49.1 338.52h0M71.46 315.44h0M158.29 315.45h0M101.51 330.88h0M140.55 320.34h0M71.29 313.63h0M97.62 321.81h0M89.36 319.51h0M52.91 318.73h0M128.15 327.56h0M104.8 319.25h0M73.16 340.21h0M155.1 316.2h0M90.24 332.04h0M137.73 318.65h0M93.07 337.03h0M59.77 329.95h0M101.96 301.09h0M84.02 339.85h0M63.3 314h0M56.97 323.14h0M139.7 318.87h0M152.73 320.07h0M109.62 339.51h0M77.85 320.79h0M88.23 347.51h0M57.27 323.89h0M63.48 326.17h0M88.01 336.92h0M89.03 337.83h0M46.52 335.29h0M157.01 347.96h0M73.99 341.05h0M99.87 343.68h0M111.16 336.53h0M64.49 343.42h0M63.71 332.95h0M63.12 337.21h0M127.36 323.61h0M122.3 333.83h0M123.52 318.93h0M60.62 331.08h0M130.52 324.87h0M56.2 342.86h0M74.71 336.92h0M133.02 326.04h0M102.04 337.12h0M70.78 320.44h0M70.89 334.78h0M53.37 335.49h0M144.91 324.07h0M48.77 340.94h0M146.35 326.7h0M147.52 331.31h0M55.97 336.45h0M137.28 319.49h0M66.24 339.32h0M148.51 341.56h0M116.58 332.59h0M63.01 326.84h0M99.21 329.4h0" stroke="#ffa600" stroke-width="1.6" stroke-linecap="round" fill="none"/>
<path d="M79.82 344.5h0M78.59 334.21h0M91.75 343.7h0M110.78 319.2h0M55.39 334.2h0M111.39 342.59h0M144.66 322.7h0M151.65 327.63h0M132.52 306.35h0M152.78 311.7h0M66.69 330.7h0M101.48 326.18h0M108.45 340.94h0M129.25 336.33h0M57.36 319.48h0M51.77 339.37h0M121.09 322.38h0M124.79 338.63h0M90.96 329.14h0M98.92 339.92h0M70.01 327.68h0M158.56 320.25h0M145.72 328.66h0M134.46 326.72h0M135.27 318.22h0M57.67 324.58h0M119.94 345.48h0M121.84 332.55h0M58.52 314.78h0M119.1 333.52h0M96.63 332.04h0M151.93 322.81h0M111.18 319.99h0M105.69 335.61h0M50.88 321.2h0M73.88 331h0M68.28 338.25h0M136.49 328.89h0M145.55 324.69h0M128.41 319.61h0M147.86 333.72h0M154.91 313.87h0M99.63 333.13h0M143.66 315.9h0M80.91 321.54h0M57.14 320.13h0M135.57 336.31h0M103.31 321.96h0M107.55 335.91h0M151.41 327.5h0M52.03 318.6h0M107.02 328.04h0M88.62 316.45h0M144.77 327.85h0M138.86 337.32h0M157.14 331.89h0M103.02 308.77h0M59.94 324.57h0M109.37 322.11h0M61.78 325.28h0M88.79 304.89h0M139.72 326.62h0M61.75 330.83h0M106.73 319.84h0M62.57 320.58h0M145.96 323.76h0M136.89 318h0M133.96 310.88h0M58.9 332.64h0M128.58 307.49h0M57.31 319.37h0M137.64 329.25h0M98.53 302.68h0M150.43 318.19h0M53.38 329.07h0M63.18 320.35h0M75.73 322.84h0M104.25 338.21h0M126.1 305.69h0M69.89 321.04h0M85.3 331.03h0M115.98 310.61h0M59.71 337.5h0M131.53 318.12h0M73.49 323.95h0M57.5 320.08h0M66.8 331.46h0M143.05 317.35h0M64.09 319.82h0M105.07 311.99h0M99.68 334.58h0M57.35 333.45h0M111.86 334.06h0M97.76 317.51h0M160.35 299.92h0M101.86 332.85h0M127.78 335.75h0M87.9 324.52h0M139.48 316.89h0M56.83 330.58h0M60.73 320.8h0M138.46 319.15h0M139.76 318.7h0M110.79 312.81h0M138.82 315.02h0M107.3 336.72h0M155.89 328.1h0M89.71 346.34h0M116.48 337.7h0M91.66 321.06h0M102.37 328.88h0M111.31 315.96h0M130.93 328.05h0M124.08 329.8h0M77.63 336.7h0M61.65 337.44h0M140.11 325.47h0M75.51 339.78h0M97.25 342.89h0M87.87 334.67h0M63.67 316.46h0M126.71 333.37h0M136.62 318.52h0" stroke="#ff8c00" stroke-width="1.6" stroke-linecap="round" fill="none"/>
<path d="M74.26 339.89h0M163.29 345.05h0M104.81 329.17h0M142.19 320.55h0M134.43 327.87h0M77.03 337.72h0M155.65 306.7h0M105.16 315.51h0M101.87 318.41h0M146.34 322.94h0M127.23 316.47h0M100.65 338.8h0M83.57 340.36h0M126.09 313.72h0M111.33 325.46h0M156.68 323.81h0M145.17 332.99h0M136.71 323.89h0M127.86 332.86h0M121.14 341.53h0M108.23 311.54h0M101.08 329.19h0M118.28 328.89h0M84.57 353.34h0M90.26 342.04h0M81.61 339.96h0M129.63 321.43h0M125.67 316.21h0M132.71 306.05h0M108.49 318.76h0M78.07 309.4h0M82.38 336.69h0M52.25 323.05h0M64.08 332.44h0M116.87 319.91h0M66.2 322.45h0M133.39 325.94h0M68.12 316.27h0M59.06 332.53h0M66.2 315.59h0M159.27 317.59h0M124.63 333.24h0M145.1 324.47h0M148.53 320.07h0M155.41 313.83h0M92.97 334.57h0M137.08 322.16h0M55.57 328.29h0M98.87 320.69h0M77.63 343.12h0M125.72 340.89h0M155.67 297.95h0M134.44 319.63h0M67.08 334.27h0M133.13 309.87h0M155.01 345.58h0M162.47 321.13h0M80.81 339.02h0M107.87 318.43h0M122.15 317.58h0M109.44 341.42h0M121.76 326.31h0M79.72 333.44h0M105.74 319.38h0M134.05 334.59h0M105.49 325.6h0M106.87 318.95h0M159.98 329.82h0M157.68 318.48h0M90.74 336.86h0M55.2 339.17h0M111.07 327.77h0M47.82 338.77h0M80.5 333.65h0M145.37 319.34h0M109.47 334.09h0M128.62 308.4h0M105.02 335.77h0M136.7 332.56h0M55.07 318.41h0M92.25 319.38h0M81.5 331.9h0M130.3 321.67h0M161.36 349.41h0M68.19 333.3h0M113.92 339.12h0M66.12 325.3h0M59.42 315.48h0M121.64 308.35h0M133.46 315.91h0M102.51 316.78h0M128 324.19h0M83.49 317.33h0M156.63 314.11h0M84.4 310.67h0M152.5 324.16h0M109.17 339.97h0M129.43 308.58h0M91.38 316.2h0M109.04 302.15h0M157.86 318.13h0M102.81 318.87h0M53.95 324.97h0M136.89 319.45h0M132.81 306.47h0M104.35 330.76h0M161.37 341.09h0M54.73 337.56h0M99.56 308.14h0M53.93 324.16h0M109.83 332.4h0M137.66 313.89h0M124.69 331.35h0M51.34 334.64h0M63.08 319.63h0M55.18 319.89h0M153.52 327.25h0M89.59 329.47h0M111.55 310.85h0M77.55 311.29h0M116.62 332.92h0M99.29 308.08h0" stroke="#ff7300" stroke-width="1.6" stroke-linecap="round" fill="none"/>
<path d="M122.18 320.01h0M113.1 330.88h0M130.95 349.73h0M111.46 331.81h0M143.7 319.41h0M127.17 319.79h0M81.7 335.31h0M116.92 327.92h0M160.55 300.83h0M131.3 309.83h0M129.5 306.78h0M133.86 319.16h0M139.52 332.45h0M101.33 326.18h0M54.06 320.05h0M100.08 320.69h0M66.46 330.18h0M118.18 333.06h0M134.7 307.84h0M108.96 309.99h0M102.12 300.87h0M84.42 338.49h0M72.72 340.21h0M111.76 319.53h0M86 319.06h0M102.05 319.42h0M101.5 322.87h0M121.61 305.37h0M83.02 331.99h0M141.25 313.89h0M134.7 329.47h0M120.04 334.69h0M158.37 301.32h0M144.07 327.19h0M96.22 334.22h0M56.95 320.56h0M156.55 305.18h0M93.26 334.91h0M59.64 332.84h0M61.8 319.25h0M100.13 327.67h0M126.68 338.96h0M77.45 330.93h0M72.89 319.83h0M84.61 327.22h0M123.8 317.34h0M159.35 318.76h0M112.72 329.07h0M128.58 324.93h0M122.58 301.72h0M100.16 309.82h0M95.15 310.92h0M158.07 309.75h0M107.13 318.95h0M89.24 316.89h0M128.23 321.81h0M162.91 316.68h0M137.8 324.29h0M134.47 309.24h0M83.73 313.62h0M104.03 334.11h0M107.88 327.73h0M88.13 315.24h0M108.54 322.45h0M133.54 335.6h0M58.1 325.74h0M147.37 329.73h0M126.51 299.17h0M88.5 335.87h0M124.24 311.94h0M96.6 328.41h0M77.13 316.76h0M61.89 330.32h0M155.39 307.58h0M108.53 298.56h0M105.76 304.86h0M137.97 317.71h0M143.68 326.6h0M129.75 324.55h0M114.5 329.45h0M117.51 323.05h0M80.2 335.46h0M64.51 316.45h0M142.96 323.61h0M115.71 318.65h0M143.66 326.29h0M132.49 309.49h0M106.55 298.76h0M97.45 328.67h0M72.95 324.13h0M132.95 312.36h0M134.58 312.41h0M61.53 339.48h0M157.15 315.04h0M106.74 334.4h0M89.48 334.11h0M140.31 323.75h0M56.62 325.08h0M72.74 322.92h0M160.1 308.33h0M74.38 339.47h0M131.4 306.9h0M127.1 319.99h0M121.81 317.01h0M147.9 323.72h0M151.3 317.6h0M115.37 334.84h0M156.48 316.59h0M138.19 325.34h0M121.38 325.54h0M101.88 327.69h0M97.4 311.27h0M154.97 318.67h0M159.61 321.26h0M68.56 322.48h0M98.8 334.58h0" stroke="#ff5900" stroke-width="1.6" stroke-linecap="round" fill="none"/>
<path d="M155.59 317.64h0M121.06 340.5h0M56.58 328.71h0M132.29 333.06h0M108.25 308.22h0M73.12 313.79h0M131.91 313.77h0M147.71 318.59h0M129.7 329.83h0M98.42 336.91h0M117.28 313.52h0M99.24 325.74h0M93.31 314.4h0M134.17 313.14h0M71.69 329.22h0M106.28 314.61h0M159.81 297.18h0M64.72 337.04h0M161.77 324.29h0M152.22 325.19h0M139.55 310.03h0M89.7 313.44h0M104.4 327.27h0M155.66 315.02h0M84.03 309.43h0M121.49 339.48h0M138.93 313.76h0M93.69 298.95h0M57.61 320.09h0M123.23 303.33h0M157.32 303.06h0M99.47 323.23h0M147.64 317h0M105.85 322.85h0M94.99 298.12h0M104.21 301.99h0M157.32 316.8h0M94.22 329.77h0M64.43 329.24h0M143.34 328.45h0M69.86 320.69h0M87.99 319.66h0M106.04 320.25h0M121.65 323.48h0M145.59 319.51h0M82.73 312.02h0M106.34 304.11h0M91.1 306.25h0M100.33 313.68h0M105.39 322.17h0M128.97 308.51h0M150.81 321.41h0M146.71 330.79h0M54.29 321.59h0M76.36 311.11h0M127.47 305.65h0M92.68 331.3h0M123.01 321.24h0M143.45 330.81h0M94.31 333.11h0M157.77 308.56h0M139.5 327.25h0M131.24 312.75h0M82.28 331.77h0M109.59 302.21h0M118.27 312.48h0M150.1 315.68h0M85.88 314.66h0M100.04 303.61h0M155.24 305.6h0M131.18 329.65h0M57.69 319.37h0M88.55 315.71h0M125.46 324.43h0M94.47 330.19h0M137.78 325.46h0M115.51 327.56h0M98.32 308.85h0M140.69 311.01h0" stroke="#ff4000" stroke-width="1.6" stroke-linecap="round" fill="none"/>
<path d="M52.77 329.38h0M45.74 329.23h0M123.52 299.14h0M78.79 318.16h0M101.87 313.61h0M102.86 301.63h0M118.17 315.34h0M123.02 311.61h0M134.66 318.06h0M92.65 319.89h0M60.86 322.05h0M99.71 300.27h0M104.66 299.78h0M99.68 302.62h0M138.87 315.71h0M120.03 299.69h0M96.25 296.84h0M54.18 317.58h0M99.21 313.11h0M133.62 324.05h0M99.08 328.39h0M142.17 322.61h0M127.48 318.57h0M106.25 325.22h0M152.95 300.75h0M148.81 303.96h0M137.14 307.11h0M139.05 321.1h0M128.17 303.97h0M159.17 317.41h0M125.32 315.25h0M98.05 329.67h0M118.37 328.33h0M159.88 317.39h0M67.9 325.5h0M136.59 321.54h0M157.17 298.31h0M111.08 328.41h0M103.01 336.35h0M117.16 337.43h0M98.27 335.73h0M153.51 303.27h0M141.69 319.18h0M102.76 300.56h0M105.73 324.01h0M131.96 330.4h0M113.63 332.62h0M64.68 316.92h0M91.77 324.9h0M109.63 324.07h0M57.17 329.23h0" stroke="#ff2600" stroke-width="1.6" stroke-linecap="round" fill="none"/>
<path d="M157.8 318.63h0M101.4 329.76h0M130.92 306.04h0M96.87 298.17h0M96.79 306.15h0M104.04 299.66h0M47.17 331.73h0M155.13 322.84h0M159.99 323.93h0M62.6 328.17h0M137.92 318.42h0M139.22 317.88h0M127.02 310.79h0M138.85 311.11h0M109.92 315.81h0M142.37 335.13h0M124.03 301.91h0M124.55 342.41h0M137.12 327.23h0M103.39 332.5h0M60.19 313.23h0M119.29 325.47h0" stroke="#ff0d00" stroke-width="1.6" stroke-linecap="round" fill="none"/>
<path d="M60.13 326.36h0M132.01 295.37h0M133.42 308.68h0M135.99 297.68h0M94.56 299.9h0M108.27 309.8h0M154.49 327.93h0M108.82 317.38h0" stroke="#f20000" stroke-width="1.6" stroke-linecap="round" fill="none"/>
<path d="M116.25 331.05h0M134.35 336.18h0M108.86 312.62h0M94.8 297.64h0M157.64 325.17h0M97.11 298.15h0M89.44 320.05h0M105.4 324.17h0M92 295.88h0" stroke="#d90000" stroke-width="1.6" stroke-linecap="round" fill="none"/>
<path d="M146.16 320.85h0M52.79 321.63h0M98.89 302.04h0M151.16 300.25h0" stroke="#bf0000" stroke-width="1.6" stroke-linecap="round" fill="none"/>
<path d="M156.47 294.01h0M107.84 325.94h0M163.97 309.5h0" stroke="#a60000" stroke-width="1.6" stroke-linecap="round" fill="none"/>
<path d="M96.95 298.33h0M98.1 297.06h0M157.31 296.6h0M111.94 323.9h0M71.69 319.25h0M155.85 295.81h0M134.58 312.08h0" stroke="#8c0000" stroke-width="1.6" stroke-linecap="round" fill="none"/>
<path d="M35.9 391.3L15.5 304.9M17.5 307.72L15.5 304.9L14.97 308.31" stroke="#444" stroke-width="0.8" fill="none"/>
<text x="21.4" y="353.4" font-size="6" text-anchor="middle" fill="#333" stroke="#333" stroke-width="0.22" style="font-family:'Liberation Sans',Arial,sans-serif" transform="rotate(76.7 21.4 353.4)" dominant-baseline="central">Elevation (m)</text>
<path d="M43.6 405L100.9 456.3M97.65 455.13L100.9 456.3L99.38 453.2" stroke="#444" stroke-width="0.8" fill="none"/>
<text x="64.8" y="430.2" font-size="6" text-anchor="middle" fill="#333" stroke="#333" stroke-width="0.22" style="font-family:'Liberation Sans',Arial,sans-serif" transform="rotate(45 64.8 430.2)" dominant-baseline="central">UTM Easting (m)</text>
<path d="M111.8 454.1L171.8 399.5M170.31 402.62L171.8 399.5L168.56 400.69" stroke="#444" stroke-width="0.8" fill="none"/>
<text x="149.4" y="426.9" font-size="6" text-anchor="middle" fill="#333" stroke="#333" stroke-width="0.22" style="font-family:'Liberation Sans',Arial,sans-serif" transform="rotate(-43.8 149.4 426.9)" dominant-baseline="central">UTM Northing (m)</text>
<text x="15.6" y="23.6" font-size="12.2" text-anchor="middle" fill="#222" stroke="#222" stroke-width="0.2" style="font-family:'Liberation Serif','Times New Roman',serif">(a1)</text>
<text x="15.7" y="278.5" font-size="12.2" text-anchor="middle" fill="#222" stroke="#222" stroke-width="0.2" style="font-family:'Liberation Serif','Times New Roman',serif">(b1)</text>
</svg>
</body></html>
